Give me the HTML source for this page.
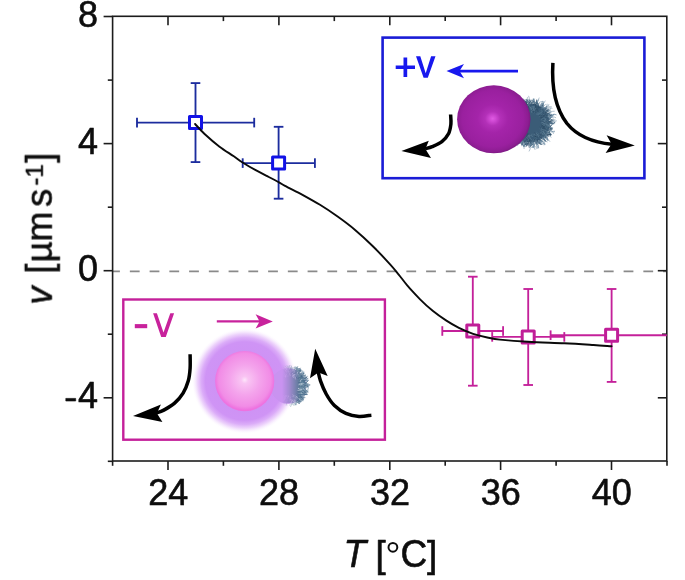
<!DOCTYPE html>
<html><head><meta charset="utf-8"><title>v vs T</title>
<style>html,body{margin:0;padding:0;background:#fff;}body{width:685px;height:580px;overflow:hidden;font-family:"Liberation Sans",sans-serif;}svg{display:block}</style>
</head><body>
<svg width="685" height="580" viewBox="0 0 685 580">
<defs>
<radialGradient id="gP" cx="0.485" cy="0.49" r="0.52">
<stop offset="0" stop-color="#de5ce2"/><stop offset="0.07" stop-color="#d24bd6"/><stop offset="0.2" stop-color="#b330b8"/><stop offset="0.4" stop-color="#a424a9"/><stop offset="0.8" stop-color="#9a209f"/><stop offset="0.93" stop-color="#8d1d92"/><stop offset="1" stop-color="#7a1880"/>
</radialGradient>
<radialGradient id="gGlow" cx="0.5" cy="0.5" r="0.5">
<stop offset="0" stop-color="#cc8ef4"/><stop offset="0.74" stop-color="#cf94f5"/><stop offset="0.82" stop-color="#d59ef7" stop-opacity="0.85"/><stop offset="0.89" stop-color="#dcaaf8" stop-opacity="0.52"/><stop offset="0.95" stop-color="#e8c4fb" stop-opacity="0.18"/><stop offset="1" stop-color="#ffffff" stop-opacity="0"/>
</radialGradient>
<radialGradient id="gPink" cx="0.5" cy="0.48" r="0.5">
<stop offset="0" stop-color="#fde6fb"/><stop offset="0.12" stop-color="#f9c4f3"/><stop offset="0.5" stop-color="#f4a4ec"/><stop offset="0.88" stop-color="#f18ce6"/><stop offset="1" stop-color="#ee72e0"/>
</radialGradient>
<filter id="blur1" x="-20%" y="-20%" width="140%" height="140%"><feGaussianBlur stdDeviation="0.5"/></filter>
<filter id="blur2" x="-20%" y="-20%" width="140%" height="140%"><feGaussianBlur stdDeviation="0.7"/></filter>
<linearGradient id="lgB" gradientUnits="userSpaceOnUse" x1="282" y1="0" x2="300" y2="0"><stop offset="0" stop-color="#000"/><stop offset="0.4" stop-color="#555"/><stop offset="1" stop-color="#fff"/></linearGradient>
<mask id="mB" maskUnits="userSpaceOnUse" x="260" y="350" width="70" height="70"><rect x="260" y="350" width="70" height="70" fill="url(#lgB)"/></mask>
<filter id="tb" x="-5%" y="-5%" width="110%" height="110%"><feGaussianBlur stdDeviation="0.35"/></filter>
</defs>
<rect width="685" height="580" fill="#ffffff"/>
<line x1="112.6" y1="271.3" x2="666.8" y2="271.3" stroke="#8a8a8a" stroke-width="1.7" stroke-dasharray="9.8 9.95" stroke-dashoffset="2.5"/>
<g stroke="#1c1c1c" stroke-width="1.6" fill="none">
<rect x="112.6" y="16.3" width="554.2" height="444.7"/>
<line x1="112.6" y1="461.0" x2="112.6" y2="465.8"/>
<line x1="168.0" y1="461.0" x2="168.0" y2="470.0"/>
<line x1="168.0" y1="16.3" x2="168.0" y2="25.3"/>
<line x1="223.4" y1="461.0" x2="223.4" y2="465.8"/>
<line x1="223.4" y1="16.3" x2="223.4" y2="21.1"/>
<line x1="278.9" y1="461.0" x2="278.9" y2="470.0"/>
<line x1="278.9" y1="16.3" x2="278.9" y2="25.3"/>
<line x1="334.3" y1="461.0" x2="334.3" y2="465.8"/>
<line x1="334.3" y1="16.3" x2="334.3" y2="21.1"/>
<line x1="389.8" y1="461.0" x2="389.8" y2="470.0"/>
<line x1="389.8" y1="16.3" x2="389.8" y2="25.3"/>
<line x1="445.2" y1="461.0" x2="445.2" y2="465.8"/>
<line x1="445.2" y1="16.3" x2="445.2" y2="21.1"/>
<line x1="500.6" y1="461.0" x2="500.6" y2="470.0"/>
<line x1="500.6" y1="16.3" x2="500.6" y2="25.3"/>
<line x1="556.1" y1="461.0" x2="556.1" y2="465.8"/>
<line x1="556.1" y1="16.3" x2="556.1" y2="21.1"/>
<line x1="611.5" y1="461.0" x2="611.5" y2="470.0"/>
<line x1="611.5" y1="16.3" x2="611.5" y2="25.3"/>
<line x1="667.0" y1="461.0" x2="667.0" y2="465.8"/>
<line x1="112.6" y1="461.3" x2="107.8" y2="461.3"/>
<line x1="112.6" y1="397.8" x2="103.6" y2="397.8"/>
<line x1="666.8" y1="397.8" x2="657.8" y2="397.8"/>
<line x1="112.6" y1="334.2" x2="107.8" y2="334.2"/>
<line x1="666.8" y1="334.2" x2="662.0" y2="334.2"/>
<line x1="112.6" y1="270.7" x2="103.6" y2="270.7"/>
<line x1="666.8" y1="270.7" x2="657.8" y2="270.7"/>
<line x1="112.6" y1="207.2" x2="107.8" y2="207.2"/>
<line x1="666.8" y1="207.2" x2="662.0" y2="207.2"/>
<line x1="112.6" y1="143.6" x2="103.6" y2="143.6"/>
<line x1="666.8" y1="143.6" x2="657.8" y2="143.6"/>
<line x1="112.6" y1="80.1" x2="107.8" y2="80.1"/>
<line x1="666.8" y1="80.1" x2="662.0" y2="80.1"/>
<line x1="112.6" y1="16.5" x2="103.6" y2="16.5"/>
</g>
<g font-family="Liberation Sans, sans-serif" font-size="36" fill="#111" stroke="#111" stroke-width="0.6" stroke-linejoin="round" filter="url(#tb)">
<text transform="translate(168.2,504.6) scale(1,1.04)" text-anchor="middle">24</text>
<text transform="translate(279.1,504.6) scale(1,1.04)" text-anchor="middle">28</text>
<text transform="translate(390.0,504.6) scale(1,1.04)" text-anchor="middle">32</text>
<text transform="translate(500.8,504.6) scale(1,1.04)" text-anchor="middle">36</text>
<text transform="translate(611.7,504.6) scale(1,1.04)" text-anchor="middle">40</text>
<text transform="translate(97.9,27.1) scale(1,1.04)" text-anchor="end">8</text>
<text transform="translate(97.9,154.2) scale(1,1.04)" text-anchor="end">4</text>
<text transform="translate(97.9,281.3) scale(1,1.04)" text-anchor="end">0</text>
<text transform="translate(97.9,408.4) scale(1,1.04)" text-anchor="end">4</text>
<rect x="65.8" y="398.4" width="9.9" height="2.6"/>
</g>
<g font-family="Liberation Sans, sans-serif" fill="#111" stroke="#111" stroke-width="0.6" stroke-linejoin="round" filter="url(#tb)">
<text transform="translate(343.6,567) scale(1,1.04)" font-size="37" font-style="italic">T</text>
<text x="375.6" y="566.5" font-size="37">[</text>
<text x="427.1" y="566.5" font-size="37">]</text>
<circle cx="392.9" cy="547.3" r="4.4" fill="none" stroke="#111" stroke-width="2"/>
<text transform="translate(400.4,567) scale(1,1.04)" font-size="37">C</text>
<text transform="translate(51.8,304.6) rotate(-90)" font-size="36"><tspan font-style="italic" x="0">v</tspan><tspan x="31">[</tspan><tspan x="42.2">&#181;m</tspan><tspan x="97.8">s</tspan><tspan font-size="24" x="119" dy="-9.4">-1</tspan><tspan x="141.8" dy="9.4">]</tspan></text>
</g>
<g stroke="#1c2c9e" stroke-width="1.85" fill="none">
<line x1="137" y1="122.6" x2="254.2" y2="122.6"/>
<line x1="195.5" y1="83.1" x2="195.5" y2="162.1"/>
<line x1="137" y1="117.8" x2="137" y2="127.39999999999999"/>
<line x1="254.2" y1="117.8" x2="254.2" y2="127.39999999999999"/>
<line x1="190.7" y1="83.1" x2="200.3" y2="83.1"/>
<line x1="190.7" y1="162.1" x2="200.3" y2="162.1"/>
</g>
<g stroke="#1c2c9e" stroke-width="1.85" fill="none">
<line x1="242.7" y1="163.1" x2="314.9" y2="163.1"/>
<line x1="278.6" y1="126.8" x2="278.6" y2="198.7"/>
<line x1="242.7" y1="158.29999999999998" x2="242.7" y2="167.9"/>
<line x1="314.9" y1="158.29999999999998" x2="314.9" y2="167.9"/>
<line x1="273.8" y1="126.8" x2="283.40000000000003" y2="126.8"/>
<line x1="273.8" y1="198.7" x2="283.40000000000003" y2="198.7"/>
</g>
<g stroke="#c4209a" stroke-width="1.85" fill="none">
<line x1="442.3" y1="331.0" x2="503.1" y2="331.0"/>
<line x1="472.8" y1="276.7" x2="472.8" y2="385.7"/>
<line x1="442.3" y1="326.2" x2="442.3" y2="335.8"/>
<line x1="503.1" y1="326.2" x2="503.1" y2="335.8"/>
<line x1="468.0" y1="276.7" x2="477.6" y2="276.7"/>
<line x1="468.0" y1="385.7" x2="477.6" y2="385.7"/>
</g>
<g stroke="#c4209a" stroke-width="1.85" fill="none">
<line x1="492.2" y1="336.9" x2="564.3" y2="336.9"/>
<line x1="528.2" y1="289" x2="528.2" y2="385"/>
<line x1="492.2" y1="332.09999999999997" x2="492.2" y2="341.7"/>
<line x1="564.3" y1="332.09999999999997" x2="564.3" y2="341.7"/>
<line x1="523.4000000000001" y1="289" x2="533.0" y2="289"/>
<line x1="523.4000000000001" y1="385" x2="533.0" y2="385"/>
</g>
<g stroke="#c4209a" stroke-width="1.85" fill="none">
<line x1="550.6" y1="335.2" x2="666.8" y2="335.2"/>
<line x1="611.6" y1="289" x2="611.6" y2="381.9"/>
<line x1="550.6" y1="330.4" x2="550.6" y2="340.0"/>
<line x1="606.8000000000001" y1="289" x2="616.4" y2="289"/>
<line x1="606.8000000000001" y1="381.9" x2="616.4" y2="381.9"/>
</g>
<rect x="189.5" y="116.6" width="12" height="12" fill="#ffffff" stroke="#1212e6" stroke-width="3" stroke-linejoin="round"/>
<rect x="272.6" y="157.1" width="12" height="12" fill="#ffffff" stroke="#1212e6" stroke-width="3" stroke-linejoin="round"/>
<rect x="466.8" y="325.0" width="12" height="12" fill="#ffffff" stroke="#c01e98" stroke-width="3" stroke-linejoin="round"/>
<rect x="522.2" y="330.9" width="12" height="12" fill="#ffffff" stroke="#c01e98" stroke-width="3" stroke-linejoin="round"/>
<rect x="605.6" y="329.2" width="12" height="12" fill="#ffffff" stroke="#c01e98" stroke-width="3" stroke-linejoin="round"/>
<path d="M195.1,124.0 C196.7,125.7 200.6,130.3 204.6,134.0 C208.6,137.7 214.3,142.7 219.2,146.4 C224.1,150.1 229.9,153.6 233.8,156.3 C237.7,159.0 238.9,160.2 242.6,162.5 C246.2,164.8 251.3,167.8 255.7,170.2 C260.1,172.6 264.9,175.0 268.8,177.0 C272.7,179.0 276.4,180.9 279.1,182.4 C281.8,183.9 281.1,183.8 285.0,185.9 C288.9,188.0 296.7,191.7 302.5,194.8 C308.3,198.0 314.1,201.2 320.0,204.8 C325.9,208.4 331.8,212.4 337.6,216.6 C343.5,220.8 349.3,225.1 355.1,230.0 C360.9,234.9 366.8,240.3 372.6,246.0 C378.4,251.7 385.7,259.5 390.1,264.3 C394.5,269.1 396.0,271.3 398.9,274.8 C401.8,278.3 403.7,281.2 407.2,285.3 C410.7,289.4 415.8,295.0 420.1,299.3 C424.4,303.6 428.7,307.6 433.0,311.1 C437.3,314.6 441.7,317.6 446.0,320.4 C450.3,323.2 454.4,325.6 458.9,327.9 C463.4,330.1 468.4,332.3 473.1,333.9 C477.8,335.5 482.8,336.6 487.3,337.5 C491.8,338.4 493.2,338.9 500.0,339.6 C506.8,340.3 517.4,341.2 528.1,341.8 C538.8,342.4 553.4,342.8 564.3,343.3 C575.2,343.8 585.6,344.5 593.5,345.0 C601.4,345.5 608.6,346.1 611.6,346.3" fill="none" stroke="#0a0a0a" stroke-width="1.9" stroke-linecap="round"/>
<rect x="382.6" y="37.6" width="261.8" height="140.6" fill="#ffffff" stroke="#1a1cd6" stroke-width="2.6"/>
<path d="M395.7,65.4H415V69.1H395.7Z M403.5,57.6H407.2V76.9H403.5Z" fill="#1818ee"/>
<path d="M416.0,56.3 L420.3,56.3 L425.7,73.2 L431.1,56.3 L435.5,56.3 L427.8,77.8 L423.6,77.8 Z" fill="#1818ee"/>
<line x1="518" y1="71.1" x2="458" y2="71.1" stroke="#1818ee" stroke-width="2.6"/>
<path d="M446.5,71.1 L464,64.0 L459.5,71.1 L464,78.2 Z" fill="#1818ee"/>
<g fill="none" stroke-linecap="round">
<circle cx="530.2" cy="123.1" r="19.5" fill="#3a5c77" stroke="none" filter="url(#blur2)"/>
<path d="M531.5,140.1Q530.9,141.4 531.2,143.0" stroke="#3a5b76" stroke-width="0.80"/>
<path d="M543.9,114.3Q545.3,113.3 545.4,111.2" stroke="#5d7d94" stroke-width="0.92"/>
<path d="M512.5,125.8Q511.8,124.8 510.1,125.5" stroke="#5d7d94" stroke-width="0.69"/>
<path d="M549.3,124.9Q550.5,124.7 550.7,126.8" stroke="#3a5b76" stroke-width="0.91"/>
<path d="M528.1,140.5Q526.8,142.3 528.4,144.9" stroke="#31506a" stroke-width="0.70"/>
<path d="M535.2,107.9Q535.3,105.7 539.0,105.5" stroke="#44667f" stroke-width="0.75"/>
<path d="M529.3,141.3Q528.3,143.1 526.7,144.4" stroke="#31506a" stroke-width="0.79"/>
<path d="M514.9,119.8Q514.1,118.7 512.3,120.0" stroke="#3a5b76" stroke-width="0.93"/>
<path d="M548.4,122.1Q548.2,123.3 550.4,123.4" stroke="#5d7d94" stroke-width="0.78"/>
<path d="M527.2,110.0Q526.0,108.3 526.8,105.9" stroke="#3a5b76" stroke-width="0.74"/>
<path d="M519.6,110.5Q518.9,109.3 516.7,110.3" stroke="#3a5b76" stroke-width="0.65"/>
<path d="M532.6,103.3Q531.8,102.5 533.2,101.3" stroke="#2c4962" stroke-width="0.79"/>
<path d="M510.9,116.7Q510.5,118.0 508.2,117.1" stroke="#3a5b76" stroke-width="0.54"/>
<path d="M521.3,116.7Q520.4,115.8 519.1,115.5" stroke="#44667f" stroke-width="0.84"/>
<path d="M545.0,121.2Q546.5,121.4 547.1,119.2" stroke="#31506a" stroke-width="0.73"/>
<path d="M512.4,120.8Q510.8,120.0 508.9,120.0" stroke="#5d7d94" stroke-width="0.64"/>
<path d="M517.8,109.2Q515.6,108.8 514.5,106.2" stroke="#4f7189" stroke-width="0.77"/>
<path d="M545.9,124.2Q547.4,123.4 548.4,121.7" stroke="#2c4962" stroke-width="0.57"/>
<path d="M520.3,112.1Q520.7,110.7 520.3,109.1" stroke="#4f7189" stroke-width="0.87"/>
<path d="M541.5,124.7Q543.3,125.4 543.6,127.8" stroke="#31506a" stroke-width="0.65"/>
<path d="M519.8,115.4Q520.2,114.2 518.6,113.2" stroke="#4f7189" stroke-width="0.65"/>
<path d="M516.5,136.4Q515.5,136.5 514.8,137.7" stroke="#4f7189" stroke-width="0.75"/>
<path d="M522.2,111.5Q522.3,110.1 521.4,108.7" stroke="#3a5b76" stroke-width="0.55"/>
<path d="M523.7,136.5Q521.8,137.2 522.3,140.4" stroke="#44667f" stroke-width="0.54"/>
<path d="M529.5,109.6Q529.9,107.9 528.0,106.5" stroke="#3a5b76" stroke-width="0.76"/>
<path d="M537.3,141.2Q539.3,141.4 540.6,143.7" stroke="#2c4962" stroke-width="0.54"/>
<path d="M517.4,111.2Q517.5,109.6 515.2,109.0" stroke="#31506a" stroke-width="0.67"/>
<path d="M516.5,131.0Q515.2,131.8 513.5,130.3" stroke="#3a5b76" stroke-width="0.74"/>
<path d="M539.0,107.7Q540.6,108.0 541.0,105.0" stroke="#2c4962" stroke-width="0.61"/>
<path d="M529.6,103.4Q528.8,101.8 529.7,99.7" stroke="#4f7189" stroke-width="0.94"/>
<path d="M543.0,107.9Q541.7,106.1 543.1,103.4" stroke="#3a5b76" stroke-width="0.95"/>
<path d="M523.1,104.0Q524.3,102.1 524.7,99.9" stroke="#3a5b76" stroke-width="0.74"/>
<path d="M542.3,134.5Q543.6,134.5 544.9,134.3" stroke="#3a5b76" stroke-width="0.97"/>
<path d="M518.8,113.4Q518.5,112.1 518.3,110.8" stroke="#3a5b76" stroke-width="0.68"/>
<path d="M535.7,139.1Q536.2,141.1 539.0,141.6" stroke="#44667f" stroke-width="0.91"/>
<path d="M548.0,123.9Q548.6,121.9 551.1,121.0" stroke="#4f7189" stroke-width="0.81"/>
<path d="M519.0,121.7Q519.0,120.3 516.8,119.9" stroke="#44667f" stroke-width="0.52"/>
<path d="M545.8,128.2Q546.6,128.9 547.4,129.5" stroke="#31506a" stroke-width="0.66"/>
<path d="M524.3,136.9Q523.8,138.7 522.3,140.0" stroke="#44667f" stroke-width="0.99"/>
<path d="M519.1,128.4Q518.3,127.8 517.1,128.5" stroke="#5d7d94" stroke-width="0.59"/>
<path d="M517.9,135.7Q515.9,136.3 515.7,139.1" stroke="#5d7d94" stroke-width="0.94"/>
<path d="M547.0,128.9Q548.0,130.7 551.0,128.9" stroke="#31506a" stroke-width="0.73"/>
<path d="M530.7,140.0Q532.3,141.1 533.5,142.7" stroke="#31506a" stroke-width="0.57"/>
<path d="M544.7,125.7Q545.6,127.8 549.1,127.0" stroke="#3a5b76" stroke-width="0.73"/>
<path d="M544.1,136.7Q543.1,138.2 544.5,140.4" stroke="#2c4962" stroke-width="0.55"/>
<path d="M523.2,138.5Q521.7,140.0 520.1,141.3" stroke="#44667f" stroke-width="0.89"/>
<path d="M541.6,126.4Q542.7,126.6 542.9,128.2" stroke="#3a5b76" stroke-width="0.67"/>
<path d="M536.7,114.4Q537.7,113.8 538.0,112.5" stroke="#4f7189" stroke-width="0.79"/>
<path d="M533.5,112.6Q535.0,111.2 534.8,108.8" stroke="#3a5b76" stroke-width="0.78"/>
<path d="M544.1,133.2Q545.5,134.0 545.0,136.5" stroke="#3a5b76" stroke-width="0.62"/>
<path d="M536.1,135.7Q536.6,137.4 536.1,139.3" stroke="#4f7189" stroke-width="0.80"/>
<path d="M546.1,116.7Q546.8,114.5 549.8,114.1" stroke="#31506a" stroke-width="0.92"/>
<path d="M545.6,119.9Q546.6,121.3 549.1,119.7" stroke="#2c4962" stroke-width="0.74"/>
<path d="M517.6,107.3Q516.8,106.5 515.3,106.9" stroke="#2c4962" stroke-width="0.76"/>
<path d="M512.7,129.6Q512.6,130.9 511.0,131.4" stroke="#5d7d94" stroke-width="0.76"/>
<path d="M548.4,115.2Q549.8,116.0 551.7,115.5" stroke="#31506a" stroke-width="0.80"/>
<path d="M512.2,112.5Q510.2,113.3 508.0,111.7" stroke="#31506a" stroke-width="0.60"/>
<path d="M517.7,117.3Q516.7,116.0 516.3,114.4" stroke="#2c4962" stroke-width="0.74"/>
<path d="M517.0,113.6Q516.5,111.6 515.5,109.7" stroke="#31506a" stroke-width="1.00"/>
<path d="M548.7,132.1Q550.7,132.2 550.4,135.8" stroke="#44667f" stroke-width="0.95"/>
<path d="M518.8,107.7Q517.7,107.9 516.8,106.8" stroke="#44667f" stroke-width="0.89"/>
<path d="M541.7,136.6Q542.6,138.3 545.5,136.7" stroke="#44667f" stroke-width="0.93"/>
<path d="M524.1,137.7Q526.0,138.2 525.4,141.3" stroke="#4f7189" stroke-width="0.52"/>
<path d="M512.2,128.6Q512.2,130.1 511.1,131.3" stroke="#31506a" stroke-width="0.74"/>
<path d="M534.5,140.0Q535.3,142.1 536.5,144.0" stroke="#3a5b76" stroke-width="0.94"/>
<path d="M544.3,130.4Q545.9,130.3 547.0,132.0" stroke="#5d7d94" stroke-width="0.97"/>
<path d="M516.7,136.7Q515.3,138.0 515.2,140.3" stroke="#2c4962" stroke-width="0.97"/>
<path d="M535.2,112.1Q535.8,110.0 535.7,107.7" stroke="#5d7d94" stroke-width="0.56"/>
<path d="M515.2,123.7Q513.4,122.9 511.4,122.6" stroke="#44667f" stroke-width="0.82"/>
<path d="M528.6,110.6Q529.4,109.3 530.4,108.2" stroke="#3a5b76" stroke-width="0.97"/>
<path d="M539.6,134.6Q540.3,136.4 541.4,138.0" stroke="#2c4962" stroke-width="0.59"/>
<path d="M511.1,125.2Q511.1,127.1 508.5,128.0" stroke="#5d7d94" stroke-width="0.77"/>
<path d="M529.2,108.0Q530.0,106.9 528.5,105.4" stroke="#3a5b76" stroke-width="0.74"/>
<path d="M527.7,141.4Q526.2,140.9 525.3,143.7" stroke="#31506a" stroke-width="0.77"/>
<path d="M532.2,108.2Q530.4,107.2 530.0,104.6" stroke="#3a5b76" stroke-width="0.84"/>
<path d="M511.6,115.1Q510.9,114.2 509.9,113.5" stroke="#2c4962" stroke-width="0.87"/>
<path d="M537.8,105.8Q537.0,104.2 537.0,102.3" stroke="#44667f" stroke-width="0.77"/>
<path d="M536.4,134.5Q538.5,135.2 539.3,137.7" stroke="#31506a" stroke-width="0.95"/>
<path d="M544.8,118.3Q546.5,118.5 548.2,117.7" stroke="#5d7d94" stroke-width="0.84"/>
<path d="M524.1,142.0Q522.7,142.8 522.6,144.9" stroke="#3a5b76" stroke-width="0.55"/>
<path d="M530.7,109.4Q530.2,108.3 531.3,107.0" stroke="#5d7d94" stroke-width="0.61"/>
<path d="M538.0,104.3Q536.4,102.7 536.7,100.0" stroke="#2c4962" stroke-width="0.95"/>
<path d="M542.9,137.6Q544.6,137.1 546.5,137.8" stroke="#44667f" stroke-width="0.75"/>
<path d="M519.4,123.2Q518.3,124.1 516.7,124.1" stroke="#2c4962" stroke-width="0.57"/>
<path d="M541.3,109.4Q543.5,109.6 545.1,107.3" stroke="#4f7189" stroke-width="1.00"/>
<path d="M533.4,134.1Q534.1,135.1 533.2,136.6" stroke="#4f7189" stroke-width="0.55"/>
<path d="M541.4,126.2Q542.6,125.8 543.8,125.3" stroke="#2c4962" stroke-width="0.53"/>
<path d="M538.2,112.4Q537.7,110.8 537.5,109.2" stroke="#2c4962" stroke-width="0.70"/>
<path d="M538.7,141.4Q540.3,142.5 541.2,144.4" stroke="#5d7d94" stroke-width="0.68"/>
<path d="M513.3,135.1Q512.8,137.1 511.2,138.7" stroke="#31506a" stroke-width="0.77"/>
<path d="M536.1,132.2Q536.5,133.9 537.9,135.2" stroke="#44667f" stroke-width="0.56"/>
<path d="M538.3,137.5Q539.4,137.6 540.4,137.9" stroke="#31506a" stroke-width="0.52"/>
<path d="M527.1,109.7Q527.8,108.9 526.6,107.6" stroke="#44667f" stroke-width="0.62"/>
<path d="M520.1,131.5Q518.8,132.1 519.6,134.4" stroke="#5d7d94" stroke-width="0.53"/>
<path d="M528.2,109.1Q529.7,107.7 527.4,105.1" stroke="#4f7189" stroke-width="0.74"/>
<path d="M520.0,119.0Q519.1,117.9 519.2,116.2" stroke="#3a5b76" stroke-width="0.84"/>
<path d="M547.4,119.7Q546.9,118.8 548.4,118.0" stroke="#44667f" stroke-width="0.75"/>
<path d="M517.1,124.6Q515.7,123.7 514.1,125.9" stroke="#31506a" stroke-width="0.67"/>
<path d="M515.3,125.1Q513.5,124.6 511.8,126.4" stroke="#2c4962" stroke-width="0.97"/>
<path d="M542.5,130.6Q544.4,129.8 546.6,130.0" stroke="#4f7189" stroke-width="0.77"/>
<path d="M533.0,107.7Q534.1,106.0 536.1,104.9" stroke="#5d7d94" stroke-width="0.68"/>
<path d="M538.0,140.8Q538.1,142.4 539.6,143.6" stroke="#4f7189" stroke-width="0.63"/>
<path d="M539.2,139.4Q539.9,141.1 539.7,143.0" stroke="#31506a" stroke-width="0.52"/>
<path d="M539.2,139.8Q540.6,141.3 543.0,141.2" stroke="#2c4962" stroke-width="0.55"/>
<path d="M531.8,142.8Q530.0,142.9 529.7,145.8" stroke="#31506a" stroke-width="0.73"/>
<path d="M542.4,109.9Q540.6,108.4 541.7,105.3" stroke="#3a5b76" stroke-width="0.67"/>
<path d="M524.1,138.0Q523.5,140.0 524.7,142.1" stroke="#44667f" stroke-width="0.97"/>
<path d="M543.2,139.4Q544.3,139.2 545.2,140.6" stroke="#5d7d94" stroke-width="0.76"/>
<path d="M510.0,122.5Q509.7,121.1 507.8,120.6" stroke="#31506a" stroke-width="0.59"/>
<path d="M547.4,132.4Q548.2,133.2 549.6,131.6" stroke="#44667f" stroke-width="0.97"/>
<path d="M529.8,135.2Q528.5,135.9 528.1,137.7" stroke="#3a5b76" stroke-width="0.82"/>
<path d="M531.6,103.2Q531.8,101.7 532.4,100.4" stroke="#3a5b76" stroke-width="0.65"/>
<path d="M545.3,117.7Q544.4,116.5 546.8,115.1" stroke="#4f7189" stroke-width="0.86"/>
<path d="M543.5,130.1Q545.1,129.8 546.6,129.2" stroke="#2c4962" stroke-width="0.68"/>
<path d="M532.6,111.9Q533.6,110.5 531.9,108.6" stroke="#3a5b76" stroke-width="0.67"/>
<path d="M519.5,128.0Q518.3,128.1 518.2,130.3" stroke="#2c4962" stroke-width="0.61"/>
<path d="M543.5,109.8Q545.0,110.5 546.5,108.6" stroke="#4f7189" stroke-width="0.97"/>
<path d="M547.1,111.3Q548.6,110.8 550.3,110.9" stroke="#5d7d94" stroke-width="0.96"/>
<path d="M524.9,142.9Q524.8,144.1 526.0,145.1" stroke="#4f7189" stroke-width="0.75"/>
<path d="M545.3,129.2Q546.6,129.0 547.8,128.9" stroke="#3a5b76" stroke-width="0.67"/>
<path d="M529.3,104.2Q528.0,103.8 527.4,102.2" stroke="#31506a" stroke-width="0.72"/>
<path d="M534.7,138.9Q536.4,140.1 537.3,142.2" stroke="#2c4962" stroke-width="0.69"/>
<path d="M537.9,135.5Q538.6,137.0 539.5,138.3" stroke="#4f7189" stroke-width="0.98"/>
<path d="M527.6,133.7Q526.5,134.8 527.6,136.7" stroke="#2c4962" stroke-width="0.62"/>
<path d="M533.9,113.1Q534.5,112.1 534.9,111.0" stroke="#44667f" stroke-width="0.98"/>
<path d="M551.1,123.4Q552.4,124.9 555.0,122.4" stroke="#4f7189" stroke-width="0.99"/>
<path d="M543.0,126.0Q544.0,125.7 545.0,126.2" stroke="#3a5b76" stroke-width="0.80"/>
<path d="M536.2,108.2Q537.1,107.1 538.0,106.1" stroke="#2c4962" stroke-width="0.63"/>
<path d="M545.5,127.4Q545.5,129.3 548.5,129.5" stroke="#5d7d94" stroke-width="0.62"/>
<path d="M542.7,137.4Q542.5,139.4 545.3,140.5" stroke="#5d7d94" stroke-width="0.57"/>
<path d="M541.3,124.3Q543.0,124.4 543.9,122.2" stroke="#31506a" stroke-width="0.73"/>
<path d="M519.9,105.5Q518.8,103.7 518.5,101.6" stroke="#5d7d94" stroke-width="0.82"/>
<path d="M527.1,134.3Q527.1,135.4 525.2,135.8" stroke="#4f7189" stroke-width="0.72"/>
<path d="M527.7,136.8Q527.2,138.1 527.1,139.5" stroke="#44667f" stroke-width="0.76"/>
<path d="M513.4,133.5Q511.5,132.5 509.3,132.6" stroke="#3a5b76" stroke-width="0.66"/>
<path d="M520.2,116.1Q520.4,114.9 519.2,114.0" stroke="#4f7189" stroke-width="0.55"/>
<path d="M522.7,109.8Q524.3,109.3 523.4,106.5" stroke="#2c4962" stroke-width="0.72"/>
<path d="M524.6,137.0Q523.1,138.1 521.1,138.4" stroke="#3a5b76" stroke-width="0.64"/>
<path d="M549.7,116.7Q550.5,115.5 552.2,115.4" stroke="#44667f" stroke-width="0.71"/>
<path d="M512.9,133.6Q511.8,132.3 509.8,132.7" stroke="#2c4962" stroke-width="0.76"/>
<path d="M529.3,103.4Q528.2,102.0 531.2,100.3" stroke="#4f7189" stroke-width="0.99"/>
<path d="M524.5,108.2Q522.7,106.9 522.6,104.1" stroke="#5d7d94" stroke-width="0.52"/>
<path d="M532.0,143.7Q532.2,144.9 530.6,145.6" stroke="#31506a" stroke-width="0.84"/>
<path d="M522.6,113.1Q521.8,112.5 522.2,111.0" stroke="#44667f" stroke-width="0.82"/>
<path d="M538.8,132.3Q540.3,131.5 542.1,133.0" stroke="#3a5b76" stroke-width="0.72"/>
<path d="M534.7,133.0Q535.9,133.0 536.8,134.0" stroke="#31506a" stroke-width="0.68"/>
<path d="M540.2,117.2Q540.4,118.4 542.6,117.8" stroke="#31506a" stroke-width="0.62"/>
<path d="M517.6,139.4Q516.7,140.8 514.9,141.1" stroke="#3a5b76" stroke-width="0.87"/>
<path d="M510.8,119.3Q509.2,119.1 507.6,119.2" stroke="#4f7189" stroke-width="0.72"/>
<path d="M511.0,118.9Q510.8,117.6 508.7,117.9" stroke="#2c4962" stroke-width="0.59"/>
<path d="M549.4,118.6Q549.6,117.4 551.3,117.1" stroke="#3a5b76" stroke-width="0.80"/>
<path d="M546.8,129.3Q547.9,128.9 549.0,130.5" stroke="#3a5b76" stroke-width="0.90"/>
<path d="M548.5,122.1Q550.0,121.2 551.6,123.5" stroke="#5d7d94" stroke-width="0.79"/>
<path d="M522.2,138.6Q521.5,139.7 521.2,141.0" stroke="#2c4962" stroke-width="0.66"/>
<path d="M519.1,136.8Q517.5,135.2 514.6,137.2" stroke="#4f7189" stroke-width="0.64"/>
<path d="M544.2,121.0Q545.2,121.5 546.5,120.7" stroke="#4f7189" stroke-width="0.86"/>
<path d="M530.3,139.0Q531.5,139.7 532.0,141.1" stroke="#44667f" stroke-width="0.99"/>
<path d="M514.4,120.3Q513.2,121.5 511.5,122.3" stroke="#5d7d94" stroke-width="0.89"/>
<path d="M548.7,130.3Q549.6,131.5 549.6,133.2" stroke="#44667f" stroke-width="0.53"/>
<path d="M518.0,123.6Q516.1,123.7 514.2,124.5" stroke="#3a5b76" stroke-width="0.65"/>
<path d="M514.6,122.6Q514.1,121.2 511.8,121.7" stroke="#5d7d94" stroke-width="0.75"/>
<path d="M525.5,132.5Q525.0,133.5 526.4,134.5" stroke="#44667f" stroke-width="0.66"/>
<path d="M527.9,133.8Q526.5,134.7 525.1,135.8" stroke="#2c4962" stroke-width="0.68"/>
<path d="M526.7,104.0Q526.4,102.8 525.5,101.8" stroke="#5d7d94" stroke-width="0.94"/>
<path d="M518.4,134.4Q519.1,136.5 516.6,138.4" stroke="#44667f" stroke-width="0.80"/>
<path d="M539.6,128.7Q540.9,129.3 542.3,127.6" stroke="#44667f" stroke-width="0.74"/>
<path d="M538.7,133.4Q537.8,134.9 540.6,136.5" stroke="#4f7189" stroke-width="0.72"/>
<path d="M547.3,135.0Q549.1,134.5 551.0,134.5" stroke="#2c4962" stroke-width="1.00"/>
<path d="M539.9,127.4Q540.5,128.9 543.1,128.3" stroke="#2c4962" stroke-width="0.67"/>
<path d="M515.0,131.6Q514.4,133.7 512.9,135.3" stroke="#3a5b76" stroke-width="0.53"/>
<path d="M510.1,120.8Q508.6,120.1 507.0,122.0" stroke="#44667f" stroke-width="0.62"/>
<path d="M510.7,127.0Q509.3,126.0 507.9,128.8" stroke="#2c4962" stroke-width="0.98"/>
<path d="M532.7,140.2Q532.4,141.6 532.7,143.1" stroke="#4f7189" stroke-width="0.81"/>
<path d="M518.5,138.2Q516.4,137.5 514.3,139.4" stroke="#44667f" stroke-width="0.72"/>
<path d="M526.6,103.6Q527.8,102.1 526.0,100.0" stroke="#44667f" stroke-width="0.91"/>
<path d="M541.5,118.4Q542.2,116.3 545.2,116.0" stroke="#44667f" stroke-width="0.88"/>
<path d="M523.8,135.4Q521.7,135.8 520.7,138.3" stroke="#44667f" stroke-width="0.70"/>
<path d="M520.2,131.4Q519.2,132.2 519.1,133.8" stroke="#4f7189" stroke-width="0.87"/>
<path d="M534.0,137.1Q535.0,137.9 535.9,138.7" stroke="#44667f" stroke-width="0.61"/>
<path d="M521.8,107.6Q521.4,106.4 521.7,105.1" stroke="#5d7d94" stroke-width="0.71"/>
<path d="M536.6,136.1Q537.9,136.7 539.4,137.1" stroke="#31506a" stroke-width="0.75"/>
<path d="M517.8,116.4Q515.7,116.0 514.9,113.2" stroke="#5d7d94" stroke-width="0.99"/>
<path d="M518.3,140.4Q517.5,141.8 518.2,143.6" stroke="#4f7189" stroke-width="0.93"/>
<path d="M539.3,134.7Q540.7,134.4 542.1,135.5" stroke="#2c4962" stroke-width="0.77"/>
<path d="M540.7,110.9Q542.3,111.0 543.2,108.8" stroke="#44667f" stroke-width="0.81"/>
<path d="M524.0,103.2Q524.5,101.5 523.5,99.7" stroke="#4f7189" stroke-width="0.77"/>
<path d="M549.8,121.7Q549.7,119.7 553.4,120.0" stroke="#2c4962" stroke-width="0.78"/>
<path d="M531.6,107.3Q530.4,106.5 530.2,104.7" stroke="#44667f" stroke-width="0.78"/>
<path d="M521.1,131.1Q519.6,131.9 519.4,134.0" stroke="#44667f" stroke-width="0.77"/>
<path d="M510.4,127.5Q508.7,127.3 507.3,129.0" stroke="#5d7d94" stroke-width="0.74"/>
<path d="M535.2,139.0Q536.2,139.7 537.3,140.3" stroke="#31506a" stroke-width="0.93"/>
<path d="M514.7,121.6Q513.9,122.3 512.7,122.2" stroke="#4f7189" stroke-width="0.56"/>
<path d="M545.7,117.8Q547.2,118.4 548.0,115.7" stroke="#44667f" stroke-width="0.63"/>
<path d="M534.1,102.9Q532.7,101.7 533.1,99.3" stroke="#4f7189" stroke-width="0.87"/>
<path d="M540.0,116.3Q541.3,114.9 543.8,115.6" stroke="#31506a" stroke-width="0.67"/>
<path d="M544.9,136.0Q546.1,135.9 547.3,135.8" stroke="#5d7d94" stroke-width="0.57"/>
<path d="M543.1,113.7Q544.6,113.2 545.9,112.2" stroke="#31506a" stroke-width="0.63"/>
<path d="M513.4,118.3Q513.1,119.8 510.8,119.9" stroke="#2c4962" stroke-width="0.50"/>
<path d="M533.4,111.1Q533.7,109.2 532.3,107.4" stroke="#2c4962" stroke-width="0.69"/>
<path d="M546.7,127.7Q548.6,128.3 548.7,131.1" stroke="#44667f" stroke-width="0.61"/>
<path d="M541.3,119.9Q541.3,118.3 543.8,118.0" stroke="#4f7189" stroke-width="0.83"/>
<path d="M520.0,115.3Q520.3,114.2 518.5,113.5" stroke="#44667f" stroke-width="0.55"/>
<path d="M524.5,106.2Q524.8,104.6 524.6,102.9" stroke="#2c4962" stroke-width="0.81"/>
<path d="M528.7,141.5Q528.5,142.5 529.3,143.4" stroke="#44667f" stroke-width="0.50"/>
<path d="M520.5,139.1Q522.0,140.6 519.3,143.1" stroke="#44667f" stroke-width="0.69"/>
<path d="M535.7,108.0Q534.6,106.5 535.8,104.3" stroke="#31506a" stroke-width="0.62"/>
<path d="M543.7,123.6Q544.8,123.1 546.0,123.2" stroke="#5d7d94" stroke-width="0.56"/>
<path d="M523.3,111.1Q522.8,110.1 521.8,109.4" stroke="#44667f" stroke-width="0.60"/>
<path d="M517.4,117.2Q516.4,115.5 514.2,114.9" stroke="#2c4962" stroke-width="0.60"/>
<path d="M514.9,113.9Q512.8,114.2 510.8,114.0" stroke="#5d7d94" stroke-width="0.55"/>
<path d="M545.8,115.4Q546.0,113.6 548.8,113.4" stroke="#5d7d94" stroke-width="0.58"/>
<path d="M516.2,138.7Q515.5,139.6 514.6,140.5" stroke="#44667f" stroke-width="0.87"/>
<path d="M531.6,112.4Q530.9,111.6 532.3,110.4" stroke="#5d7d94" stroke-width="0.93"/>
<path d="M539.5,116.8Q540.5,115.2 541.7,113.8" stroke="#4f7189" stroke-width="0.89"/>
<path d="M534.9,109.3Q535.7,107.8 535.4,105.9" stroke="#3a5b76" stroke-width="0.98"/>
<path d="M534.4,134.1Q533.8,135.9 535.6,137.8" stroke="#5d7d94" stroke-width="0.57"/>
<path d="M540.8,140.9Q540.6,142.3 540.5,143.7" stroke="#31506a" stroke-width="0.53"/>
<path d="M521.1,104.8Q521.2,103.3 520.8,101.8" stroke="#31506a" stroke-width="0.72"/>
<path d="M518.8,140.2Q517.8,141.1 517.4,142.6" stroke="#31506a" stroke-width="0.87"/>
<path d="M533.5,134.6Q534.1,135.7 534.3,137.1" stroke="#44667f" stroke-width="0.86"/>
<path d="M515.5,112.4Q513.4,113.4 511.0,113.3" stroke="#31506a" stroke-width="0.59"/>
<path d="M540.8,130.6Q541.6,132.1 544.1,131.2" stroke="#5d7d94" stroke-width="0.79"/>
<path d="M516.2,136.7Q514.9,137.4 513.3,137.3" stroke="#2c4962" stroke-width="0.70"/>
<path d="M517.9,121.1Q516.0,122.1 514.4,118.5" stroke="#31506a" stroke-width="0.86"/>
<path d="M545.4,134.7Q546.8,135.4 548.3,136.0" stroke="#31506a" stroke-width="0.81"/>
<path d="M519.0,124.9Q519.6,126.6 516.5,127.3" stroke="#5d7d94" stroke-width="0.95"/>
<path d="M536.0,105.4Q536.7,103.3 534.5,101.1" stroke="#3a5b76" stroke-width="0.56"/>
<path d="M513.2,111.6Q514.0,110.5 512.2,109.0" stroke="#31506a" stroke-width="1.00"/>
<path d="M540.3,138.5Q540.8,140.2 542.3,141.5" stroke="#5d7d94" stroke-width="0.96"/>
<path d="M529.9,133.9Q531.2,135.8 531.3,138.1" stroke="#3a5b76" stroke-width="0.64"/>
<path d="M547.5,133.4Q548.1,134.6 550.1,133.5" stroke="#44667f" stroke-width="0.87"/>
<path d="M544.6,132.5Q546.4,133.4 546.1,136.2" stroke="#2c4962" stroke-width="0.70"/>
<path d="M515.8,122.4Q515.5,120.4 512.9,119.3" stroke="#5d7d94" stroke-width="0.54"/>
<path d="M530.2,136.4Q529.0,136.1 528.4,138.0" stroke="#2c4962" stroke-width="0.78"/>
<path d="M542.0,133.7Q542.7,134.5 542.2,135.8" stroke="#4f7189" stroke-width="0.91"/>
<path d="M514.3,120.5Q513.7,121.6 511.8,120.8" stroke="#31506a" stroke-width="0.95"/>
<path d="M518.2,132.0Q517.3,133.6 514.9,133.7" stroke="#3a5b76" stroke-width="0.80"/>
<path d="M539.5,132.1Q540.9,132.5 541.2,134.4" stroke="#3a5b76" stroke-width="0.56"/>
<path d="M523.3,138.7Q523.8,140.1 522.9,141.7" stroke="#31506a" stroke-width="0.72"/>
<path d="M524.6,102.9Q524.0,101.8 522.4,101.9" stroke="#4f7189" stroke-width="0.92"/>
<path d="M514.9,125.1Q513.3,124.8 512.0,123.5" stroke="#4f7189" stroke-width="0.85"/>
<path d="M527.8,102.8Q528.0,101.3 527.9,99.9" stroke="#3a5b76" stroke-width="0.74"/>
<path d="M527.4,110.3Q527.3,108.0 523.8,107.5" stroke="#44667f" stroke-width="0.87"/>
<path d="M544.4,119.7Q544.1,118.2 545.7,117.0" stroke="#4f7189" stroke-width="0.94"/>
<path d="M541.4,121.7Q542.9,121.3 543.4,119.4" stroke="#31506a" stroke-width="0.67"/>
<path d="M519.6,124.1Q518.0,123.9 516.5,124.8" stroke="#2c4962" stroke-width="0.54"/>
<path d="M539.4,115.6Q540.3,115.0 541.6,115.4" stroke="#2c4962" stroke-width="0.67"/>
<path d="M533.6,112.4Q534.5,111.1 532.5,109.5" stroke="#2c4962" stroke-width="0.61"/>
<path d="M524.9,105.0Q526.0,103.6 525.6,101.4" stroke="#3a5b76" stroke-width="0.93"/>
<path d="M524.9,105.9Q524.9,104.9 525.2,103.9" stroke="#2c4962" stroke-width="0.92"/>
<path d="M514.4,128.8Q512.7,129.6 512.3,131.9" stroke="#4f7189" stroke-width="0.93"/>
<path d="M527.5,136.5Q526.7,137.4 525.6,138.0" stroke="#31506a" stroke-width="0.62"/>
<path d="M544.4,113.8Q545.7,113.4 546.2,111.7" stroke="#44667f" stroke-width="0.65"/>
<path d="M548.5,132.2Q550.3,133.0 551.6,134.5" stroke="#5d7d94" stroke-width="0.72"/>
<path d="M532.7,134.8Q533.2,136.2 532.8,137.7" stroke="#3a5b76" stroke-width="0.82"/>
<path d="M512.7,127.8Q510.9,127.9 509.1,128.0" stroke="#5d7d94" stroke-width="0.87"/>
<path d="M533.4,104.5Q533.6,102.4 537.1,102.5" stroke="#2c4962" stroke-width="0.54"/>
<path d="M514.2,124.6Q513.6,126.4 511.1,126.9" stroke="#44667f" stroke-width="0.98"/>
<path d="M541.9,115.4Q543.9,116.5 546.4,116.3" stroke="#44667f" stroke-width="0.73"/>
<path d="M517.0,117.4Q516.7,115.5 515.0,114.3" stroke="#3a5b76" stroke-width="0.66"/>
<path d="M524.6,139.7Q522.5,140.4 522.2,143.4" stroke="#44667f" stroke-width="0.81"/>
<path d="M515.9,114.7Q513.9,114.3 512.4,112.4" stroke="#3a5b76" stroke-width="0.60"/>
<path d="M549.7,127.5Q550.8,127.5 551.3,129.1" stroke="#31506a" stroke-width="0.58"/>
<path d="M546.6,134.1Q548.1,135.1 550.1,134.5" stroke="#2c4962" stroke-width="0.77"/>
<path d="M547.2,124.3Q549.1,124.2 550.8,123.4" stroke="#5d7d94" stroke-width="0.62"/>
<path d="M542.8,108.2Q542.7,106.5 543.1,104.7" stroke="#2c4962" stroke-width="0.70"/>
<path d="M515.0,126.6Q514.2,126.0 512.9,126.6" stroke="#3a5b76" stroke-width="0.99"/>
<path d="M528.7,137.6Q528.4,138.7 529.7,139.6" stroke="#3a5b76" stroke-width="0.70"/>
<path d="M547.9,128.1Q548.5,126.7 550.9,127.6" stroke="#31506a" stroke-width="0.52"/>
<path d="M528.7,138.3Q527.2,138.7 527.5,141.1" stroke="#2c4962" stroke-width="0.51"/>
<path d="M532.0,140.6Q530.9,142.5 534.4,144.3" stroke="#31506a" stroke-width="0.68"/>
<path d="M519.3,137.1Q519.1,138.3 516.8,137.6" stroke="#2c4962" stroke-width="0.58"/>
<path d="M529.2,135.5Q527.0,135.5 525.7,138.0" stroke="#5d7d94" stroke-width="0.79"/>
<path d="M544.1,108.6Q545.1,109.3 546.4,108.1" stroke="#31506a" stroke-width="0.88"/>
<path d="M519.8,131.5Q518.3,132.5 518.5,134.9" stroke="#5d7d94" stroke-width="0.68"/>
<path d="M533.9,109.6Q535.6,108.4 536.3,106.2" stroke="#2c4962" stroke-width="0.78"/>
<path d="M513.7,130.2Q512.1,129.6 511.3,132.6" stroke="#5d7d94" stroke-width="0.88"/>
<path d="M527.9,136.1Q526.1,136.9 525.2,138.9" stroke="#44667f" stroke-width="0.83"/>
<path d="M533.1,136.5Q535.1,137.2 535.6,139.9" stroke="#3a5b76" stroke-width="0.99"/>
<path d="M543.4,134.2Q544.3,136.3 545.9,137.9" stroke="#3a5b76" stroke-width="0.98"/>
<path d="M538.2,108.0Q537.8,105.9 538.9,103.6" stroke="#2c4962" stroke-width="0.76"/>
<path d="M529.2,143.5Q528.0,145.2 529.2,147.6" stroke="#31506a" stroke-width="0.63"/>
<path d="M531.3,141.3Q530.7,143.0 529.8,144.5" stroke="#44667f" stroke-width="0.91"/>
<path d="M547.4,124.4Q548.4,123.1 549.9,122.3" stroke="#3a5b76" stroke-width="0.81"/>
<path d="M522.5,141.0Q521.4,141.9 519.9,142.3" stroke="#3a5b76" stroke-width="0.73"/>
<path d="M536.5,140.3Q537.2,141.7 536.2,143.5" stroke="#3a5b76" stroke-width="0.93"/>
<path d="M517.5,115.1Q517.1,113.1 515.9,111.4" stroke="#2c4962" stroke-width="0.96"/>
<path d="M537.6,114.7Q537.6,113.6 539.3,113.2" stroke="#5d7d94" stroke-width="0.61"/>
<path d="M533.7,110.3Q533.7,109.1 535.4,108.5" stroke="#5d7d94" stroke-width="0.73"/>
<path d="M545.9,111.5Q547.1,111.1 548.4,111.2" stroke="#44667f" stroke-width="0.55"/>
<path d="M540.0,129.2Q539.7,131.1 542.5,132.1" stroke="#44667f" stroke-width="0.72"/>
<path d="M543.0,130.9Q545.1,130.3 546.7,133.2" stroke="#44667f" stroke-width="0.61"/>
<path d="M514.6,124.6Q512.8,124.7 511.5,122.5" stroke="#4f7189" stroke-width="0.91"/>
<path d="M523.2,132.3Q523.5,133.4 521.3,133.8" stroke="#3a5b76" stroke-width="0.88"/>
<path d="M531.2,135.1Q530.8,136.3 532.9,136.9" stroke="#4f7189" stroke-width="0.85"/>
<path d="M515.4,117.5Q514.8,118.4 513.5,118.3" stroke="#31506a" stroke-width="0.62"/>
<path d="M513.8,134.2Q513.1,135.9 510.4,135.6" stroke="#2c4962" stroke-width="0.94"/>
<path d="M543.8,119.4Q544.2,120.5 546.0,120.1" stroke="#31506a" stroke-width="0.51"/>
<path d="M515.4,136.0Q514.3,137.3 512.0,136.2" stroke="#3a5b76" stroke-width="0.96"/>
<path d="M550.6,127.0Q550.7,128.3 552.5,128.8" stroke="#4f7189" stroke-width="0.74"/>
<path d="M525.7,109.5Q525.4,107.4 522.1,107.3" stroke="#5d7d94" stroke-width="0.79"/>
<path d="M545.2,125.1Q545.4,124.0 547.1,124.2" stroke="#4f7189" stroke-width="0.84"/>
<path d="M518.4,111.9Q518.2,110.9 518.3,109.9" stroke="#31506a" stroke-width="0.53"/>
<path d="M519.3,139.5Q519.5,141.0 517.0,141.4" stroke="#5d7d94" stroke-width="0.65"/>
<path d="M529.9,107.8Q529.1,106.5 527.8,105.6" stroke="#31506a" stroke-width="0.84"/>
<path d="M545.3,119.7Q546.4,121.7 549.8,119.7" stroke="#5d7d94" stroke-width="0.77"/>
<path d="M524.7,135.8Q524.0,136.9 522.8,137.6" stroke="#2c4962" stroke-width="0.82"/>
<path d="M525.6,140.9Q525.4,143.2 527.2,145.1" stroke="#2c4962" stroke-width="0.97"/>
<path d="M543.1,123.3Q545.3,123.9 547.6,122.3" stroke="#5d7d94" stroke-width="0.90"/>
<path d="M529.4,106.4Q528.8,105.2 528.9,103.7" stroke="#4f7189" stroke-width="0.54"/>
<path d="M538.1,107.2Q539.0,106.2 537.4,104.5" stroke="#31506a" stroke-width="0.81"/>
<path d="M529.2,139.3Q528.8,140.4 530.1,141.4" stroke="#2c4962" stroke-width="0.81"/>
<path d="M510.4,125.2Q508.8,125.9 507.0,124.2" stroke="#31506a" stroke-width="0.65"/>
<path d="M528.8,105.7Q528.0,104.6 530.0,103.2" stroke="#5d7d94" stroke-width="0.94"/>
<path d="M528.3,112.1Q528.9,110.7 527.2,109.3" stroke="#31506a" stroke-width="0.89"/>
<path d="M536.2,131.8Q538.4,131.5 539.3,135.1" stroke="#44667f" stroke-width="0.92"/>
<path d="M522.9,106.7Q523.6,105.8 522.2,104.5" stroke="#2c4962" stroke-width="0.81"/>
<path d="M519.9,112.7Q519.4,111.0 518.1,109.6" stroke="#31506a" stroke-width="0.66"/>
<path d="M545.5,123.4Q545.4,125.3 548.4,126.0" stroke="#3a5b76" stroke-width="0.54"/>
<path d="M537.4,107.3Q536.8,106.3 538.7,105.5" stroke="#3a5b76" stroke-width="0.65"/>
<path d="M548.1,113.8Q548.2,112.6 550.0,112.4" stroke="#5d7d94" stroke-width="0.55"/>
<path d="M541.1,128.5Q543.0,127.7 545.3,128.6" stroke="#31506a" stroke-width="0.89"/>
<path d="M543.2,127.0Q544.3,127.0 545.2,126.1" stroke="#2c4962" stroke-width="0.62"/>
<path d="M539.2,140.6Q538.1,141.3 538.6,143.3" stroke="#4f7189" stroke-width="0.78"/>
<path d="M546.5,111.1Q547.5,110.4 547.0,108.7" stroke="#4f7189" stroke-width="0.61"/>
<path d="M538.9,114.3Q540.4,113.4 541.8,112.4" stroke="#5d7d94" stroke-width="0.55"/>
<path d="M541.2,128.0Q542.2,128.4 542.2,129.9" stroke="#4f7189" stroke-width="0.96"/>
<path d="M534.1,135.4Q533.2,137.0 533.0,138.9" stroke="#3a5b76" stroke-width="0.85"/>
<path d="M538.8,113.1Q540.6,112.8 540.2,109.7" stroke="#44667f" stroke-width="0.54"/>
<path d="M539.5,110.6Q540.3,111.2 541.4,109.8" stroke="#3a5b76" stroke-width="0.69"/>
<path d="M545.5,122.7Q547.1,122.5 548.7,121.6" stroke="#5d7d94" stroke-width="1.00"/>
<path d="M542.5,107.5Q543.5,105.9 542.9,103.7" stroke="#5d7d94" stroke-width="0.97"/>
<path d="M532.6,139.0Q530.8,139.5 531.9,142.8" stroke="#3a5b76" stroke-width="0.74"/>
<path d="M542.5,134.2Q543.7,134.1 543.8,136.3" stroke="#3a5b76" stroke-width="0.92"/>
<path d="M527.2,143.2Q527.0,144.6 525.0,145.0" stroke="#31506a" stroke-width="0.84"/>
<path d="M544.8,122.3Q547.1,122.7 549.4,122.9" stroke="#2c4962" stroke-width="0.66"/>
<path d="M521.4,141.3Q520.4,141.7 520.7,143.4" stroke="#5d7d94" stroke-width="0.56"/>
<path d="M512.8,115.0Q510.9,114.2 509.0,113.2" stroke="#4f7189" stroke-width="0.93"/>
<path d="M527.3,137.1Q529.3,136.8 529.5,140.6" stroke="#2c4962" stroke-width="0.71"/>
<path d="M535.1,103.1Q534.5,101.3 533.7,99.5" stroke="#44667f" stroke-width="0.64"/>
<path d="M517.0,110.2Q515.9,110.2 514.9,109.5" stroke="#5d7d94" stroke-width="0.78"/>
<path d="M526.0,143.3Q526.4,144.4 524.2,144.9" stroke="#2c4962" stroke-width="0.54"/>
<path d="M539.6,132.7Q541.5,133.8 543.1,135.3" stroke="#2c4962" stroke-width="0.98"/>
<path d="M531.6,109.4Q530.9,108.1 531.9,106.6" stroke="#4f7189" stroke-width="0.51"/>
<path d="M515.4,114.3Q514.2,112.7 512.3,111.7" stroke="#2c4962" stroke-width="0.81"/>
<path d="M525.9,113.1Q524.3,111.8 523.9,109.4" stroke="#4f7189" stroke-width="0.88"/>
<path d="M523.8,131.9Q523.4,133.4 522.2,134.6" stroke="#3a5b76" stroke-width="0.51"/>
<path d="M518.2,119.3Q516.3,120.4 514.2,121.1" stroke="#4f7189" stroke-width="0.72"/>
<path d="M542.5,130.3Q542.7,131.4 544.5,131.1" stroke="#2c4962" stroke-width="0.67"/>
<path d="M541.9,111.7Q540.4,111.0 542.0,108.3" stroke="#5d7d94" stroke-width="0.74"/>
<path d="M514.0,131.3Q512.1,132.1 510.7,133.8" stroke="#4f7189" stroke-width="0.68"/>
<path d="M525.9,106.2Q523.9,105.7 524.4,102.3" stroke="#5d7d94" stroke-width="0.62"/>
<path d="M537.0,109.7Q537.1,108.4 537.1,107.2" stroke="#31506a" stroke-width="0.63"/>
<path d="M547.9,117.5Q548.1,116.6 548.6,115.7" stroke="#4f7189" stroke-width="0.80"/>
<path d="M522.8,142.6Q522.4,144.8 524.1,146.8" stroke="#4f7189" stroke-width="0.91"/>
<path d="M535.8,134.1Q535.5,135.9 536.0,137.7" stroke="#44667f" stroke-width="0.78"/>
<path d="M522.1,107.0Q521.5,104.9 522.8,102.8" stroke="#44667f" stroke-width="0.83"/>
<path d="M524.2,136.4Q523.2,137.9 521.3,138.5" stroke="#5d7d94" stroke-width="0.77"/>
<path d="M525.7,110.7Q525.7,108.6 522.3,108.5" stroke="#2c4962" stroke-width="0.96"/>
<path d="M528.5,107.4Q529.2,106.1 530.1,105.0" stroke="#3a5b76" stroke-width="0.94"/>
<path d="M515.8,130.0Q514.0,130.7 512.0,131.0" stroke="#4f7189" stroke-width="0.96"/>
<path d="M518.2,137.7Q517.8,138.9 515.8,138.1" stroke="#3a5b76" stroke-width="0.92"/>
<path d="M518.3,135.1Q517.2,136.4 515.1,136.5" stroke="#3a5b76" stroke-width="0.93"/>
<path d="M535.1,139.8Q534.2,141.1 533.7,142.6" stroke="#44667f" stroke-width="0.80"/>
<path d="M521.8,140.8Q520.8,142.6 522.1,144.8" stroke="#2c4962" stroke-width="0.62"/>
<path d="M537.7,142.1Q538.5,144.2 541.6,144.4" stroke="#2c4962" stroke-width="0.63"/>
<path d="M533.0,108.9Q533.3,106.9 533.8,105.0" stroke="#3a5b76" stroke-width="0.71"/>
<path d="M518.5,134.4Q517.2,134.2 516.6,136.2" stroke="#3a5b76" stroke-width="1.00"/>
<path d="M529.4,103.0Q527.8,101.8 526.9,99.9" stroke="#2c4962" stroke-width="0.93"/>
<path d="M549.7,122.0Q550.0,123.9 553.2,123.6" stroke="#31506a" stroke-width="0.67"/>
<path d="M520.2,116.0Q518.6,115.2 517.8,113.4" stroke="#44667f" stroke-width="0.84"/>
<path d="M511.7,115.8Q512.4,114.0 509.7,112.5" stroke="#31506a" stroke-width="0.63"/>
<path d="M548.3,132.6Q548.4,134.4 550.9,135.1" stroke="#3a5b76" stroke-width="0.65"/>
<path d="M521.5,141.0Q521.8,142.4 519.8,143.3" stroke="#4f7189" stroke-width="0.64"/>
<path d="M530.2,141.8Q531.5,142.7 532.1,144.4" stroke="#5d7d94" stroke-width="0.62"/>
<path d="M535.5,112.6Q534.7,111.1 536.2,109.2" stroke="#2c4962" stroke-width="0.93"/>
<path d="M545.9,117.0Q546.8,116.5 546.8,115.1" stroke="#2c4962" stroke-width="0.86"/>
<path d="M513.2,122.3Q513.1,121.1 511.0,121.7" stroke="#44667f" stroke-width="0.78"/>
<path d="M514.5,123.8Q512.8,123.4 511.1,124.9" stroke="#5d7d94" stroke-width="0.70"/>
<path d="M529.6,103.7Q529.8,102.2 530.8,100.9" stroke="#44667f" stroke-width="0.88"/>
<path d="M519.6,134.1Q518.0,135.4 515.6,135.3" stroke="#3a5b76" stroke-width="0.60"/>
<path d="M528.7,110.0Q528.0,108.4 528.6,106.5" stroke="#31506a" stroke-width="0.83"/>
<path d="M544.8,113.3Q545.2,111.1 547.9,110.1" stroke="#2c4962" stroke-width="0.77"/>
<path d="M512.5,123.5Q511.4,124.4 510.5,125.5" stroke="#3a5b76" stroke-width="0.55"/>
<path d="M545.4,121.3Q547.6,120.9 549.7,122.9" stroke="#44667f" stroke-width="0.78"/>
<path d="M543.6,132.5Q544.4,134.4 547.0,134.7" stroke="#5d7d94" stroke-width="0.92"/>
<path d="M525.5,142.1Q527.1,143.7 523.9,146.3" stroke="#44667f" stroke-width="0.62"/>
<path d="M544.4,117.8Q546.2,117.3 547.7,116.2" stroke="#4f7189" stroke-width="0.76"/>
<path d="M525.2,103.4Q523.8,101.7 522.5,100.0" stroke="#3a5b76" stroke-width="0.92"/>
<path d="M518.1,113.5Q516.9,111.9 514.1,112.7" stroke="#31506a" stroke-width="0.90"/>
<path d="M548.0,127.7Q548.2,129.7 551.3,130.0" stroke="#3a5b76" stroke-width="0.81"/>
<path d="M541.5,110.4Q542.7,110.2 542.3,108.2" stroke="#4f7189" stroke-width="0.61"/>
<path d="M549.7,118.6Q550.9,118.5 551.8,119.7" stroke="#3a5b76" stroke-width="0.92"/>
<path d="M543.3,126.4Q543.8,128.1 546.8,126.7" stroke="#2c4962" stroke-width="0.55"/>
<path d="M522.0,130.3Q520.4,130.8 521.3,133.4" stroke="#4f7189" stroke-width="0.83"/>
<path d="M539.9,107.6Q541.4,107.9 542.5,105.8" stroke="#2c4962" stroke-width="0.68"/>
<path d="M517.3,131.7Q517.1,133.2 514.6,133.1" stroke="#5d7d94" stroke-width="0.68"/>
<path d="M540.0,133.3Q540.7,135.1 543.8,134.2" stroke="#4f7189" stroke-width="0.98"/>
<path d="M540.7,135.7Q541.3,137.9 543.0,139.7" stroke="#3a5b76" stroke-width="0.77"/>
<path d="M515.8,108.3Q514.5,107.9 513.1,107.7" stroke="#5d7d94" stroke-width="0.65"/>
<path d="M542.8,111.6Q543.6,110.3 542.7,108.6" stroke="#4f7189" stroke-width="0.73"/>
<path d="M515.6,127.6Q515.8,125.6 512.2,125.4" stroke="#44667f" stroke-width="0.86"/>
<path d="M540.3,132.2Q542.2,132.3 543.1,134.9" stroke="#5d7d94" stroke-width="0.80"/>
<path d="M542.1,116.9Q542.8,115.8 544.7,116.2" stroke="#5d7d94" stroke-width="0.58"/>
<path d="M542.9,129.5Q543.2,131.8 547.1,131.2" stroke="#3a5b76" stroke-width="0.59"/>
<path d="M526.6,102.9Q525.8,101.3 526.4,99.3" stroke="#5d7d94" stroke-width="0.65"/>
<path d="M513.2,121.8Q512.8,123.8 509.1,122.6" stroke="#31506a" stroke-width="0.91"/>
<path d="M541.4,129.4Q542.3,128.7 543.7,130.1" stroke="#3a5b76" stroke-width="0.59"/>
<path d="M532.2,143.9Q532.8,144.9 531.1,145.9" stroke="#44667f" stroke-width="0.88"/>
<path d="M530.8,105.6Q532.0,104.3 531.4,102.1" stroke="#2c4962" stroke-width="0.62"/>
<path d="M520.9,107.0Q519.8,105.9 520.8,103.8" stroke="#5d7d94" stroke-width="0.59"/>
<path d="M535.8,137.6Q535.7,139.2 535.7,140.8" stroke="#5d7d94" stroke-width="0.73"/>
<path d="M523.5,104.4Q523.9,102.2 520.1,101.3" stroke="#31506a" stroke-width="0.97"/>
<path d="M535.3,139.8Q536.3,140.5 536.5,142.0" stroke="#4f7189" stroke-width="0.62"/>
<path d="M526.7,137.0Q525.8,138.4 526.7,140.4" stroke="#31506a" stroke-width="0.69"/>
<path d="M522.5,106.0Q520.6,105.5 520.3,102.8" stroke="#2c4962" stroke-width="0.83"/>
<path d="M519.4,137.7Q518.4,137.2 517.4,138.6" stroke="#3a5b76" stroke-width="0.56"/>
<path d="M543.6,122.0Q545.3,122.8 547.0,120.7" stroke="#2c4962" stroke-width="0.51"/>
<path d="M526.4,142.5Q524.7,142.0 524.0,145.1" stroke="#44667f" stroke-width="0.52"/>
<path d="M541.1,106.7Q542.2,105.9 541.9,104.1" stroke="#4f7189" stroke-width="0.75"/>
<path d="M524.7,110.7Q524.7,109.5 522.5,109.6" stroke="#4f7189" stroke-width="0.86"/>
<path d="M521.1,107.6Q520.7,105.5 520.8,103.3" stroke="#2c4962" stroke-width="0.69"/>
<path d="M516.7,138.2Q515.7,138.3 515.4,139.9" stroke="#4f7189" stroke-width="0.69"/>
<path d="M524.8,111.4Q525.9,109.4 524.8,107.0" stroke="#5d7d94" stroke-width="0.53"/>
<path d="M542.8,120.3Q545.1,120.3 546.4,123.0" stroke="#4f7189" stroke-width="0.88"/>
<path d="M525.6,135.4Q525.2,137.1 525.8,138.9" stroke="#4f7189" stroke-width="0.53"/>
<path d="M539.9,140.0Q538.6,141.7 540.5,144.2" stroke="#4f7189" stroke-width="0.90"/>
<path d="M514.7,126.0Q513.0,125.5 511.4,126.9" stroke="#3a5b76" stroke-width="0.94"/>
<path d="M548.4,118.1Q549.8,116.4 551.3,114.7" stroke="#31506a" stroke-width="0.91"/>
<path d="M526.6,136.2Q526.6,137.9 527.3,139.5" stroke="#3a5b76" stroke-width="0.82"/>
<path d="M512.3,133.6Q510.2,133.6 508.0,133.9" stroke="#3a5b76" stroke-width="0.95"/>
<path d="M515.0,110.0Q513.3,109.8 512.3,107.8" stroke="#3a5b76" stroke-width="0.93"/>
<path d="M518.0,120.1Q516.9,121.9 513.7,119.5" stroke="#2c4962" stroke-width="0.87"/>
<path d="M529.4,137.4Q529.9,139.1 528.0,140.8" stroke="#44667f" stroke-width="0.75"/>
<path d="M514.5,129.7Q512.4,129.4 510.7,127.7" stroke="#2c4962" stroke-width="0.80"/>
<path d="M543.7,131.5Q544.7,133.3 547.3,133.4" stroke="#44667f" stroke-width="0.64"/>
<path d="M525.3,110.6Q524.3,111.1 523.4,109.3" stroke="#4f7189" stroke-width="0.72"/>
<path d="M536.3,135.5Q537.7,135.4 538.8,136.8" stroke="#5d7d94" stroke-width="0.60"/>
<path d="M518.9,116.3Q517.2,115.4 515.1,117.3" stroke="#31506a" stroke-width="0.83"/>
<path d="M531.4,143.5Q530.0,144.4 530.3,146.6" stroke="#44667f" stroke-width="0.88"/>
<path d="M509.7,118.5Q508.5,119.1 507.4,120.0" stroke="#3a5b76" stroke-width="0.90"/>
<path d="M525.0,108.7Q523.5,107.6 525.8,105.0" stroke="#2c4962" stroke-width="0.56"/>
<path d="M546.5,120.2Q547.9,121.6 549.9,122.3" stroke="#44667f" stroke-width="0.83"/>
<path d="M520.9,129.4Q519.7,129.1 519.1,131.1" stroke="#31506a" stroke-width="0.75"/>
<path d="M548.1,129.0Q547.8,130.3 550.3,130.5" stroke="#31506a" stroke-width="0.68"/>
<path d="M522.4,139.7Q520.8,139.6 519.5,141.0" stroke="#3a5b76" stroke-width="0.71"/>
<path d="M517.5,133.0Q515.3,132.3 513.0,132.4" stroke="#31506a" stroke-width="0.65"/>
<path d="M523.3,109.5Q523.4,108.3 521.3,108.3" stroke="#2c4962" stroke-width="0.89"/>
<path d="M515.5,116.8Q514.6,117.9 512.7,116.0" stroke="#44667f" stroke-width="0.69"/>
<path d="M526.3,108.2Q525.3,108.1 525.0,106.7" stroke="#3a5b76" stroke-width="0.61"/>
<path d="M544.4,121.4Q545.1,120.3 545.8,119.3" stroke="#5d7d94" stroke-width="0.94"/>
<path d="M530.5,135.2Q529.1,136.9 527.8,138.7" stroke="#5d7d94" stroke-width="0.62"/>
<path d="M538.3,138.6Q540.1,138.9 540.9,141.1" stroke="#3a5b76" stroke-width="0.97"/>
<path d="M527.6,111.5Q527.1,110.2 526.6,108.9" stroke="#4f7189" stroke-width="0.57"/>
<path d="M548.8,121.7Q550.2,123.0 552.3,120.2" stroke="#31506a" stroke-width="0.56"/>
<path d="M533.3,138.6Q534.1,139.2 535.0,139.8" stroke="#2c4962" stroke-width="0.56"/>
<path d="M543.0,111.9Q543.9,110.5 544.9,109.2" stroke="#31506a" stroke-width="0.54"/>
<path d="M535.0,133.0Q536.0,133.7 536.4,135.0" stroke="#2c4962" stroke-width="0.59"/>
<path d="M512.8,132.4Q512.1,133.7 510.1,133.5" stroke="#4f7189" stroke-width="0.67"/>
<path d="M517.6,138.0Q518.0,139.0 518.0,140.2" stroke="#31506a" stroke-width="0.72"/>
<path d="M523.1,112.7Q523.6,111.3 521.7,110.1" stroke="#3a5b76" stroke-width="0.73"/>
<path d="M542.9,116.3Q544.1,116.9 545.5,115.1" stroke="#2c4962" stroke-width="0.84"/>
<path d="M528.6,138.0Q530.2,137.9 530.0,140.8" stroke="#31506a" stroke-width="0.67"/>
<path d="M519.6,123.1Q518.4,122.5 517.2,124.4" stroke="#4f7189" stroke-width="0.88"/>
<path d="M529.2,135.0Q528.8,137.0 526.3,137.8" stroke="#5d7d94" stroke-width="0.64"/>
<path d="M542.3,125.0Q543.9,123.9 546.1,124.6" stroke="#2c4962" stroke-width="0.91"/>
<path d="M537.7,139.5Q538.0,140.7 537.7,142.0" stroke="#2c4962" stroke-width="0.52"/>
<path d="M522.7,110.3Q522.0,108.6 519.3,109.1" stroke="#4f7189" stroke-width="0.63"/>
<path d="M526.5,102.6Q527.8,101.7 528.0,99.8" stroke="#4f7189" stroke-width="0.74"/>
<path d="M535.9,136.5Q536.5,138.2 534.6,140.0" stroke="#31506a" stroke-width="0.73"/>
<path d="M513.1,120.9Q511.3,121.6 509.4,122.0" stroke="#31506a" stroke-width="0.73"/>
<path d="M543.4,138.1Q544.7,139.6 545.7,141.4" stroke="#31506a" stroke-width="0.80"/>
<path d="M518.9,136.6Q519.6,137.7 518.5,139.1" stroke="#31506a" stroke-width="0.50"/>
<path d="M519.8,136.8Q521.3,138.3 518.6,140.8" stroke="#3a5b76" stroke-width="0.51"/>
<path d="M515.6,131.3Q515.2,133.5 512.4,134.5" stroke="#4f7189" stroke-width="0.72"/>
<path d="M529.4,103.4Q530.2,102.5 530.5,101.3" stroke="#2c4962" stroke-width="0.51"/>
<path d="M520.4,110.6Q518.8,109.7 516.8,110.4" stroke="#31506a" stroke-width="0.73"/>
<path d="M544.3,116.6Q545.6,117.5 547.3,117.6" stroke="#3a5b76" stroke-width="0.73"/>
<path d="M513.8,125.1Q512.2,126.1 510.9,127.5" stroke="#3a5b76" stroke-width="0.95"/>
<path d="M521.5,132.8Q520.3,131.8 518.5,133.6" stroke="#5d7d94" stroke-width="0.80"/>
<path d="M534.7,136.1Q536.2,136.0 537.3,137.7" stroke="#2c4962" stroke-width="0.97"/>
<path d="M531.7,109.4Q531.8,107.6 529.3,106.7" stroke="#5d7d94" stroke-width="0.97"/>
<path d="M537.3,134.9Q536.0,136.5 539.1,138.6" stroke="#3a5b76" stroke-width="0.56"/>
<path d="M542.5,116.0Q542.8,115.0 544.5,115.2" stroke="#31506a" stroke-width="0.76"/>
<path d="M535.1,137.4Q535.9,136.7 537.1,138.1" stroke="#44667f" stroke-width="0.52"/>
<path d="M547.1,120.2Q548.3,119.9 549.0,121.7" stroke="#31506a" stroke-width="0.52"/>
<path d="M544.6,130.8Q544.9,132.6 547.5,133.0" stroke="#3a5b76" stroke-width="0.66"/>
<path d="M549.8,124.0Q550.8,122.4 552.8,121.8" stroke="#44667f" stroke-width="0.96"/>
<path d="M526.9,136.1Q526.4,137.5 524.8,138.3" stroke="#31506a" stroke-width="0.90"/>
<path d="M522.8,103.9Q521.8,103.2 522.8,101.4" stroke="#44667f" stroke-width="0.68"/>
<path d="M523.6,114.3Q521.6,114.8 519.9,112.8" stroke="#2c4962" stroke-width="0.88"/>
<path d="M526.3,111.4Q525.3,110.9 524.5,110.0" stroke="#3a5b76" stroke-width="0.69"/>
<path d="M519.2,132.9Q517.5,134.0 515.3,133.2" stroke="#3a5b76" stroke-width="0.73"/>
<path d="M546.3,114.8Q547.6,113.2 550.4,114.7" stroke="#3a5b76" stroke-width="0.98"/>
<path d="M521.6,114.7Q519.7,114.4 519.8,111.3" stroke="#4f7189" stroke-width="0.69"/>
<path d="M536.2,107.7Q536.5,105.8 535.7,104.0" stroke="#3a5b76" stroke-width="0.52"/>
<path d="M541.1,124.7Q542.0,123.1 544.7,123.9" stroke="#3a5b76" stroke-width="0.71"/>
<path d="M549.1,132.0Q550.0,133.1 550.4,134.5" stroke="#31506a" stroke-width="0.75"/>
<path d="M525.7,133.3Q527.1,134.0 525.5,136.5" stroke="#3a5b76" stroke-width="0.55"/>
<path d="M538.1,112.8Q538.7,111.5 540.2,110.8" stroke="#44667f" stroke-width="0.67"/>
<path d="M513.2,131.2Q511.8,132.2 510.0,131.9" stroke="#5d7d94" stroke-width="0.99"/>
<path d="M540.6,121.2Q541.3,122.6 543.1,123.3" stroke="#31506a" stroke-width="0.62"/>
<path d="M540.9,118.0Q542.3,118.0 543.3,116.6" stroke="#2c4962" stroke-width="0.97"/>
<path d="M536.5,103.1Q536.5,102.0 536.7,101.0" stroke="#3a5b76" stroke-width="0.50"/>
<path d="M541.7,129.4Q543.8,129.5 545.8,130.3" stroke="#5d7d94" stroke-width="0.55"/>
<path d="M545.5,135.9Q547.4,137.2 547.6,140.0" stroke="#2c4962" stroke-width="0.72"/>
<path d="M519.8,118.3Q518.6,117.4 517.1,119.3" stroke="#3a5b76" stroke-width="0.92"/>
<path d="M529.5,138.6Q528.1,138.8 527.9,140.9" stroke="#5d7d94" stroke-width="0.56"/>
<path d="M528.3,133.9Q527.5,135.2 526.1,136.0" stroke="#31506a" stroke-width="0.76"/>
<path d="M544.5,116.9Q545.2,118.4 547.6,118.2" stroke="#31506a" stroke-width="0.91"/>
<path d="M525.4,112.8Q525.2,111.8 526.0,110.9" stroke="#5d7d94" stroke-width="0.68"/>
<path d="M518.9,120.4Q517.7,119.8 517.7,118.0" stroke="#3a5b76" stroke-width="0.88"/>
<path d="M535.1,106.6Q534.2,104.9 536.4,103.1" stroke="#44667f" stroke-width="0.57"/>
<path d="M547.1,113.8Q545.8,112.8 548.1,110.6" stroke="#2c4962" stroke-width="0.86"/>
<path d="M546.6,113.4Q548.0,112.8 549.6,112.8" stroke="#5d7d94" stroke-width="0.81"/>
<path d="M517.4,130.7Q516.5,129.8 514.9,131.4" stroke="#44667f" stroke-width="0.77"/>
<path d="M514.7,129.5Q513.6,131.2 510.8,130.8" stroke="#31506a" stroke-width="0.56"/>
<path d="M546.6,133.6Q547.6,132.5 549.4,132.6" stroke="#5d7d94" stroke-width="0.61"/>
<path d="M520.1,104.9Q520.8,102.8 517.4,101.3" stroke="#44667f" stroke-width="0.63"/>
<path d="M547.7,125.5Q548.1,126.8 550.2,126.6" stroke="#4f7189" stroke-width="0.93"/>
<path d="M546.4,112.8Q546.2,111.5 547.5,110.4" stroke="#3a5b76" stroke-width="0.57"/>
<path d="M515.9,115.1Q517.0,113.4 515.2,111.0" stroke="#31506a" stroke-width="0.94"/>
<path d="M521.9,112.1Q520.4,110.8 520.1,108.6" stroke="#4f7189" stroke-width="0.66"/>
<path d="M537.1,131.9Q538.8,131.3 540.3,133.6" stroke="#3a5b76" stroke-width="0.50"/>
<path d="M536.4,104.2Q537.3,103.1 536.5,101.4" stroke="#44667f" stroke-width="0.97"/>
<path d="M516.1,109.3Q513.9,109.0 512.1,107.4" stroke="#4f7189" stroke-width="0.56"/>
<path d="M517.0,138.2Q516.2,138.8 515.0,138.5" stroke="#31506a" stroke-width="0.70"/>
<path d="M526.0,106.0Q527.7,104.7 526.1,101.8" stroke="#2c4962" stroke-width="0.93"/>
<path d="M517.8,113.7Q516.2,114.5 514.4,113.3" stroke="#5d7d94" stroke-width="0.81"/>
<path d="M523.6,140.8Q524.3,141.8 522.3,143.0" stroke="#4f7189" stroke-width="0.81"/>
<path d="M522.2,134.4Q523.2,135.3 521.6,137.0" stroke="#3a5b76" stroke-width="0.74"/>
<path d="M519.3,140.7Q518.6,141.6 519.2,143.1" stroke="#44667f" stroke-width="0.65"/>
<path d="M514.6,136.6Q512.7,137.1 511.0,138.0" stroke="#3a5b76" stroke-width="0.64"/>
<path d="M537.7,138.0Q537.7,139.3 540.0,139.3" stroke="#3a5b76" stroke-width="0.69"/>
<path d="M518.5,120.9Q518.2,119.9 516.5,120.5" stroke="#3a5b76" stroke-width="0.86"/>
<path d="M536.2,113.8Q536.8,112.8 538.2,112.7" stroke="#44667f" stroke-width="0.91"/>
<path d="M544.4,110.2Q545.5,109.9 546.4,109.2" stroke="#4f7189" stroke-width="0.60"/>
<path d="M536.6,139.0Q537.0,141.0 536.5,143.1" stroke="#3a5b76" stroke-width="0.57"/>
<path d="M524.3,108.2Q522.8,107.8 523.1,105.4" stroke="#44667f" stroke-width="0.81"/>
<path d="M540.9,133.2Q541.8,133.8 542.1,134.9" stroke="#2c4962" stroke-width="0.58"/>
<path d="M541.9,123.9Q542.7,125.8 546.2,124.0" stroke="#4f7189" stroke-width="0.94"/>
<path d="M518.0,112.3Q517.2,110.9 517.9,109.0" stroke="#44667f" stroke-width="0.59"/>
<path d="M538.2,114.3Q539.6,113.2 541.1,112.4" stroke="#4f7189" stroke-width="0.87"/>
<path d="M520.1,128.9Q518.1,129.3 518.8,132.7" stroke="#44667f" stroke-width="0.74"/>
<path d="M523.6,138.8Q524.5,140.5 524.4,142.5" stroke="#44667f" stroke-width="0.53"/>
<path d="M546.9,124.5Q547.6,125.6 549.1,125.9" stroke="#5d7d94" stroke-width="1.00"/>
<path d="M549.5,128.0Q550.2,129.3 552.1,129.0" stroke="#44667f" stroke-width="0.89"/>
<path d="M548.0,127.1Q549.2,128.9 551.8,129.2" stroke="#2c4962" stroke-width="0.62"/>
<path d="M535.7,106.8Q534.9,106.0 535.4,104.6" stroke="#2c4962" stroke-width="0.98"/>
<path d="M520.2,140.6Q520.7,142.7 521.6,144.7" stroke="#3a5b76" stroke-width="0.67"/>
<path d="M510.9,127.1Q510.9,125.2 507.6,125.4" stroke="#4f7189" stroke-width="0.77"/>
<path d="M539.4,132.2Q539.4,133.2 541.3,133.1" stroke="#44667f" stroke-width="0.66"/>
<path d="M516.8,131.3Q516.5,130.1 514.2,130.8" stroke="#31506a" stroke-width="0.92"/>
<path d="M518.1,107.4Q517.8,106.4 518.0,105.3" stroke="#3a5b76" stroke-width="0.79"/>
<path d="M519.8,136.4Q519.1,135.6 517.8,136.6" stroke="#2c4962" stroke-width="0.79"/>
<path d="M530.3,142.4Q529.9,143.9 532.5,144.7" stroke="#3a5b76" stroke-width="0.93"/>
<path d="M534.0,110.8Q534.1,109.4 533.8,108.0" stroke="#5d7d94" stroke-width="0.69"/>
<path d="M545.3,110.3Q546.6,111.5 548.7,109.2" stroke="#2c4962" stroke-width="0.83"/>
<path d="M548.7,120.1Q550.0,119.4 550.5,117.6" stroke="#4f7189" stroke-width="0.99"/>
<path d="M518.2,116.8Q518.2,117.9 516.2,117.6" stroke="#44667f" stroke-width="0.87"/>
<path d="M545.1,109.1Q544.7,107.5 547.0,106.3" stroke="#2c4962" stroke-width="0.89"/>
<path d="M526.8,140.6Q527.6,141.7 525.4,143.0" stroke="#4f7189" stroke-width="0.59"/>
<path d="M525.2,132.4Q525.0,134.3 521.9,134.4" stroke="#2c4962" stroke-width="0.73"/>
<path d="M546.7,126.8Q548.0,127.6 549.8,126.7" stroke="#4f7189" stroke-width="0.70"/>
<path d="M523.8,141.1Q522.6,142.7 522.4,144.8" stroke="#4f7189" stroke-width="0.76"/>
<path d="M517.4,112.6Q516.2,114.1 513.5,112.8" stroke="#5d7d94" stroke-width="0.66"/>
<path d="M518.6,107.5Q519.5,106.6 518.3,105.0" stroke="#3a5b76" stroke-width="0.70"/>
<path d="M536.1,133.5Q537.3,133.9 538.0,135.2" stroke="#5d7d94" stroke-width="0.91"/>
<path d="M536.3,140.7Q538.3,141.1 537.2,144.7" stroke="#5d7d94" stroke-width="0.89"/>
<path d="M519.7,137.7Q518.3,138.6 516.7,139.1" stroke="#44667f" stroke-width="0.93"/>
<path d="M513.9,120.1Q513.4,118.2 510.1,119.2" stroke="#3a5b76" stroke-width="0.75"/>
<path d="M525.6,112.0Q523.5,111.4 524.8,107.7" stroke="#3a5b76" stroke-width="0.94"/>
<path d="M516.3,134.7Q515.3,135.2 515.5,136.8" stroke="#44667f" stroke-width="0.95"/>
<path d="M522.6,114.9Q521.8,113.9 520.0,114.8" stroke="#44667f" stroke-width="0.96"/>
<path d="M516.9,129.3Q516.6,130.3 515.5,131.0" stroke="#31506a" stroke-width="0.52"/>
<path d="M543.1,125.1Q544.6,125.4 545.9,126.6" stroke="#4f7189" stroke-width="0.63"/>
<path d="M533.6,111.8Q534.6,111.3 535.7,110.9" stroke="#31506a" stroke-width="0.54"/>
<path d="M540.7,109.8Q542.0,110.6 543.6,109.1" stroke="#31506a" stroke-width="0.70"/>
<path d="M534.2,138.2Q533.4,140.1 532.3,141.9" stroke="#4f7189" stroke-width="0.64"/>
<path d="M530.6,105.7Q531.4,104.1 532.4,102.5" stroke="#3a5b76" stroke-width="0.58"/>
<path d="M523.2,107.7Q523.4,106.5 521.2,106.2" stroke="#2c4962" stroke-width="0.92"/>
<path d="M517.9,135.6Q517.2,137.2 515.1,137.7" stroke="#2c4962" stroke-width="0.92"/>
<path d="M533.8,104.9Q535.4,103.9 533.3,101.2" stroke="#2c4962" stroke-width="0.70"/>
<path d="M546.3,124.4Q546.2,126.5 549.8,126.7" stroke="#5d7d94" stroke-width="0.71"/>
<path d="M544.1,132.5Q543.1,133.8 545.5,135.7" stroke="#4f7189" stroke-width="0.83"/>
<path d="M513.5,135.0Q512.6,136.0 512.0,137.2" stroke="#4f7189" stroke-width="0.68"/>
<path d="M520.3,112.0Q521.4,110.4 520.8,108.1" stroke="#2c4962" stroke-width="0.91"/>
<path d="M529.7,136.3Q529.2,138.1 531.6,139.6" stroke="#5d7d94" stroke-width="0.65"/>
<path d="M543.7,133.8Q545.0,134.4 545.2,136.3" stroke="#44667f" stroke-width="0.98"/>
<path d="M541.6,122.2Q543.0,122.6 544.3,123.6" stroke="#5d7d94" stroke-width="0.93"/>
<path d="M522.3,133.2Q520.9,133.9 522.3,136.4" stroke="#44667f" stroke-width="0.78"/>
<path d="M530.4,103.0Q529.5,102.3 530.9,100.8" stroke="#5d7d94" stroke-width="0.64"/>
<path d="M515.3,118.4Q513.6,118.0 511.9,119.1" stroke="#44667f" stroke-width="0.77"/>
<path d="M523.5,140.3Q525.2,140.5 525.2,143.1" stroke="#31506a" stroke-width="0.82"/>
<path d="M548.7,127.0Q550.4,128.1 552.0,124.7" stroke="#44667f" stroke-width="0.93"/>
<path d="M517.3,109.6Q517.5,107.8 514.2,107.5" stroke="#3a5b76" stroke-width="0.94"/>
<path d="M549.6,121.8Q550.8,122.8 552.6,120.7" stroke="#31506a" stroke-width="0.65"/>
<path d="M533.5,108.5Q534.5,108.0 533.9,106.4" stroke="#5d7d94" stroke-width="0.78"/>
<path d="M520.0,134.8Q518.5,134.3 516.7,134.9" stroke="#4f7189" stroke-width="0.75"/>
<path d="M543.5,130.8Q542.1,132.5 545.5,134.6" stroke="#5d7d94" stroke-width="0.72"/>
<path d="M515.6,125.1Q514.9,124.0 513.1,124.6" stroke="#44667f" stroke-width="0.65"/>
<path d="M534.4,110.6Q532.2,110.2 532.8,106.4" stroke="#5d7d94" stroke-width="0.76"/>
<path d="M538.2,142.1Q539.0,143.4 537.1,145.0" stroke="#5d7d94" stroke-width="0.64"/>
<path d="M531.9,134.1Q531.6,135.4 532.0,136.7" stroke="#4f7189" stroke-width="0.77"/>
<path d="M522.4,132.1Q521.3,132.7 522.0,134.7" stroke="#31506a" stroke-width="0.79"/>
<path d="M516.6,107.3Q515.5,107.1 514.3,106.9" stroke="#2c4962" stroke-width="0.98"/>
<path d="M546.7,113.3Q547.5,114.2 548.9,113.6" stroke="#2c4962" stroke-width="0.83"/>
<path d="M546.7,133.9Q547.7,134.8 547.9,136.3" stroke="#2c4962" stroke-width="0.56"/>
<path d="M514.4,112.8Q513.5,111.4 511.3,111.8" stroke="#2c4962" stroke-width="0.97"/>
<path d="M523.3,133.7Q522.1,133.2 521.2,135.1" stroke="#5d7d94" stroke-width="0.56"/>
<path d="M518.4,118.7Q516.8,117.3 516.1,115.1" stroke="#31506a" stroke-width="0.93"/>
<path d="M520.2,108.1Q519.4,106.1 517.9,104.3" stroke="#44667f" stroke-width="0.58"/>
<path d="M513.8,129.5Q512.6,130.1 512.4,131.8" stroke="#3a5b76" stroke-width="0.65"/>
<path d="M530.9,136.5Q530.7,137.8 532.1,138.8" stroke="#3a5b76" stroke-width="0.88"/>
<path d="M512.2,119.2Q511.0,119.2 510.2,117.7" stroke="#5d7d94" stroke-width="0.68"/>
<path d="M529.1,142.8Q527.0,143.5 526.3,146.2" stroke="#31506a" stroke-width="0.95"/>
<path d="M519.5,108.5Q520.7,107.6 519.3,105.5" stroke="#4f7189" stroke-width="0.59"/>
<path d="M535.5,112.1Q535.1,111.0 534.8,109.8" stroke="#44667f" stroke-width="0.64"/>
<path d="M525.8,140.1Q525.4,141.4 525.0,142.7" stroke="#3a5b76" stroke-width="0.79"/>
<path d="M514.4,113.5Q512.4,113.8 510.5,112.5" stroke="#4f7189" stroke-width="0.71"/>
<path d="M519.1,107.8Q516.8,107.5 516.5,104.8" stroke="#6b8ba3" stroke-width="0.6" stroke-opacity="0.85"/>
<path d="M543.2,107.6Q541.8,103.7 545.1,100.9" stroke="#6b8ba3" stroke-width="0.6" stroke-opacity="0.85"/>
<path d="M534.1,142.9Q535.1,145.8 532.6,147.7" stroke="#6b8ba3" stroke-width="0.6" stroke-opacity="0.85"/>
<path d="M532.3,143.0Q534.8,144.2 534.0,147.3" stroke="#6b8ba3" stroke-width="0.6" stroke-opacity="0.85"/>
<path d="M549.0,129.7Q552.5,129.4 553.5,133.5" stroke="#6b8ba3" stroke-width="0.6" stroke-opacity="0.85"/>
<path d="M550.7,117.4Q553.0,117.4 553.6,114.9" stroke="#6b8ba3" stroke-width="0.6" stroke-opacity="0.85"/>
<path d="M510.2,125.9Q507.8,129.1 503.8,127.9" stroke="#6b8ba3" stroke-width="0.6" stroke-opacity="0.85"/>
<path d="M532.5,102.1Q534.6,101.3 533.5,98.4" stroke="#6b8ba3" stroke-width="0.6" stroke-opacity="0.85"/>
<path d="M548.8,129.9Q550.9,132.8 554.6,131.3" stroke="#6b8ba3" stroke-width="0.6" stroke-opacity="0.85"/>
<path d="M518.8,139.5Q516.5,138.3 515.0,141.4" stroke="#6b8ba3" stroke-width="0.6" stroke-opacity="0.85"/>
<path d="M519.6,140.8Q519.5,143.9 516.6,145.0" stroke="#6b8ba3" stroke-width="0.6" stroke-opacity="0.85"/>
<path d="M544.4,109.0Q547.4,107.6 547.2,104.2" stroke="#6b8ba3" stroke-width="0.6" stroke-opacity="0.85"/>
<path d="M534.8,103.1Q538.7,102.0 539.2,98.0" stroke="#6b8ba3" stroke-width="0.6" stroke-opacity="0.85"/>
<path d="M537.9,105.6Q537.6,101.8 542.6,101.3" stroke="#6b8ba3" stroke-width="0.6" stroke-opacity="0.85"/>
<path d="M546.6,109.8Q547.7,106.6 552.1,108.2" stroke="#6b8ba3" stroke-width="0.6" stroke-opacity="0.85"/>
<path d="M509.3,120.7Q508.2,116.8 503.1,118.1" stroke="#6b8ba3" stroke-width="0.6" stroke-opacity="0.85"/>
<path d="M511.7,117.9Q509.3,120.0 506.4,117.1" stroke="#6b8ba3" stroke-width="0.6" stroke-opacity="0.85"/>
<path d="M530.0,103.9Q526.1,102.6 527.4,97.5" stroke="#6b8ba3" stroke-width="0.6" stroke-opacity="0.85"/>
<path d="M511.1,120.3Q508.6,121.4 506.7,119.0" stroke="#6b8ba3" stroke-width="0.6" stroke-opacity="0.85"/>
<path d="M513.5,112.7Q510.3,111.4 510.2,108.1" stroke="#6b8ba3" stroke-width="0.6" stroke-opacity="0.85"/>
<path d="M546.5,135.9Q549.1,134.5 551.2,137.1" stroke="#6b8ba3" stroke-width="0.6" stroke-opacity="0.85"/>
<path d="M510.9,120.1Q508.7,117.4 505.0,120.3" stroke="#6b8ba3" stroke-width="0.6" stroke-opacity="0.85"/>
<path d="M549.3,126.3Q550.0,128.3 552.7,127.7" stroke="#6b8ba3" stroke-width="0.6" stroke-opacity="0.85"/>
<path d="M545.8,135.7Q545.3,137.8 547.9,138.7" stroke="#6b8ba3" stroke-width="0.6" stroke-opacity="0.85"/>
<path d="M519.1,105.4Q516.8,105.4 516.9,102.3" stroke="#6b8ba3" stroke-width="0.6" stroke-opacity="0.85"/>
<path d="M541.1,107.0Q544.0,107.6 545.5,104.4" stroke="#6b8ba3" stroke-width="0.6" stroke-opacity="0.85"/>
<path d="M541.2,141.2Q541.0,143.7 543.0,145.0" stroke="#6b8ba3" stroke-width="0.6" stroke-opacity="0.85"/>
<path d="M545.7,110.1Q545.9,106.1 551.4,106.7" stroke="#6b8ba3" stroke-width="0.6" stroke-opacity="0.85"/>
<path d="M544.3,136.2Q543.9,139.7 548.6,140.2" stroke="#6b8ba3" stroke-width="0.6" stroke-opacity="0.85"/>
<path d="M525.6,142.3Q523.3,143.7 525.2,146.8" stroke="#6b8ba3" stroke-width="0.6" stroke-opacity="0.85"/>
<path d="M545.9,135.9Q548.4,136.6 547.6,139.8" stroke="#6b8ba3" stroke-width="0.6" stroke-opacity="0.85"/>
<path d="M518.6,138.9Q515.1,140.6 515.0,144.4" stroke="#6b8ba3" stroke-width="0.6" stroke-opacity="0.85"/>
<path d="M526.2,141.8Q523.4,142.9 524.3,146.4" stroke="#6b8ba3" stroke-width="0.6" stroke-opacity="0.85"/>
<path d="M522.8,103.6Q525.3,101.9 523.1,98.5" stroke="#6b8ba3" stroke-width="0.6" stroke-opacity="0.85"/>
<path d="M516.7,139.0Q514.3,139.2 514.8,142.5" stroke="#6b8ba3" stroke-width="0.6" stroke-opacity="0.85"/>
<path d="M517.2,108.6Q515.8,105.3 511.8,106.0" stroke="#6b8ba3" stroke-width="0.6" stroke-opacity="0.85"/>
<path d="M546.8,132.7Q548.4,134.6 550.9,133.3" stroke="#6b8ba3" stroke-width="0.6" stroke-opacity="0.85"/>
<path d="M533.0,142.6Q532.1,145.6 535.7,147.1" stroke="#6b8ba3" stroke-width="0.6" stroke-opacity="0.85"/>
<path d="M550.6,122.9Q552.9,124.2 554.5,120.9" stroke="#6b8ba3" stroke-width="0.6" stroke-opacity="0.85"/>
<path d="M531.7,142.8Q534.2,144.0 532.5,147.4" stroke="#6b8ba3" stroke-width="0.6" stroke-opacity="0.85"/>
<path d="M549.8,116.5Q552.1,113.1 556.4,114.8" stroke="#6b8ba3" stroke-width="0.6" stroke-opacity="0.85"/>
<path d="M519.2,105.2Q521.2,102.1 517.7,99.4" stroke="#6b8ba3" stroke-width="0.6" stroke-opacity="0.85"/>
<path d="M531.9,103.6Q534.9,102.3 534.7,98.9" stroke="#6b8ba3" stroke-width="0.6" stroke-opacity="0.85"/>
<path d="M538.4,140.7Q540.8,141.2 540.8,144.0" stroke="#6b8ba3" stroke-width="0.6" stroke-opacity="0.85"/>
<path d="M510.7,114.6Q507.9,117.4 504.1,114.0" stroke="#6b8ba3" stroke-width="0.6" stroke-opacity="0.85"/>
<path d="M522.2,140.3Q521.9,142.4 519.5,142.7" stroke="#6b8ba3" stroke-width="0.6" stroke-opacity="0.85"/>
<path d="M510.5,125.0Q507.6,127.6 504.0,125.8" stroke="#6b8ba3" stroke-width="0.6" stroke-opacity="0.85"/>
<path d="M509.5,118.0Q506.3,117.6 505.3,114.5" stroke="#6b8ba3" stroke-width="0.6" stroke-opacity="0.85"/>
<path d="M547.8,112.1Q547.1,109.7 550.2,108.7" stroke="#6b8ba3" stroke-width="0.6" stroke-opacity="0.85"/>
<path d="M540.2,140.7Q543.8,139.8 544.8,144.7" stroke="#6b8ba3" stroke-width="0.6" stroke-opacity="0.85"/>
<path d="M510.7,123.7Q509.4,125.5 507.2,124.7" stroke="#6b8ba3" stroke-width="0.6" stroke-opacity="0.85"/>
<path d="M528.5,144.2Q532.1,146.4 529.2,151.1" stroke="#6b8ba3" stroke-width="0.6" stroke-opacity="0.85"/>
<path d="M520.1,106.2Q517.4,104.9 518.7,101.5" stroke="#6b8ba3" stroke-width="0.6" stroke-opacity="0.85"/>
<path d="M512.6,132.5Q511.2,135.7 507.9,136.0" stroke="#6b8ba3" stroke-width="0.6" stroke-opacity="0.85"/>
<path d="M548.6,114.5Q550.4,110.9 554.3,111.2" stroke="#6b8ba3" stroke-width="0.6" stroke-opacity="0.85"/>
<path d="M549.2,118.2Q551.1,116.4 553.5,118.0" stroke="#6b8ba3" stroke-width="0.6" stroke-opacity="0.85"/>
<path d="M527.7,142.2Q526.0,143.3 526.6,145.5" stroke="#6b8ba3" stroke-width="0.6" stroke-opacity="0.85"/>
<path d="M509.7,126.5Q506.8,124.4 503.7,126.5" stroke="#6b8ba3" stroke-width="0.6" stroke-opacity="0.85"/>
<path d="M550.4,119.7Q552.8,121.0 555.0,119.7" stroke="#6b8ba3" stroke-width="0.6" stroke-opacity="0.85"/>
<path d="M530.6,143.8Q529.1,145.7 531.7,147.7" stroke="#6b8ba3" stroke-width="0.6" stroke-opacity="0.85"/>
<path d="M515.5,135.3Q511.7,136.7 512.7,141.5" stroke="#6b8ba3" stroke-width="0.6" stroke-opacity="0.85"/>
<path d="M510.6,117.7Q509.2,115.7 506.6,117.6" stroke="#6b8ba3" stroke-width="0.6" stroke-opacity="0.85"/>
<path d="M510.0,116.0Q508.1,114.5 505.9,116.3" stroke="#6b8ba3" stroke-width="0.6" stroke-opacity="0.85"/>
<path d="M541.2,141.0Q544.1,141.3 544.3,144.7" stroke="#6b8ba3" stroke-width="0.6" stroke-opacity="0.85"/>
<path d="M539.9,105.8Q540.2,102.7 543.9,102.6" stroke="#6b8ba3" stroke-width="0.6" stroke-opacity="0.85"/>
<path d="M548.0,114.1Q550.5,114.7 551.1,111.3" stroke="#6b8ba3" stroke-width="0.6" stroke-opacity="0.85"/>
<path d="M527.3,102.7Q530.8,100.8 528.7,96.2" stroke="#6b8ba3" stroke-width="0.6" stroke-opacity="0.85"/>
<path d="M517.6,138.6Q518.5,140.9 516.5,142.6" stroke="#6b8ba3" stroke-width="0.6" stroke-opacity="0.85"/>
<path d="M510.4,123.4Q507.2,124.7 505.0,121.6" stroke="#6b8ba3" stroke-width="0.6" stroke-opacity="0.85"/>
<path d="M531.3,143.8Q531.1,146.2 533.1,147.3" stroke="#6b8ba3" stroke-width="0.6" stroke-opacity="0.85"/>
<path d="M543.8,108.3Q547.6,108.8 548.9,104.5" stroke="#6b8ba3" stroke-width="0.6" stroke-opacity="0.85"/>
<path d="M541.0,141.0Q541.5,144.1 545.3,144.1" stroke="#6b8ba3" stroke-width="0.6" stroke-opacity="0.85"/>
<path d="M518.5,139.4Q519.1,143.5 514.8,145.1" stroke="#6b8ba3" stroke-width="0.6" stroke-opacity="0.85"/>
<path d="M516.3,109.3Q515.7,107.2 513.1,107.5" stroke="#6b8ba3" stroke-width="0.6" stroke-opacity="0.85"/>
<path d="M548.1,114.9Q549.6,113.4 551.6,114.2" stroke="#6b8ba3" stroke-width="0.6" stroke-opacity="0.85"/>
<path d="M534.4,142.7Q532.4,146.2 534.7,149.4" stroke="#6b8ba3" stroke-width="0.6" stroke-opacity="0.85"/>
<path d="M511.1,116.8Q509.2,118.6 506.8,116.5" stroke="#6b8ba3" stroke-width="0.6" stroke-opacity="0.85"/>
<path d="M544.5,138.5Q548.0,137.6 549.9,141.4" stroke="#6b8ba3" stroke-width="0.6" stroke-opacity="0.85"/>
<path d="M550.3,118.3Q552.0,115.5 555.7,117.6" stroke="#6b8ba3" stroke-width="0.6" stroke-opacity="0.85"/>
<path d="M549.8,123.8Q552.3,125.5 554.8,123.6" stroke="#6b8ba3" stroke-width="0.6" stroke-opacity="0.85"/>
<path d="M535.3,143.7Q538.2,145.1 537.8,148.5" stroke="#6b8ba3" stroke-width="0.6" stroke-opacity="0.85"/>
<path d="M517.6,138.2Q514.1,137.8 513.5,142.6" stroke="#6b8ba3" stroke-width="0.6" stroke-opacity="0.85"/>
<path d="M525.2,142.9Q522.5,145.1 524.0,148.6" stroke="#6b8ba3" stroke-width="0.6" stroke-opacity="0.85"/>
<path d="M512.1,114.4Q508.7,116.7 505.7,111.7" stroke="#6b8ba3" stroke-width="0.6" stroke-opacity="0.85"/>
<path d="M513.8,135.8Q511.0,136.1 510.4,139.0" stroke="#6b8ba3" stroke-width="0.6" stroke-opacity="0.85"/>
<path d="M543.1,137.1Q542.7,140.8 547.2,141.9" stroke="#6b8ba3" stroke-width="0.6" stroke-opacity="0.85"/>
<path d="M510.9,126.9Q507.6,125.7 505.5,129.5" stroke="#6b8ba3" stroke-width="0.6" stroke-opacity="0.85"/>
<path d="M514.6,111.9Q514.2,109.4 511.9,108.6" stroke="#6b8ba3" stroke-width="0.6" stroke-opacity="0.85"/>
<path d="M548.3,117.2Q551.9,118.5 553.8,114.1" stroke="#6b8ba3" stroke-width="0.6" stroke-opacity="0.85"/>
<path d="M549.8,118.1Q550.7,114.2 555.4,114.5" stroke="#6b8ba3" stroke-width="0.6" stroke-opacity="0.85"/>
<path d="M538.7,140.7Q536.4,144.2 538.6,147.7" stroke="#6b8ba3" stroke-width="0.6" stroke-opacity="0.85"/>
<path d="M522.3,103.2Q520.6,101.9 522.3,99.6" stroke="#6b8ba3" stroke-width="0.6" stroke-opacity="0.85"/>
<path d="M548.9,117.2Q551.7,118.2 553.3,114.8" stroke="#6b8ba3" stroke-width="0.6" stroke-opacity="0.85"/>
<path d="M538.1,104.8Q536.3,102.4 538.5,99.8" stroke="#6b8ba3" stroke-width="0.6" stroke-opacity="0.85"/>
<path d="M549.4,129.5Q550.0,132.9 554.6,131.8" stroke="#6b8ba3" stroke-width="0.6" stroke-opacity="0.85"/>
<path d="M520.4,106.1Q520.0,103.9 517.7,103.6" stroke="#6b8ba3" stroke-width="0.6" stroke-opacity="0.85"/>
<path d="M532.2,142.1Q535.1,143.6 533.5,147.4" stroke="#6b8ba3" stroke-width="0.6" stroke-opacity="0.85"/>
<path d="M535.0,142.7Q538.3,144.7 536.1,149.0" stroke="#6b8ba3" stroke-width="0.6" stroke-opacity="0.85"/>
<path d="M510.9,131.4Q508.6,128.4 504.6,131.7" stroke="#6b8ba3" stroke-width="0.6" stroke-opacity="0.85"/>
<path d="M511.4,133.2Q511.8,136.3 508.0,137.1" stroke="#6b8ba3" stroke-width="0.6" stroke-opacity="0.85"/>
<path d="M539.6,106.6Q543.3,106.0 543.2,101.5" stroke="#6b8ba3" stroke-width="0.6" stroke-opacity="0.85"/>
<path d="M523.3,140.7Q520.8,142.8 521.6,145.8" stroke="#6b8ba3" stroke-width="0.6" stroke-opacity="0.85"/>
<path d="M551.1,119.3Q552.8,122.2 556.5,120.9" stroke="#6b8ba3" stroke-width="0.6" stroke-opacity="0.85"/>
<path d="M545.8,111.3Q548.9,112.7 550.7,108.6" stroke="#6b8ba3" stroke-width="0.6" stroke-opacity="0.85"/>
<path d="M533.2,144.0Q535.3,144.9 533.9,147.7" stroke="#6b8ba3" stroke-width="0.6" stroke-opacity="0.85"/>
<path d="M518.4,140.0Q520.8,142.6 517.4,145.8" stroke="#6b8ba3" stroke-width="0.6" stroke-opacity="0.85"/>
<path d="M542.8,138.3Q545.5,139.5 544.1,143.1" stroke="#6b8ba3" stroke-width="0.6" stroke-opacity="0.85"/>
<path d="M541.9,106.8Q539.6,104.5 542.9,101.4" stroke="#6b8ba3" stroke-width="0.6" stroke-opacity="0.85"/>
<path d="M536.6,142.6Q539.3,144.6 538.6,147.9" stroke="#6b8ba3" stroke-width="0.6" stroke-opacity="0.85"/>
<path d="M509.6,119.6Q506.1,117.7 502.9,119.9" stroke="#6b8ba3" stroke-width="0.6" stroke-opacity="0.85"/>
</g>
<ellipse cx="493.8" cy="119.3" rx="36.7" ry="34.0" fill="url(#gP)"/>
<path d="M552.9,62.8 C551.5,86 554.5,107 567,123.5 C578,137 593,142.5 612,144.2" fill="none" stroke="#000" stroke-width="3.5" stroke-linecap="butt"/>
<path d="M634.8,145.6 L606.6,135.2 L611.6,144.0 L605.6,153.0 Z" fill="#000"/>
<path d="M450.6,114.5 C450.7,116.1 451.2,120.9 450.9,124.1 C450.5,127.3 450.0,130.9 448.5,133.8 C447.0,136.7 444.6,139.5 441.9,141.6 C439.2,143.7 435.0,145.4 432.2,146.6 C429.4,147.8 426.2,148.4 425.0,148.8" fill="none" stroke="#000" stroke-width="3.5" stroke-linecap="butt"/>
<path d="M401.4,151.0 L428.8,140.8 L425.4,148.9 L431.0,158.0 Z" fill="#000"/>
<rect x="123.3" y="299.5" width="261.6" height="140.2" fill="#ffffff" stroke="#c4209a" stroke-width="2.4"/>
<rect x="134.8" y="324.1" width="12.4" height="4.1" fill="#c8229c"/>
<path d="M153.1,313.3 L156.9,313.3 L163.5,332.4 L170.3,313.3 L174.1,313.3 L165.8,337 L161.2,337 Z" fill="#c8229c"/>
<line x1="216.8" y1="321.4" x2="262" y2="321.4" stroke="#c8229c" stroke-width="2.4"/>
<path d="M272.8,321.4 L255.6,314.3 L259.6,321.4 L255.6,328.5 Z" fill="#c8229c"/>
<circle cx="244.6" cy="381.0" r="53" fill="url(#gGlow)"/>
<circle cx="288.2" cy="386" r="17.8" fill="#c993f0" filter="url(#blur2)"/>
<g mask="url(#mB)">
<g fill="none" stroke-linecap="round">
<circle cx="288.7" cy="386.0" r="17.3" fill="#587a95" stroke="none" filter="url(#blur2)"/>
<path d="M283.7,396.0Q284.0,397.3 284.4,398.4" stroke="#5f819b" stroke-width="0.79"/>
<path d="M298.8,379.6Q299.0,378.6 300.3,378.2" stroke="#c9d6e0" stroke-width="0.53"/>
<path d="M272.0,378.7Q270.9,379.3 269.9,377.4" stroke="#c9d6e0" stroke-width="0.52"/>
<path d="M291.4,400.9Q291.7,402.0 292.1,402.9" stroke="#54768f" stroke-width="0.78"/>
<path d="M284.3,376.3Q283.2,376.8 282.2,375.0" stroke="#5c7e98" stroke-width="0.78"/>
<path d="M277.9,376.0Q277.5,374.9 277.2,373.7" stroke="#8fa9bd" stroke-width="0.68"/>
<path d="M288.8,397.5Q290.1,398.0 290.6,399.4" stroke="#8fa9bd" stroke-width="0.94"/>
<path d="M287.1,373.4Q285.9,372.7 285.0,371.5" stroke="#5f819b" stroke-width="0.58"/>
<path d="M278.9,386.7Q277.8,386.0 276.6,385.7" stroke="#5f819b" stroke-width="0.67"/>
<path d="M280.1,397.9Q281.2,398.4 280.4,400.5" stroke="#54768f" stroke-width="0.74"/>
<path d="M283.5,377.3Q284.5,376.5 282.8,374.9" stroke="#8fa9bd" stroke-width="0.64"/>
<path d="M276.6,396.6Q276.6,397.6 275.1,398.0" stroke="#5c7e98" stroke-width="0.75"/>
<path d="M291.2,398.4Q290.5,399.5 292.2,400.8" stroke="#8fa9bd" stroke-width="0.54"/>
<path d="M274.3,390.8Q273.8,389.5 271.7,390.1" stroke="#54768f" stroke-width="0.85"/>
<path d="M304.9,384.6Q304.9,383.5 306.8,383.4" stroke="#6d8ca4" stroke-width="0.62"/>
<path d="M290.2,400.5Q291.4,400.3 291.5,402.6" stroke="#c9d6e0" stroke-width="0.77"/>
<path d="M278.7,377.7Q279.5,377.0 278.2,375.7" stroke="#4d6f8b" stroke-width="0.73"/>
<path d="M301.3,372.8Q302.0,371.7 303.2,371.1" stroke="#c9d6e0" stroke-width="0.55"/>
<path d="M282.0,378.4Q281.1,378.9 280.0,377.8" stroke="#5f819b" stroke-width="0.80"/>
<path d="M300.9,395.2Q300.7,396.4 301.2,397.6" stroke="#5c7e98" stroke-width="0.94"/>
<path d="M280.3,378.7Q279.2,378.5 278.3,377.7" stroke="#5c7e98" stroke-width="0.56"/>
<path d="M270.3,387.4Q270.0,388.5 268.1,388.3" stroke="#5f819b" stroke-width="0.87"/>
<path d="M272.5,388.2Q271.4,387.7 270.6,389.7" stroke="#5f819b" stroke-width="0.57"/>
<path d="M279.4,383.4Q279.9,382.3 278.4,381.2" stroke="#54768f" stroke-width="0.76"/>
<path d="M299.9,378.7Q300.9,378.2 301.8,377.7" stroke="#46688a" stroke-width="0.81"/>
<path d="M292.7,369.7Q292.2,368.7 292.2,367.6" stroke="#46688a" stroke-width="0.60"/>
<path d="M272.1,386.8Q270.8,386.2 269.6,385.5" stroke="#46688a" stroke-width="0.85"/>
<path d="M302.4,382.2Q302.2,383.5 304.7,383.7" stroke="#5f819b" stroke-width="0.54"/>
<path d="M300.3,394.6Q300.0,395.8 302.1,395.9" stroke="#4d6f8b" stroke-width="0.74"/>
<path d="M278.9,371.9Q279.5,371.1 278.2,370.0" stroke="#46688a" stroke-width="0.74"/>
<path d="M296.1,401.4Q295.0,401.8 295.9,403.6" stroke="#c9d6e0" stroke-width="0.73"/>
<path d="M288.3,375.6Q288.0,374.6 289.9,374.2" stroke="#8fa9bd" stroke-width="0.90"/>
<path d="M299.2,399.8Q300.2,400.8 300.2,402.4" stroke="#6d8ca4" stroke-width="0.51"/>
<path d="M293.8,370.2Q293.6,369.2 295.2,368.7" stroke="#46688a" stroke-width="0.91"/>
<path d="M291.7,398.0Q292.2,398.9 293.1,399.6" stroke="#54768f" stroke-width="0.77"/>
<path d="M293.8,377.3Q295.1,377.4 296.3,376.4" stroke="#c9d6e0" stroke-width="0.91"/>
<path d="M296.6,378.4Q297.7,378.6 298.2,377.0" stroke="#6d8ca4" stroke-width="0.80"/>
<path d="M290.5,375.0Q290.0,374.0 291.3,373.0" stroke="#4d6f8b" stroke-width="0.66"/>
<path d="M273.6,384.3Q272.4,384.8 271.4,385.7" stroke="#46688a" stroke-width="0.60"/>
<path d="M298.9,388.8Q300.0,389.2 300.9,387.5" stroke="#5c7e98" stroke-width="0.72"/>
<path d="M277.5,376.4Q276.8,375.4 276.3,374.3" stroke="#8fa9bd" stroke-width="0.75"/>
<path d="M288.9,400.9Q287.6,400.6 287.1,402.9" stroke="#46688a" stroke-width="0.92"/>
<path d="M295.8,394.2Q296.8,393.7 298.1,394.5" stroke="#5c7e98" stroke-width="0.61"/>
<path d="M285.2,396.3Q283.9,396.4 282.8,397.4" stroke="#5f819b" stroke-width="0.57"/>
<path d="M302.3,373.7Q303.4,373.5 304.5,373.8" stroke="#8fa9bd" stroke-width="0.58"/>
<path d="M282.8,375.5Q282.9,374.3 283.7,373.2" stroke="#c9d6e0" stroke-width="0.60"/>
<path d="M281.8,401.0Q281.4,402.0 280.8,402.8" stroke="#4d6f8b" stroke-width="0.69"/>
<path d="M276.0,384.6Q274.7,384.0 273.7,386.1" stroke="#46688a" stroke-width="0.99"/>
<path d="M298.6,393.6Q299.4,394.2 299.4,395.5" stroke="#6d8ca4" stroke-width="0.91"/>
<path d="M298.2,372.9Q298.9,371.7 299.4,370.4" stroke="#8fa9bd" stroke-width="0.85"/>
<path d="M297.2,391.4Q298.3,390.6 299.5,392.4" stroke="#4d6f8b" stroke-width="0.82"/>
<path d="M292.0,376.1Q292.6,374.9 290.8,373.7" stroke="#8fa9bd" stroke-width="0.51"/>
<path d="M302.7,385.5Q303.5,384.4 305.3,386.0" stroke="#46688a" stroke-width="0.97"/>
<path d="M300.9,383.6Q301.6,384.4 302.7,384.8" stroke="#46688a" stroke-width="0.64"/>
<path d="M277.2,386.0Q277.1,387.1 275.7,387.7" stroke="#4d6f8b" stroke-width="0.51"/>
<path d="M270.3,385.3Q269.2,386.0 268.1,386.3" stroke="#c9d6e0" stroke-width="0.83"/>
<path d="M271.6,380.9Q270.6,381.9 268.9,381.1" stroke="#46688a" stroke-width="0.67"/>
<path d="M296.8,371.7Q296.8,370.5 297.7,369.4" stroke="#4d6f8b" stroke-width="0.92"/>
<path d="M304.4,387.4Q305.0,386.2 307.1,387.3" stroke="#c9d6e0" stroke-width="0.94"/>
<path d="M282.7,374.9Q281.7,374.3 281.0,373.5" stroke="#6d8ca4" stroke-width="0.63"/>
<path d="M302.1,386.3Q303.2,386.8 303.6,388.1" stroke="#4d6f8b" stroke-width="0.98"/>
<path d="M283.8,398.5Q283.7,399.4 283.5,400.4" stroke="#46688a" stroke-width="0.62"/>
<path d="M290.4,375.7Q290.1,374.4 289.2,373.3" stroke="#c9d6e0" stroke-width="0.51"/>
<path d="M284.6,397.4Q283.6,398.1 283.7,399.7" stroke="#c9d6e0" stroke-width="0.88"/>
<path d="M286.0,371.6Q285.2,370.8 286.1,369.4" stroke="#c9d6e0" stroke-width="0.87"/>
<path d="M292.9,375.8Q294.0,375.3 293.9,373.5" stroke="#4d6f8b" stroke-width="0.91"/>
<path d="M273.3,377.0Q272.1,376.7 271.7,375.1" stroke="#4d6f8b" stroke-width="0.52"/>
<path d="M276.8,372.1Q275.7,372.4 275.1,370.5" stroke="#4d6f8b" stroke-width="0.81"/>
<path d="M282.5,372.8Q283.2,372.0 282.7,370.8" stroke="#5c7e98" stroke-width="0.83"/>
<path d="M303.9,392.7Q304.6,391.8 306.0,392.0" stroke="#46688a" stroke-width="0.62"/>
<path d="M280.3,374.4Q279.7,373.2 277.6,373.9" stroke="#54768f" stroke-width="0.88"/>
<path d="M276.9,375.3Q276.0,375.8 274.8,375.1" stroke="#54768f" stroke-width="0.81"/>
<path d="M298.4,396.8Q299.3,397.6 298.1,399.2" stroke="#46688a" stroke-width="0.84"/>
<path d="M284.9,400.4Q285.7,401.3 284.5,402.7" stroke="#46688a" stroke-width="0.66"/>
<path d="M301.1,393.4Q302.2,393.2 303.3,392.9" stroke="#8fa9bd" stroke-width="1.00"/>
<path d="M275.1,397.8Q276.1,398.6 274.8,400.5" stroke="#54768f" stroke-width="0.98"/>
<path d="M300.3,398.8Q299.8,399.9 300.4,401.2" stroke="#46688a" stroke-width="0.75"/>
<path d="M298.5,376.4Q299.4,376.8 300.6,376.4" stroke="#c9d6e0" stroke-width="0.65"/>
<path d="M297.1,396.3Q298.2,396.6 297.3,398.5" stroke="#5f819b" stroke-width="0.92"/>
<path d="M301.9,398.4Q302.6,399.4 302.1,400.9" stroke="#5f819b" stroke-width="0.53"/>
<path d="M275.1,397.2Q274.3,396.6 273.0,397.1" stroke="#4d6f8b" stroke-width="0.64"/>
<path d="M303.9,391.1Q304.8,392.0 306.3,390.4" stroke="#c9d6e0" stroke-width="0.76"/>
<path d="M293.7,398.6Q292.5,399.3 292.8,401.2" stroke="#c9d6e0" stroke-width="0.96"/>
<path d="M302.8,380.5Q303.8,379.7 303.8,378.1" stroke="#8fa9bd" stroke-width="0.81"/>
<path d="M300.1,399.5Q299.9,400.7 300.0,401.9" stroke="#6d8ca4" stroke-width="0.74"/>
<path d="M281.6,396.6Q280.6,397.5 279.0,397.0" stroke="#46688a" stroke-width="0.65"/>
<path d="M275.8,381.2Q275.2,382.0 273.8,381.7" stroke="#8fa9bd" stroke-width="0.78"/>
<path d="M276.1,389.8Q274.9,390.2 273.7,390.9" stroke="#46688a" stroke-width="0.55"/>
<path d="M283.0,394.8Q282.6,395.8 282.7,397.0" stroke="#4d6f8b" stroke-width="0.87"/>
<path d="M276.8,393.3Q276.3,394.4 275.1,394.9" stroke="#4d6f8b" stroke-width="0.75"/>
<path d="M276.7,380.0Q276.3,378.8 274.5,378.7" stroke="#46688a" stroke-width="0.55"/>
<path d="M299.6,377.8Q300.0,376.6 301.4,376.0" stroke="#4d6f8b" stroke-width="0.56"/>
<path d="M273.7,393.6Q272.4,393.2 271.2,392.7" stroke="#5c7e98" stroke-width="0.70"/>
<path d="M304.2,378.3Q305.6,378.0 306.7,379.3" stroke="#5c7e98" stroke-width="0.61"/>
<path d="M299.3,401.0Q298.9,402.0 299.4,403.1" stroke="#8fa9bd" stroke-width="0.54"/>
<path d="M290.3,376.8Q289.5,376.1 290.9,374.8" stroke="#54768f" stroke-width="0.98"/>
<path d="M278.2,375.3Q277.1,375.0 277.5,373.1" stroke="#54768f" stroke-width="0.76"/>
<path d="M276.8,379.2Q275.9,379.7 275.2,377.8" stroke="#54768f" stroke-width="1.00"/>
<path d="M286.4,398.8Q286.7,400.1 287.1,401.3" stroke="#46688a" stroke-width="0.51"/>
<path d="M275.1,394.4Q274.1,394.6 274.2,396.2" stroke="#c9d6e0" stroke-width="0.54"/>
<path d="M290.6,399.9Q290.3,401.0 291.0,402.2" stroke="#c9d6e0" stroke-width="0.68"/>
<path d="M281.2,391.7Q280.7,392.7 279.0,391.8" stroke="#8fa9bd" stroke-width="0.98"/>
<path d="M282.2,402.0Q281.6,403.0 282.4,404.2" stroke="#54768f" stroke-width="0.55"/>
<path d="M277.5,375.0Q277.8,373.7 275.6,373.2" stroke="#4d6f8b" stroke-width="0.97"/>
<path d="M297.0,396.9Q297.7,397.8 296.6,399.0" stroke="#4d6f8b" stroke-width="0.85"/>
<path d="M294.4,399.0Q295.7,398.9 296.2,400.9" stroke="#5c7e98" stroke-width="0.97"/>
<path d="M283.2,396.2Q283.4,397.5 280.9,397.8" stroke="#c9d6e0" stroke-width="0.92"/>
<path d="M302.8,384.7Q302.5,383.7 304.2,383.1" stroke="#c9d6e0" stroke-width="0.98"/>
<path d="M301.8,398.9Q302.1,399.9 303.7,399.9" stroke="#c9d6e0" stroke-width="0.54"/>
<path d="M285.4,374.7Q284.6,373.9 284.6,372.5" stroke="#8fa9bd" stroke-width="0.52"/>
<path d="M274.1,395.2Q275.1,395.9 273.6,397.7" stroke="#5c7e98" stroke-width="0.90"/>
<path d="M299.5,390.4Q300.5,390.7 301.2,391.6" stroke="#5f819b" stroke-width="0.98"/>
<path d="M279.5,377.7Q278.2,377.8 277.1,376.7" stroke="#4d6f8b" stroke-width="0.86"/>
<path d="M274.5,376.3Q273.4,375.5 271.8,376.8" stroke="#5c7e98" stroke-width="0.74"/>
<path d="M306.3,381.1Q307.0,380.2 308.0,379.6" stroke="#8fa9bd" stroke-width="0.57"/>
<path d="M279.3,386.2Q277.9,386.1 276.7,387.2" stroke="#6d8ca4" stroke-width="0.80"/>
<path d="M282.6,397.5Q282.6,398.6 280.7,398.7" stroke="#46688a" stroke-width="0.70"/>
<path d="M296.1,397.7Q296.7,398.8 297.6,399.8" stroke="#6d8ca4" stroke-width="0.99"/>
<path d="M302.5,373.6Q301.6,372.9 302.7,371.4" stroke="#8fa9bd" stroke-width="0.99"/>
<path d="M300.0,384.0Q300.8,384.7 302.0,383.5" stroke="#46688a" stroke-width="0.87"/>
<path d="M297.9,372.8Q298.6,372.0 299.9,372.1" stroke="#54768f" stroke-width="0.69"/>
<path d="M287.8,374.3Q286.7,374.1 286.7,372.4" stroke="#46688a" stroke-width="0.66"/>
<path d="M274.0,397.3Q272.9,397.7 273.0,399.5" stroke="#8fa9bd" stroke-width="1.00"/>
<path d="M300.3,394.7Q299.5,395.7 301.1,397.2" stroke="#4d6f8b" stroke-width="0.94"/>
<path d="M289.8,395.9Q290.1,397.1 288.6,398.1" stroke="#5c7e98" stroke-width="0.69"/>
<path d="M298.2,375.4Q299.0,376.1 300.3,374.6" stroke="#5c7e98" stroke-width="0.82"/>
<path d="M285.4,373.1Q284.4,373.2 284.3,371.4" stroke="#54768f" stroke-width="0.52"/>
<path d="M286.7,368.1Q287.0,366.8 287.9,365.7" stroke="#5f819b" stroke-width="0.59"/>
<path d="M284.2,396.9Q284.9,398.0 283.0,399.3" stroke="#5c7e98" stroke-width="0.90"/>
<path d="M282.9,376.4Q282.3,375.3 282.3,374.0" stroke="#54768f" stroke-width="0.70"/>
<path d="M286.0,398.6Q286.0,400.0 286.4,401.4" stroke="#5f819b" stroke-width="0.71"/>
<path d="M305.5,387.9Q306.8,388.1 307.9,388.9" stroke="#c9d6e0" stroke-width="0.60"/>
<path d="M306.6,386.7Q307.7,387.1 308.5,388.0" stroke="#5f819b" stroke-width="0.73"/>
<path d="M293.7,394.1Q292.9,395.0 294.4,396.4" stroke="#5c7e98" stroke-width="0.79"/>
<path d="M303.7,378.6Q303.7,377.6 305.2,377.2" stroke="#6d8ca4" stroke-width="0.96"/>
<path d="M300.0,395.2Q301.0,396.2 300.2,397.9" stroke="#6d8ca4" stroke-width="0.92"/>
<path d="M306.0,390.9Q306.8,391.7 308.0,391.9" stroke="#5c7e98" stroke-width="0.95"/>
<path d="M276.1,374.1Q275.2,373.5 275.5,372.1" stroke="#c9d6e0" stroke-width="0.81"/>
<path d="M293.5,399.6Q293.6,400.9 295.8,400.6" stroke="#6d8ca4" stroke-width="0.69"/>
<path d="M297.5,394.6Q298.7,395.1 297.7,397.1" stroke="#4d6f8b" stroke-width="0.83"/>
<path d="M282.5,398.2Q281.4,398.0 280.4,399.3" stroke="#c9d6e0" stroke-width="0.65"/>
<path d="M288.8,399.7Q289.6,400.5 288.8,402.0" stroke="#4d6f8b" stroke-width="0.81"/>
<path d="M276.6,386.8Q275.3,386.4 274.2,385.7" stroke="#6d8ca4" stroke-width="0.91"/>
<path d="M280.4,392.0Q279.3,392.1 279.0,393.7" stroke="#4d6f8b" stroke-width="0.52"/>
<path d="M301.0,399.2Q302.1,399.4 301.8,401.3" stroke="#c9d6e0" stroke-width="0.83"/>
<path d="M290.8,376.6Q291.6,375.9 291.6,374.7" stroke="#5c7e98" stroke-width="0.60"/>
<path d="M303.2,384.3Q304.6,384.1 305.5,386.0" stroke="#46688a" stroke-width="0.53"/>
<path d="M278.7,399.5Q278.0,400.3 276.7,400.0" stroke="#8fa9bd" stroke-width="0.57"/>
<path d="M270.7,385.7Q269.7,386.2 268.7,386.6" stroke="#5f819b" stroke-width="0.69"/>
<path d="M293.1,399.1Q294.2,399.7 294.7,401.0" stroke="#c9d6e0" stroke-width="0.58"/>
<path d="M291.0,375.5Q291.2,374.3 292.1,373.3" stroke="#8fa9bd" stroke-width="0.78"/>
<path d="M273.1,377.4Q273.3,376.4 272.8,375.4" stroke="#c9d6e0" stroke-width="0.87"/>
<path d="M279.3,395.8Q279.6,396.9 279.0,398.1" stroke="#5c7e98" stroke-width="0.72"/>
<path d="M296.1,401.0Q296.6,401.9 295.9,403.0" stroke="#5f819b" stroke-width="0.87"/>
<path d="M288.5,374.0Q288.5,372.9 288.9,371.8" stroke="#5f819b" stroke-width="0.95"/>
<path d="M296.8,394.9Q297.3,393.7 299.4,394.8" stroke="#5f819b" stroke-width="0.65"/>
<path d="M273.9,383.8Q273.3,384.9 271.6,384.3" stroke="#5f819b" stroke-width="0.81"/>
<path d="M277.8,387.7Q277.7,389.1 275.6,389.3" stroke="#5c7e98" stroke-width="0.53"/>
<path d="M298.6,398.7Q297.6,399.3 298.8,400.9" stroke="#4d6f8b" stroke-width="0.82"/>
<path d="M276.4,380.9Q276.1,379.7 274.0,380.2" stroke="#8fa9bd" stroke-width="0.62"/>
<path d="M296.8,380.4Q297.0,379.2 298.6,378.7" stroke="#4d6f8b" stroke-width="0.96"/>
<path d="M301.1,395.6Q302.3,395.5 303.6,395.9" stroke="#c9d6e0" stroke-width="0.91"/>
<path d="M294.6,397.5Q295.0,398.5 296.7,398.1" stroke="#8fa9bd" stroke-width="0.86"/>
<path d="M306.2,386.7Q307.3,387.4 308.8,386.6" stroke="#8fa9bd" stroke-width="0.59"/>
<path d="M301.1,385.7Q302.3,386.0 303.0,384.1" stroke="#54768f" stroke-width="0.86"/>
<path d="M287.2,401.1Q286.4,402.0 285.8,403.0" stroke="#54768f" stroke-width="0.65"/>
<path d="M304.8,378.3Q305.1,377.3 306.7,377.4" stroke="#46688a" stroke-width="0.92"/>
<path d="M292.0,396.8Q293.2,397.4 294.1,398.6" stroke="#46688a" stroke-width="0.69"/>
<path d="M299.5,371.5Q300.8,371.2 302.1,370.7" stroke="#8fa9bd" stroke-width="0.92"/>
<path d="M283.0,369.4Q283.3,368.2 283.2,367.0" stroke="#54768f" stroke-width="0.89"/>
<path d="M276.7,395.7Q277.6,396.6 276.0,398.1" stroke="#5c7e98" stroke-width="0.55"/>
<path d="M300.7,380.3Q299.9,379.6 301.2,378.2" stroke="#4d6f8b" stroke-width="0.85"/>
<path d="M287.9,375.9Q288.4,374.7 287.1,373.5" stroke="#5c7e98" stroke-width="0.94"/>
<path d="M289.3,369.5Q288.3,369.1 288.4,367.4" stroke="#4d6f8b" stroke-width="0.52"/>
<path d="M298.6,371.9Q299.9,371.8 301.0,371.0" stroke="#54768f" stroke-width="0.74"/>
<path d="M300.2,398.6Q301.4,398.7 302.4,399.8" stroke="#54768f" stroke-width="0.51"/>
<path d="M288.2,398.6Q288.9,399.7 288.7,401.2" stroke="#8fa9bd" stroke-width="0.93"/>
<path d="M281.5,379.4Q281.2,378.3 279.7,378.1" stroke="#5f819b" stroke-width="0.73"/>
<path d="M303.3,390.5Q303.9,391.7 304.9,392.6" stroke="#54768f" stroke-width="0.59"/>
<path d="M300.5,386.1Q301.7,385.7 302.2,388.1" stroke="#8fa9bd" stroke-width="0.55"/>
<path d="M282.8,369.7Q284.0,368.8 282.4,366.9" stroke="#54768f" stroke-width="0.79"/>
<path d="M298.1,400.5Q299.4,400.1 300.4,401.9" stroke="#5c7e98" stroke-width="0.75"/>
<path d="M303.9,385.1Q304.2,384.1 305.9,384.4" stroke="#c9d6e0" stroke-width="0.95"/>
<path d="M288.3,372.0Q287.4,371.1 287.6,369.6" stroke="#c9d6e0" stroke-width="0.95"/>
<path d="M275.1,385.9Q274.0,386.6 272.7,387.1" stroke="#4d6f8b" stroke-width="0.67"/>
<path d="M283.5,396.0Q282.2,396.3 281.6,397.9" stroke="#6d8ca4" stroke-width="0.73"/>
<path d="M284.1,374.5Q283.7,373.5 282.7,372.8" stroke="#46688a" stroke-width="0.75"/>
<path d="M286.9,402.7Q285.9,403.6 286.0,405.2" stroke="#46688a" stroke-width="0.86"/>
<path d="M278.1,378.0Q277.4,377.1 277.9,375.8" stroke="#5c7e98" stroke-width="0.58"/>
<path d="M282.3,376.2Q281.2,376.3 280.3,375.4" stroke="#54768f" stroke-width="0.72"/>
<path d="M294.0,401.0Q294.9,401.4 295.6,402.3" stroke="#4d6f8b" stroke-width="0.51"/>
<path d="M297.3,374.8Q298.2,374.2 299.5,374.7" stroke="#4d6f8b" stroke-width="0.57"/>
<path d="M277.7,377.6Q277.2,376.4 277.2,375.1" stroke="#c9d6e0" stroke-width="0.92"/>
<path d="M280.8,372.1Q280.7,370.7 280.1,369.5" stroke="#46688a" stroke-width="0.84"/>
<path d="M279.7,374.9Q278.6,374.7 278.7,372.9" stroke="#c9d6e0" stroke-width="0.62"/>
<path d="M275.4,395.7Q274.3,395.7 273.2,395.7" stroke="#4d6f8b" stroke-width="0.81"/>
<path d="M275.1,394.7Q274.1,395.7 273.9,397.2" stroke="#4d6f8b" stroke-width="0.69"/>
<path d="M270.3,387.2Q269.6,387.9 268.3,387.1" stroke="#46688a" stroke-width="0.76"/>
<path d="M301.1,395.1Q301.7,396.2 302.3,397.2" stroke="#5f819b" stroke-width="0.76"/>
<path d="M273.3,395.7Q272.3,396.2 271.2,396.2" stroke="#5c7e98" stroke-width="0.86"/>
<path d="M276.7,375.6Q275.8,376.2 274.8,374.5" stroke="#5c7e98" stroke-width="0.71"/>
<path d="M274.3,393.8Q274.4,395.0 273.0,395.7" stroke="#c9d6e0" stroke-width="0.97"/>
<path d="M276.9,384.0Q275.9,384.8 274.3,384.0" stroke="#6d8ca4" stroke-width="0.96"/>
<path d="M304.3,393.2Q304.6,394.2 305.9,394.6" stroke="#6d8ca4" stroke-width="0.68"/>
<path d="M277.6,372.8Q276.3,372.3 275.8,370.8" stroke="#6d8ca4" stroke-width="0.89"/>
<path d="M272.0,389.3Q271.1,388.6 269.8,388.9" stroke="#c9d6e0" stroke-width="0.84"/>
<path d="M271.6,388.0Q270.3,388.0 269.2,388.9" stroke="#5f819b" stroke-width="0.74"/>
<path d="M274.4,392.9Q273.2,392.5 272.5,394.5" stroke="#c9d6e0" stroke-width="0.53"/>
<path d="M297.1,370.2Q297.9,369.1 296.7,367.6" stroke="#4d6f8b" stroke-width="0.83"/>
<path d="M291.3,395.9Q291.1,397.0 291.4,398.2" stroke="#46688a" stroke-width="0.59"/>
<path d="M272.4,391.1Q271.4,391.5 270.5,392.1" stroke="#5c7e98" stroke-width="0.83"/>
<path d="M302.1,375.5Q303.1,374.5 303.0,373.0" stroke="#5c7e98" stroke-width="0.87"/>
<path d="M272.2,392.7Q272.1,393.9 270.6,394.5" stroke="#6d8ca4" stroke-width="0.74"/>
<path d="M275.1,380.9Q273.7,380.7 273.0,379.1" stroke="#6d8ca4" stroke-width="0.77"/>
<path d="M294.8,378.9Q295.8,377.9 296.4,376.7" stroke="#54768f" stroke-width="0.92"/>
<path d="M278.8,395.9Q278.4,397.2 278.8,398.6" stroke="#4d6f8b" stroke-width="0.51"/>
<path d="M304.7,390.7Q306.1,390.6 306.5,392.8" stroke="#8fa9bd" stroke-width="0.74"/>
<path d="M296.5,380.1Q297.4,379.2 298.9,379.1" stroke="#5f819b" stroke-width="0.67"/>
<path d="M291.4,371.1Q290.6,369.9 290.8,368.4" stroke="#54768f" stroke-width="0.78"/>
<path d="M294.6,374.7Q295.0,373.4 295.4,372.2" stroke="#54768f" stroke-width="0.94"/>
<path d="M282.1,395.8Q283.0,396.6 282.3,398.2" stroke="#54768f" stroke-width="0.56"/>
<path d="M299.0,384.2Q300.4,383.9 301.6,383.3" stroke="#c9d6e0" stroke-width="0.77"/>
<path d="M300.9,389.9Q301.6,390.6 302.8,389.5" stroke="#4d6f8b" stroke-width="0.89"/>
<path d="M301.9,377.6Q303.1,377.8 304.3,376.8" stroke="#5c7e98" stroke-width="0.61"/>
<path d="M281.6,373.6Q280.4,374.1 279.1,372.7" stroke="#4d6f8b" stroke-width="0.71"/>
<path d="M303.3,396.7Q304.2,397.1 303.8,398.6" stroke="#54768f" stroke-width="0.78"/>
<path d="M288.1,398.8Q288.6,399.9 288.7,401.1" stroke="#4d6f8b" stroke-width="0.75"/>
<path d="M271.5,383.6Q270.4,383.0 268.9,383.6" stroke="#c9d6e0" stroke-width="0.72"/>
<path d="M302.3,387.2Q301.8,388.3 303.9,389.1" stroke="#8fa9bd" stroke-width="0.88"/>
<path d="M278.8,382.9Q278.5,381.7 277.5,380.8" stroke="#c9d6e0" stroke-width="0.50"/>
<path d="M284.3,376.1Q283.9,374.7 281.8,374.9" stroke="#6d8ca4" stroke-width="0.74"/>
<path d="M286.3,401.1Q285.1,401.1 284.9,403.1" stroke="#5f819b" stroke-width="0.89"/>
<path d="M284.7,368.9Q283.9,367.9 282.6,367.5" stroke="#8fa9bd" stroke-width="0.73"/>
<path d="M299.9,380.9Q300.4,379.6 302.7,380.8" stroke="#4d6f8b" stroke-width="0.94"/>
<path d="M282.6,371.5Q282.1,370.5 281.1,369.8" stroke="#8fa9bd" stroke-width="0.80"/>
<path d="M281.3,402.7Q281.9,403.8 280.4,405.1" stroke="#5c7e98" stroke-width="0.68"/>
<path d="M279.0,373.5Q278.8,372.4 277.2,372.0" stroke="#54768f" stroke-width="0.89"/>
<path d="M277.1,380.8Q277.3,379.8 276.5,378.8" stroke="#5f819b" stroke-width="0.93"/>
<path d="M287.3,376.6Q287.9,375.8 288.2,374.7" stroke="#46688a" stroke-width="0.69"/>
<path d="M282.5,371.7Q282.0,370.4 282.9,369.0" stroke="#4d6f8b" stroke-width="0.66"/>
<path d="M287.4,397.2Q286.1,397.6 285.9,399.5" stroke="#54768f" stroke-width="0.92"/>
<path d="M295.4,369.7Q296.3,368.8 295.3,367.2" stroke="#8fa9bd" stroke-width="0.67"/>
<path d="M301.8,393.7Q302.8,394.5 304.4,393.7" stroke="#46688a" stroke-width="0.65"/>
<path d="M301.6,390.9Q301.9,392.1 302.7,393.2" stroke="#4d6f8b" stroke-width="0.90"/>
<path d="M278.6,388.6Q277.4,389.1 276.0,388.0" stroke="#54768f" stroke-width="0.94"/>
<path d="M274.3,384.0Q273.8,385.1 272.1,385.0" stroke="#6d8ca4" stroke-width="0.90"/>
<path d="M284.9,400.9Q283.8,400.9 283.3,402.6" stroke="#46688a" stroke-width="0.52"/>
<path d="M302.2,385.8Q302.9,386.6 304.3,386.2" stroke="#6d8ca4" stroke-width="0.66"/>
<path d="M301.1,388.4Q301.5,387.2 303.2,387.1" stroke="#8fa9bd" stroke-width="0.79"/>
<path d="M292.8,403.6Q293.8,404.1 294.6,404.9" stroke="#6d8ca4" stroke-width="0.63"/>
<path d="M300.1,388.8Q300.1,387.7 302.0,387.7" stroke="#5f819b" stroke-width="0.94"/>
<path d="M271.1,390.7Q270.2,391.7 269.7,393.1" stroke="#c9d6e0" stroke-width="0.96"/>
<path d="M285.9,375.9Q284.8,376.1 284.3,374.3" stroke="#c9d6e0" stroke-width="0.59"/>
<path d="M296.6,375.0Q296.9,374.0 298.5,373.9" stroke="#54768f" stroke-width="0.97"/>
<path d="M302.8,391.5Q303.7,392.0 303.7,393.3" stroke="#8fa9bd" stroke-width="0.53"/>
<path d="M299.0,399.3Q300.0,400.2 299.9,401.9" stroke="#8fa9bd" stroke-width="0.88"/>
<path d="M299.0,394.0Q300.1,394.0 301.2,394.0" stroke="#6d8ca4" stroke-width="0.72"/>
<path d="M295.1,369.2Q296.4,368.8 295.9,366.6" stroke="#4d6f8b" stroke-width="0.58"/>
<path d="M293.8,377.0Q294.8,376.3 294.6,374.7" stroke="#8fa9bd" stroke-width="0.98"/>
<path d="M300.9,379.9Q301.9,379.8 301.6,378.0" stroke="#5f819b" stroke-width="0.91"/>
<path d="M273.1,388.2Q273.2,389.3 271.4,389.5" stroke="#8fa9bd" stroke-width="0.78"/>
<path d="M299.6,399.9Q300.7,399.9 301.2,401.5" stroke="#54768f" stroke-width="0.79"/>
<path d="M283.7,402.5Q284.3,403.4 284.6,404.5" stroke="#8fa9bd" stroke-width="0.56"/>
<path d="M298.7,384.7Q299.8,384.0 301.3,385.1" stroke="#8fa9bd" stroke-width="0.92"/>
<path d="M301.0,397.4Q302.4,397.5 303.3,399.1" stroke="#46688a" stroke-width="0.96"/>
<path d="M299.1,393.3Q300.4,393.8 301.8,392.8" stroke="#54768f" stroke-width="0.57"/>
<path d="M279.6,375.1Q278.8,374.3 278.1,373.2" stroke="#54768f" stroke-width="0.59"/>
<path d="M272.2,393.1Q271.7,394.1 270.1,393.7" stroke="#6d8ca4" stroke-width="0.76"/>
<path d="M290.1,397.4Q288.9,397.6 289.0,399.6" stroke="#8fa9bd" stroke-width="0.88"/>
<path d="M293.7,395.9Q294.7,396.6 294.3,398.3" stroke="#54768f" stroke-width="0.60"/>
<path d="M303.9,392.7Q305.1,392.4 305.5,394.4" stroke="#5f819b" stroke-width="0.67"/>
<path d="M298.3,371.2Q299.1,370.3 297.6,368.9" stroke="#8fa9bd" stroke-width="0.57"/>
<path d="M282.5,375.4Q281.6,374.5 283.3,373.1" stroke="#5f819b" stroke-width="0.79"/>
<path d="M297.1,375.6Q297.8,374.4 299.8,375.5" stroke="#5f819b" stroke-width="0.86"/>
<path d="M295.9,369.9Q296.4,368.9 297.5,368.3" stroke="#4d6f8b" stroke-width="0.65"/>
<path d="M301.7,396.4Q302.7,397.0 304.0,396.0" stroke="#6d8ca4" stroke-width="0.51"/>
<path d="M300.5,383.6Q300.5,382.5 301.8,381.8" stroke="#4d6f8b" stroke-width="0.51"/>
<path d="M303.6,378.6Q304.6,379.1 305.8,378.9" stroke="#8fa9bd" stroke-width="0.76"/>
<path d="M285.6,375.8Q284.4,375.1 285.8,373.1" stroke="#5c7e98" stroke-width="0.73"/>
<path d="M274.2,377.3Q273.5,376.6 272.2,377.6" stroke="#46688a" stroke-width="0.93"/>
<path d="M297.9,398.2Q298.5,399.4 300.4,399.1" stroke="#c9d6e0" stroke-width="0.85"/>
<path d="M275.9,377.1Q275.0,376.7 275.7,375.1" stroke="#5f819b" stroke-width="0.67"/>
<path d="M289.5,399.1Q288.3,399.2 287.8,400.8" stroke="#5f819b" stroke-width="0.91"/>
<path d="M294.5,377.8Q295.2,378.8 296.9,377.5" stroke="#46688a" stroke-width="0.94"/>
<path d="M283.8,377.9Q282.7,377.9 281.9,377.0" stroke="#46688a" stroke-width="0.75"/>
<path d="M299.7,387.4Q299.5,388.8 301.9,389.1" stroke="#4d6f8b" stroke-width="0.90"/>
<path d="M302.0,374.2Q302.5,373.3 303.8,373.3" stroke="#54768f" stroke-width="0.81"/>
<path d="M292.1,376.8Q291.1,376.7 291.4,374.9" stroke="#46688a" stroke-width="0.98"/>
<path d="M285.7,398.5Q286.0,399.7 286.8,400.8" stroke="#54768f" stroke-width="0.54"/>
<path d="M273.4,376.3Q273.3,375.1 271.5,375.0" stroke="#c9d6e0" stroke-width="0.79"/>
<path d="M286.2,402.5Q286.6,403.7 286.8,405.0" stroke="#46688a" stroke-width="0.83"/>
<path d="M293.7,401.7Q293.6,402.9 294.2,404.0" stroke="#8fa9bd" stroke-width="0.91"/>
<path d="M301.6,388.5Q301.8,389.6 303.7,389.1" stroke="#c9d6e0" stroke-width="0.51"/>
<path d="M278.1,400.1Q277.4,400.9 276.6,401.7" stroke="#54768f" stroke-width="0.94"/>
<path d="M290.8,395.8Q290.7,396.8 291.1,397.8" stroke="#5f819b" stroke-width="0.72"/>
<path d="M301.4,391.2Q302.5,391.1 303.0,392.9" stroke="#46688a" stroke-width="0.99"/>
<path d="M280.7,369.7Q279.7,369.1 280.4,367.4" stroke="#46688a" stroke-width="0.81"/>
<path d="M298.9,372.0Q300.1,372.1 301.0,370.8" stroke="#8fa9bd" stroke-width="0.63"/>
<path d="M277.9,374.4Q276.7,374.8 275.9,372.8" stroke="#c9d6e0" stroke-width="0.88"/>
<path d="M276.1,378.5Q274.9,377.8 273.9,376.7" stroke="#54768f" stroke-width="0.94"/>
<path d="M278.1,377.5Q277.6,376.4 276.1,376.2" stroke="#54768f" stroke-width="0.68"/>
<path d="M273.4,383.5Q272.1,383.6 271.5,385.1" stroke="#8fa9bd" stroke-width="0.69"/>
<path d="M284.1,400.3Q284.2,401.6 283.5,402.9" stroke="#46688a" stroke-width="0.54"/>
<path d="M300.1,379.7Q300.6,381.0 302.8,380.0" stroke="#46688a" stroke-width="0.99"/>
<path d="M302.9,374.5Q303.9,374.3 303.8,372.6" stroke="#54768f" stroke-width="0.96"/>
<path d="M290.9,371.1Q291.2,369.8 291.4,368.4" stroke="#c9d6e0" stroke-width="0.69"/>
<path d="M279.0,398.1Q277.9,397.7 276.7,398.3" stroke="#46688a" stroke-width="0.55"/>
<path d="M279.0,395.8Q277.8,395.5 277.0,397.3" stroke="#c9d6e0" stroke-width="0.74"/>
<path d="M274.0,391.8Q272.9,392.6 271.8,393.5" stroke="#5c7e98" stroke-width="0.59"/>
<path d="M281.0,402.8Q281.7,404.0 279.9,405.2" stroke="#54768f" stroke-width="0.84"/>
<path d="M296.6,369.3Q296.0,368.1 297.5,366.7" stroke="#54768f" stroke-width="0.91"/>
<path d="M293.4,403.2Q294.3,403.9 295.4,404.4" stroke="#5c7e98" stroke-width="0.68"/>
<path d="M304.6,385.4Q305.4,385.9 306.5,385.0" stroke="#54768f" stroke-width="0.86"/>
<path d="M271.7,380.1Q271.7,381.3 269.5,381.0" stroke="#4d6f8b" stroke-width="0.60"/>
<path d="M273.5,386.2Q272.5,385.8 271.4,385.7" stroke="#6d8ca4" stroke-width="0.79"/>
<path d="M279.5,391.8Q278.9,392.7 277.4,392.0" stroke="#5c7e98" stroke-width="0.54"/>
<path d="M302.5,381.3Q303.7,381.6 304.7,380.3" stroke="#4d6f8b" stroke-width="0.84"/>
<path d="M278.9,380.7Q278.3,381.6 276.7,380.5" stroke="#5c7e98" stroke-width="0.93"/>
<path d="M298.3,382.7Q298.6,381.7 300.4,382.5" stroke="#46688a" stroke-width="0.95"/>
<path d="M272.8,376.9Q271.6,376.8 271.1,375.3" stroke="#4d6f8b" stroke-width="0.58"/>
<path d="M278.9,380.0Q278.4,379.1 278.2,378.2" stroke="#c9d6e0" stroke-width="0.80"/>
<path d="M302.9,382.4Q303.7,381.2 305.0,380.5" stroke="#46688a" stroke-width="0.71"/>
<path d="M275.5,395.8Q274.9,396.6 273.4,395.7" stroke="#6d8ca4" stroke-width="0.68"/>
<path d="M295.8,403.0Q296.9,403.3 296.5,405.1" stroke="#c9d6e0" stroke-width="0.67"/>
<path d="M278.0,371.1Q278.3,370.0 278.3,368.8" stroke="#c9d6e0" stroke-width="0.60"/>
<path d="M286.2,397.9Q286.0,398.9 285.2,399.7" stroke="#6d8ca4" stroke-width="0.62"/>
<path d="M296.7,394.5Q296.9,395.7 297.3,396.9" stroke="#8fa9bd" stroke-width="0.92"/>
<path d="M292.5,375.4Q293.0,374.3 294.1,373.7" stroke="#46688a" stroke-width="0.65"/>
<path d="M277.0,387.8Q276.6,386.5 274.4,387.3" stroke="#54768f" stroke-width="0.80"/>
<path d="M271.5,392.8Q270.4,393.4 269.4,394.0" stroke="#6d8ca4" stroke-width="0.94"/>
<path d="M299.3,396.3Q300.0,397.4 301.6,397.2" stroke="#c9d6e0" stroke-width="0.51"/>
<path d="M286.5,375.1Q287.1,374.3 286.9,373.1" stroke="#46688a" stroke-width="0.66"/>
<path d="M283.1,376.9Q282.2,376.0 281.4,375.1" stroke="#54768f" stroke-width="0.60"/>
<path d="M286.7,375.7Q286.8,374.6 287.5,373.7" stroke="#5f819b" stroke-width="0.70"/>
<path d="M303.0,376.8Q303.9,375.8 305.7,377.0" stroke="#54768f" stroke-width="0.59"/>
<path d="M277.2,398.7Q276.8,400.0 274.7,399.1" stroke="#8fa9bd" stroke-width="0.62"/>
<path d="M296.3,375.1Q295.3,374.3 296.4,372.5" stroke="#46688a" stroke-width="0.86"/>
<path d="M298.2,388.5Q299.0,387.7 300.3,387.9" stroke="#c9d6e0" stroke-width="0.87"/>
<path d="M273.7,380.9Q272.4,381.2 271.3,379.7" stroke="#8fa9bd" stroke-width="0.86"/>
<path d="M288.3,400.1Q289.5,400.3 288.9,402.6" stroke="#54768f" stroke-width="0.95"/>
<path d="M299.6,375.1Q300.7,375.7 302.2,375.3" stroke="#4d6f8b" stroke-width="0.90"/>
<path d="M293.2,403.4Q293.8,404.6 295.3,404.8" stroke="#c9d6e0" stroke-width="1.00"/>
<path d="M279.7,378.1Q279.7,376.8 277.5,377.0" stroke="#8fa9bd" stroke-width="0.97"/>
<path d="M282.7,370.4Q282.4,369.1 282.4,367.8" stroke="#4d6f8b" stroke-width="0.84"/>
<path d="M293.1,401.5Q292.8,402.9 292.5,404.2" stroke="#46688a" stroke-width="0.52"/>
<path d="M283.7,369.6Q284.5,368.9 283.2,367.4" stroke="#46688a" stroke-width="0.77"/>
<path d="M288.7,396.1Q289.6,396.8 289.1,398.4" stroke="#54768f" stroke-width="0.57"/>
<path d="M283.0,372.6Q281.9,372.2 282.9,370.2" stroke="#8fa9bd" stroke-width="0.57"/>
<path d="M278.3,373.3Q278.2,372.3 277.7,371.3" stroke="#46688a" stroke-width="0.67"/>
<path d="M294.7,372.1Q295.0,370.9 294.3,369.6" stroke="#8fa9bd" stroke-width="0.92"/>
<path d="M278.9,392.6Q278.8,393.9 278.6,395.1" stroke="#4d6f8b" stroke-width="0.53"/>
<path d="M286.4,397.5Q287.4,398.4 286.2,400.1" stroke="#5f819b" stroke-width="0.72"/>
<path d="M277.2,380.6Q276.1,381.2 274.9,381.6" stroke="#8fa9bd" stroke-width="0.54"/>
<path d="M284.9,367.9Q283.9,367.2 283.0,366.4" stroke="#c9d6e0" stroke-width="0.74"/>
<path d="M291.5,373.3Q290.5,372.7 290.3,371.3" stroke="#54768f" stroke-width="0.83"/>
<path d="M303.5,393.9Q304.3,393.4 305.4,394.5" stroke="#5f819b" stroke-width="0.59"/>
<path d="M277.4,372.7Q276.6,371.5 274.7,371.9" stroke="#54768f" stroke-width="0.87"/>
<path d="M283.3,396.3Q283.5,397.6 282.9,398.9" stroke="#5f819b" stroke-width="0.92"/>
<path d="M288.5,396.1Q287.4,396.1 287.4,397.8" stroke="#c9d6e0" stroke-width="0.95"/>
<path d="M302.5,381.0Q302.6,379.8 303.9,379.1" stroke="#5c7e98" stroke-width="0.57"/>
<path d="M290.3,397.0Q289.3,397.8 291.0,399.3" stroke="#8fa9bd" stroke-width="0.74"/>
<path d="M291.4,399.3Q290.7,400.0 291.4,401.3" stroke="#c9d6e0" stroke-width="0.57"/>
<path d="M297.7,390.4Q299.0,390.5 298.8,392.7" stroke="#4d6f8b" stroke-width="0.83"/>
<path d="M296.9,370.1Q296.9,369.0 297.2,368.0" stroke="#5f819b" stroke-width="0.78"/>
<path d="M273.9,388.9Q272.7,389.2 271.6,389.7" stroke="#6d8ca4" stroke-width="0.99"/>
<path d="M304.0,382.3Q305.1,381.5 305.3,380.0" stroke="#54768f" stroke-width="0.78"/>
<path d="M276.8,392.4Q275.6,392.8 275.8,394.7" stroke="#4d6f8b" stroke-width="0.92"/>
<path d="M291.6,402.4Q292.3,403.5 293.4,404.2" stroke="#c9d6e0" stroke-width="0.68"/>
<path d="M289.6,400.2Q289.0,401.1 290.7,402.0" stroke="#46688a" stroke-width="0.77"/>
<path d="M302.1,397.4Q303.2,397.5 304.3,397.4" stroke="#54768f" stroke-width="0.85"/>
<path d="M290.8,400.2Q289.9,401.1 290.3,402.6" stroke="#5c7e98" stroke-width="0.93"/>
<path d="M281.3,370.5Q280.9,369.5 280.5,368.6" stroke="#5c7e98" stroke-width="0.81"/>
<path d="M303.1,382.3Q304.2,382.6 305.4,382.5" stroke="#46688a" stroke-width="0.78"/>
<path d="M290.4,375.1Q289.2,374.7 288.9,373.0" stroke="#5f819b" stroke-width="0.52"/>
<path d="M283.3,368.5Q282.1,368.9 281.3,367.2" stroke="#5c7e98" stroke-width="0.81"/>
<path d="M299.3,375.0Q300.1,373.9 302.0,374.7" stroke="#5f819b" stroke-width="0.90"/>
<path d="M287.9,376.6Q287.3,375.6 286.7,374.7" stroke="#5f819b" stroke-width="0.86"/>
<path d="M303.7,390.2Q304.2,391.1 305.7,390.9" stroke="#5c7e98" stroke-width="0.52"/>
<path d="M299.0,379.5Q299.3,378.3 301.3,379.0" stroke="#8fa9bd" stroke-width="0.56"/>
<path d="M299.3,387.4Q300.6,387.0 301.7,386.3" stroke="#54768f" stroke-width="0.94"/>
<path d="M280.3,370.8Q280.6,369.6 278.2,369.3" stroke="#54768f" stroke-width="0.97"/>
<path d="M301.9,387.1Q302.5,388.0 304.0,387.3" stroke="#4d6f8b" stroke-width="0.54"/>
<path d="M277.1,375.1Q278.1,374.3 276.6,372.6" stroke="#8fa9bd" stroke-width="0.70"/>
<path d="M299.6,374.8Q299.4,373.8 300.6,373.0" stroke="#6d8ca4" stroke-width="0.79"/>
<path d="M299.7,389.1Q300.8,389.5 301.9,389.6" stroke="#c9d6e0" stroke-width="0.97"/>
<path d="M283.5,398.1Q284.3,399.0 283.7,400.5" stroke="#4d6f8b" stroke-width="0.82"/>
<path d="M287.1,375.0Q287.4,373.9 285.2,373.6" stroke="#5f819b" stroke-width="0.78"/>
<path d="M270.7,382.8Q269.5,383.5 268.5,384.5" stroke="#5c7e98" stroke-width="0.94"/>
<path d="M291.1,370.3Q290.4,369.3 290.9,367.9" stroke="#46688a" stroke-width="0.94"/>
<path d="M303.7,379.9Q304.6,380.6 306.0,380.1" stroke="#46688a" stroke-width="0.68"/>
<path d="M275.5,381.7Q274.6,382.1 273.5,381.6" stroke="#8fa9bd" stroke-width="0.75"/>
<path d="M302.3,375.4Q301.7,374.1 303.0,372.7" stroke="#8fa9bd" stroke-width="0.70"/>
<path d="M275.2,396.3Q274.9,397.6 272.8,397.6" stroke="#54768f" stroke-width="0.63"/>
<path d="M274.3,379.0Q273.6,380.2 271.6,379.9" stroke="#5c7e98" stroke-width="0.79"/>
<path d="M284.2,398.6Q283.1,398.5 282.0,399.5" stroke="#5c7e98" stroke-width="0.92"/>
<path d="M283.9,396.4Q282.6,397.0 282.5,398.8" stroke="#54768f" stroke-width="0.62"/>
<path d="M298.6,387.3Q299.7,387.6 300.2,389.0" stroke="#5c7e98" stroke-width="0.60"/>
<path d="M286.8,367.8Q286.7,366.5 285.0,366.1" stroke="#5f819b" stroke-width="0.86"/>
<path d="M301.2,386.4Q301.6,385.2 302.9,384.5" stroke="#4d6f8b" stroke-width="0.61"/>
<path d="M280.9,400.8Q280.1,401.8 280.2,403.2" stroke="#5f819b" stroke-width="0.59"/>
<path d="M299.9,373.0Q300.9,373.0 301.5,371.8" stroke="#c9d6e0" stroke-width="0.63"/>
<path d="M279.5,388.2Q278.8,387.0 276.7,388.5" stroke="#4d6f8b" stroke-width="0.71"/>
<path d="M284.4,369.1Q283.4,369.4 282.5,368.2" stroke="#5c7e98" stroke-width="0.68"/>
<path d="M280.1,396.1Q279.5,397.2 277.7,396.7" stroke="#5f819b" stroke-width="0.62"/>
<path d="M276.0,374.3Q274.9,374.0 273.7,374.5" stroke="#8fa9bd" stroke-width="0.78"/>
<path d="M279.1,397.4Q278.6,398.5 278.5,399.6" stroke="#5c7e98" stroke-width="0.83"/>
<path d="M290.7,372.7Q291.1,371.4 289.8,370.1" stroke="#5c7e98" stroke-width="0.97"/>
<path d="M281.0,378.3Q280.3,377.4 278.6,377.7" stroke="#54768f" stroke-width="0.97"/>
<path d="M281.3,394.4Q280.4,393.8 279.3,395.2" stroke="#6d8ca4" stroke-width="0.76"/>
<path d="M279.0,399.3Q278.3,400.2 276.7,399.9" stroke="#5f819b" stroke-width="0.95"/>
<path d="M279.6,393.6Q279.1,394.8 279.5,396.3" stroke="#4d6f8b" stroke-width="0.53"/>
<path d="M280.3,375.1Q279.0,374.7 277.6,374.7" stroke="#c9d6e0" stroke-width="0.95"/>
<path d="M277.3,397.3Q278.6,397.8 277.5,400.0" stroke="#c9d6e0" stroke-width="0.62"/>
<path d="M280.7,396.4Q279.7,396.8 280.1,398.6" stroke="#8fa9bd" stroke-width="0.61"/>
<path d="M278.5,381.2Q277.3,380.5 277.3,378.8" stroke="#6d8ca4" stroke-width="0.91"/>
<path d="M286.0,398.9Q285.9,400.0 284.1,400.3" stroke="#8fa9bd" stroke-width="0.61"/>
<path d="M304.8,391.5Q306.1,391.0 306.8,393.3" stroke="#8fa9bd" stroke-width="0.59"/>
<path d="M300.9,372.0Q299.9,371.5 300.6,369.8" stroke="#4d6f8b" stroke-width="0.57"/>
<path d="M283.9,399.9Q283.2,400.8 282.3,401.5" stroke="#c9d6e0" stroke-width="0.55"/>
<path d="M279.1,401.2Q278.2,400.3 276.6,402.1" stroke="#4d6f8b" stroke-width="0.79"/>
<path d="M293.4,401.1Q294.1,401.8 295.1,402.2" stroke="#c9d6e0" stroke-width="0.85"/>
<path d="M287.4,376.1Q286.1,376.5 285.2,374.5" stroke="#8fa9bd" stroke-width="0.99"/>
<path d="M279.5,384.5Q278.6,383.9 277.4,384.0" stroke="#5c7e98" stroke-width="0.76"/>
<path d="M298.5,370.5Q299.3,371.2 300.5,370.2" stroke="#46688a" stroke-width="0.87"/>
<path d="M287.0,397.4Q288.1,397.2 288.4,399.2" stroke="#4d6f8b" stroke-width="0.70"/>
<path d="M276.1,381.3Q275.6,380.4 274.6,380.0" stroke="#54768f" stroke-width="0.77"/>
<path d="M281.9,368.8Q281.6,367.5 282.0,366.1" stroke="#5f819b" stroke-width="0.77"/>
<path d="M280.4,393.5Q279.4,392.7 277.8,393.6" stroke="#4d6f8b" stroke-width="0.62"/>
<path d="M270.2,385.9Q270.2,384.6 267.8,384.8" stroke="#46688a" stroke-width="0.83"/>
<path d="M302.2,394.2Q302.9,394.8 303.4,395.8" stroke="#5f819b" stroke-width="0.84"/>
<path d="M273.6,391.7Q272.5,392.0 271.3,392.2" stroke="#8fa9bd" stroke-width="0.76"/>
<path d="M273.2,375.8Q273.0,374.8 271.7,374.2" stroke="#c9d6e0" stroke-width="0.68"/>
<path d="M305.7,393.2Q305.8,394.3 307.4,394.6" stroke="#5c7e98" stroke-width="0.81"/>
<path d="M277.1,382.8Q276.3,381.9 274.7,383.2" stroke="#8fa9bd" stroke-width="0.93"/>
<path d="M279.8,398.6Q279.2,399.7 277.3,398.8" stroke="#5f819b" stroke-width="0.76"/>
<path d="M271.7,383.0Q270.7,382.7 269.7,383.9" stroke="#8fa9bd" stroke-width="0.59"/>
<path d="M305.3,380.3Q306.6,380.3 307.6,381.3" stroke="#5f819b" stroke-width="0.92"/>
<path d="M293.2,376.1Q292.3,375.5 293.1,374.0" stroke="#5f819b" stroke-width="0.83"/>
<path d="M276.0,384.2Q275.1,385.1 273.5,384.8" stroke="#8fa9bd" stroke-width="0.85"/>
<path d="M274.9,390.5Q273.9,391.4 272.3,390.2" stroke="#6d8ca4" stroke-width="0.68"/>
<path d="M276.6,384.4Q275.6,384.9 274.4,384.8" stroke="#4d6f8b" stroke-width="0.78"/>
<path d="M301.1,386.1Q302.3,385.8 303.4,385.2" stroke="#5f819b" stroke-width="0.63"/>
<path d="M287.3,400.1Q288.3,400.8 287.1,402.5" stroke="#6d8ca4" stroke-width="0.71"/>
<path d="M292.8,370.8Q292.1,370.0 291.6,368.9" stroke="#5f819b" stroke-width="0.52"/>
<path d="M289.1,367.6Q288.6,366.5 289.6,365.3" stroke="#46688a" stroke-width="0.69"/>
<path d="M272.8,377.4Q273.1,376.4 272.3,375.3" stroke="#5f819b" stroke-width="0.53"/>
<path d="M293.8,402.8Q294.4,403.7 294.6,404.7" stroke="#c9d6e0" stroke-width="0.75"/>
<path d="M302.4,376.2Q303.3,375.7 304.2,375.3" stroke="#8fa9bd" stroke-width="0.85"/>
<path d="M271.6,393.3Q271.5,394.3 270.8,395.2" stroke="#6d8ca4" stroke-width="0.76"/>
<path d="M296.0,371.6Q295.1,370.7 296.7,369.1" stroke="#54768f" stroke-width="0.78"/>
<path d="M290.7,369.2Q289.7,369.0 290.0,367.3" stroke="#4d6f8b" stroke-width="0.55"/>
<path d="M303.0,394.8Q304.2,395.1 305.4,394.2" stroke="#5f819b" stroke-width="0.74"/>
<path d="M304.0,391.5Q303.9,392.7 306.1,392.6" stroke="#4d6f8b" stroke-width="0.94"/>
<path d="M296.7,396.4Q297.2,397.6 299.1,396.5" stroke="#54768f" stroke-width="0.76"/>
<path d="M300.4,393.1Q301.6,393.0 302.9,393.5" stroke="#c9d6e0" stroke-width="0.84"/>
<path d="M284.4,397.5Q284.0,398.6 283.9,399.7" stroke="#54768f" stroke-width="0.60"/>
<path d="M302.9,390.8Q304.0,391.1 305.1,391.4" stroke="#6d8ca4" stroke-width="0.68"/>
<path d="M292.4,374.8Q291.6,373.8 293.6,372.3" stroke="#5f819b" stroke-width="0.50"/>
<path d="M305.3,393.5Q306.0,392.4 307.8,392.5" stroke="#8fa9bd" stroke-width="0.65"/>
<path d="M284.5,369.4Q285.3,368.4 283.7,367.0" stroke="#8fa9bd" stroke-width="0.60"/>
<path d="M292.0,397.0Q293.3,396.7 294.3,398.6" stroke="#5c7e98" stroke-width="0.91"/>
<path d="M279.2,386.2Q278.0,386.7 276.8,385.1" stroke="#46688a" stroke-width="0.84"/>
<path d="M282.9,374.6Q282.2,373.8 283.2,372.5" stroke="#46688a" stroke-width="0.76"/>
<path d="M277.2,388.5Q277.3,389.6 276.1,390.3" stroke="#54768f" stroke-width="0.85"/>
<path d="M275.6,391.0Q274.4,391.6 273.1,389.9" stroke="#6d8ca4" stroke-width="0.92"/>
<path d="M285.4,397.7Q285.3,398.9 285.5,400.1" stroke="#6d8ca4" stroke-width="0.65"/>
<path d="M287.9,401.1Q286.9,401.5 286.3,402.5" stroke="#46688a" stroke-width="0.70"/>
<path d="M302.0,388.8Q303.2,388.6 304.4,388.1" stroke="#5c7e98" stroke-width="0.60"/>
<path d="M295.6,395.3Q296.6,394.9 297.2,396.9" stroke="#5f819b" stroke-width="0.56"/>
<path d="M305.2,377.4Q306.0,376.3 307.7,376.2" stroke="#5f819b" stroke-width="0.51"/>
<path d="M292.2,368.5Q291.2,367.7 291.3,366.0" stroke="#54768f" stroke-width="0.80"/>
<path d="M278.6,383.4Q277.8,382.6 276.5,383.7" stroke="#46688a" stroke-width="0.79"/>
<path d="M284.0,400.6Q285.0,400.9 285.1,402.4" stroke="#6d8ca4" stroke-width="0.83"/>
<path d="M301.2,390.1Q302.3,390.6 303.5,389.7" stroke="#6d8ca4" stroke-width="0.55"/>
<path d="M297.2,371.0Q298.3,370.4 298.3,368.7" stroke="#5c7e98" stroke-width="0.89"/>
<path d="M276.9,377.9Q275.9,378.2 275.2,376.7" stroke="#6d8ca4" stroke-width="0.71"/>
<path d="M294.1,377.2Q294.8,376.2 296.2,375.7" stroke="#5c7e98" stroke-width="0.67"/>
<path d="M298.4,371.2Q297.4,370.6 298.3,368.8" stroke="#46688a" stroke-width="0.56"/>
<path d="M273.7,386.4Q273.0,387.2 271.6,386.5" stroke="#4d6f8b" stroke-width="0.75"/>
<path d="M280.8,394.7Q281.6,395.6 280.4,397.0" stroke="#46688a" stroke-width="0.86"/>
<path d="M276.8,383.4Q276.8,384.4 275.0,384.3" stroke="#46688a" stroke-width="0.84"/>
<path d="M290.9,402.6Q291.9,402.5 292.0,404.4" stroke="#c9d6e0" stroke-width="0.81"/>
<path d="M300.5,395.7Q301.5,396.0 301.7,397.5" stroke="#46688a" stroke-width="0.80"/>
<path d="M292.2,369.9Q292.2,368.9 291.7,367.9" stroke="#5c7e98" stroke-width="0.52"/>
<path d="M276.7,375.0Q276.2,373.7 274.3,373.8" stroke="#8fa9bd" stroke-width="0.80"/>
<path d="M294.0,397.9Q295.2,398.6 293.8,400.6" stroke="#46688a" stroke-width="0.57"/>
<path d="M277.3,385.2Q276.0,385.4 275.1,383.8" stroke="#46688a" stroke-width="0.84"/>
<path d="M286.1,376.2Q285.4,375.4 286.9,374.3" stroke="#5f819b" stroke-width="0.95"/>
<path d="M288.8,370.1Q289.8,369.6 289.3,368.0" stroke="#c9d6e0" stroke-width="0.55"/>
<path d="M286.0,373.0Q286.9,372.4 287.3,371.3" stroke="#8fa9bd" stroke-width="0.57"/>
<path d="M297.3,370.0Q298.6,370.2 299.5,368.4" stroke="#6d8ca4" stroke-width="0.72"/>
<path d="M296.4,370.8Q297.7,370.4 296.7,368.2" stroke="#5c7e98" stroke-width="0.53"/>
<path d="M292.3,369.2Q292.5,367.9 294.2,367.5" stroke="#8fa9bd" stroke-width="0.78"/>
<path d="M299.7,375.3Q300.3,374.1 302.5,375.1" stroke="#c9d6e0" stroke-width="0.90"/>
<path d="M281.3,369.4Q279.9,369.4 279.8,367.2" stroke="#5f819b" stroke-width="0.83"/>
<path d="M300.3,378.0Q301.1,377.3 301.6,376.2" stroke="#5c7e98" stroke-width="0.94"/>
<path d="M275.0,388.1Q274.1,388.8 273.4,389.7" stroke="#5c7e98" stroke-width="0.68"/>
<path d="M297.5,373.0Q296.8,372.1 297.2,370.8" stroke="#8fa9bd" stroke-width="0.70"/>
<path d="M276.8,383.1Q275.8,382.9 274.9,382.1" stroke="#6d8ca4" stroke-width="0.69"/>
<path d="M283.1,395.7Q282.2,396.3 282.6,397.8" stroke="#c9d6e0" stroke-width="0.65"/>
<path d="M281.3,402.1Q280.0,402.2 279.8,404.2" stroke="#6d8ca4" stroke-width="0.70"/>
<path d="M306.2,387.0Q307.2,386.7 308.1,386.2" stroke="#54768f" stroke-width="0.87"/>
<path d="M280.4,369.5Q280.9,368.3 280.4,366.9" stroke="#6d8ca4" stroke-width="0.96"/>
<path d="M301.4,376.0Q302.2,375.5 303.2,375.1" stroke="#54768f" stroke-width="0.68"/>
<path d="M280.3,372.6Q280.2,371.4 279.2,370.6" stroke="#8fa9bd" stroke-width="0.75"/>
<path d="M285.3,377.1Q284.5,376.0 286.2,374.5" stroke="#c9d6e0" stroke-width="0.72"/>
<path d="M288.8,368.2Q288.0,367.2 290.0,365.9" stroke="#5f819b" stroke-width="0.74"/>
<path d="M306.8,386.8Q307.8,387.3 308.8,385.7" stroke="#4d6f8b" stroke-width="1.00"/>
<path d="M295.8,399.7Q296.9,400.6 296.5,402.4" stroke="#4d6f8b" stroke-width="0.71"/>
<path d="M304.5,383.8Q305.8,383.7 307.1,384.3" stroke="#5f819b" stroke-width="0.85"/>
<path d="M286.8,397.2Q285.5,397.3 285.1,399.0" stroke="#5f819b" stroke-width="0.95"/>
<path d="M293.9,402.4Q294.5,403.2 295.2,404.0" stroke="#54768f" stroke-width="0.95"/>
<path d="M273.0,376.4Q272.0,375.5 270.5,375.6" stroke="#54768f" stroke-width="0.65"/>
<path d="M299.7,381.9Q299.9,380.8 301.7,380.9" stroke="#54768f" stroke-width="0.68"/>
<path d="M281.5,401.5Q280.6,402.3 282.1,403.8" stroke="#8fa9bd" stroke-width="0.75"/>
<path d="M279.2,392.2Q279.7,393.4 278.7,394.8" stroke="#8fa9bd" stroke-width="0.83"/>
<path d="M296.7,374.7Q297.6,374.0 297.6,372.8" stroke="#c9d6e0" stroke-width="0.76"/>
<path d="M284.9,401.4Q285.3,402.4 283.5,403.0" stroke="#54768f" stroke-width="0.68"/>
<path d="M300.3,381.4Q300.8,380.5 301.2,379.4" stroke="#c9d6e0" stroke-width="0.92"/>
<path d="M284.4,368.4Q284.1,367.4 282.8,367.0" stroke="#5c7e98" stroke-width="0.89"/>
<path d="M274.4,397.2Q273.9,398.4 272.9,399.3" stroke="#5f819b" stroke-width="0.67"/>
<path d="M295.6,402.3Q295.6,403.5 296.5,404.5" stroke="#54768f" stroke-width="0.57"/>
<path d="M283.3,394.6Q282.2,394.8 282.1,396.6" stroke="#46688a" stroke-width="0.79"/>
<path d="M276.1,394.7Q275.2,394.0 273.9,394.7" stroke="#6d8ca4" stroke-width="0.58"/>
<path d="M280.8,371.2Q281.9,370.7 281.3,368.9" stroke="#c9d6e0" stroke-width="0.94"/>
<path d="M299.8,398.0Q301.0,398.6 301.2,400.2" stroke="#5c7e98" stroke-width="0.89"/>
<path d="M277.0,376.9Q276.3,376.0 276.6,374.5" stroke="#5f819b" stroke-width="0.84"/>
<path d="M305.7,383.3Q306.4,382.5 307.9,383.8" stroke="#5f819b" stroke-width="0.61"/>
<path d="M272.4,390.4Q271.7,389.5 270.1,391.0" stroke="#4d6f8b" stroke-width="0.52"/>
<path d="M293.7,376.5Q294.1,375.5 295.2,374.9" stroke="#5f819b" stroke-width="0.77"/>
<path d="M290.6,401.1Q289.8,402.2 291.9,403.4" stroke="#4d6f8b" stroke-width="0.61"/>
<path d="M296.7,401.3Q296.3,402.3 298.2,402.9" stroke="#54768f" stroke-width="0.86"/>
<path d="M276.8,379.0Q275.6,378.9 275.0,377.4" stroke="#4d6f8b" stroke-width="0.90"/>
<path d="M301.4,382.8Q302.1,381.6 302.9,380.5" stroke="#6d8ca4" stroke-width="0.72"/>
<path d="M306.1,382.6Q307.2,382.0 307.9,380.9" stroke="#5c7e98" stroke-width="0.70"/>
<path d="M286.3,397.5Q286.2,398.7 285.7,400.0" stroke="#46688a" stroke-width="0.90"/>
<path d="M288.0,369.1Q289.0,368.7 288.8,367.1" stroke="#54768f" stroke-width="0.87"/>
<path d="M305.8,380.2Q306.5,379.2 308.4,380.4" stroke="#46688a" stroke-width="0.71"/>
<path d="M296.8,372.3Q297.7,371.4 298.3,370.2" stroke="#6d8ca4" stroke-width="0.78"/>
<path d="M283.3,398.2Q282.3,398.5 281.8,399.6" stroke="#c9d6e0" stroke-width="0.95"/>
<path d="M293.5,372.5Q292.5,372.1 292.8,370.6" stroke="#8fa9bd" stroke-width="0.74"/>
<path d="M300.2,392.6Q299.3,393.3 300.9,394.7" stroke="#5c7e98" stroke-width="0.76"/>
<path d="M288.6,399.7Q287.5,400.0 287.9,401.9" stroke="#46688a" stroke-width="0.86"/>
<path d="M306.1,379.8Q307.2,379.5 308.4,380.0" stroke="#c9d6e0" stroke-width="0.57"/>
<path d="M300.6,387.0Q300.9,385.8 303.0,386.6" stroke="#5c7e98" stroke-width="0.73"/>
<path d="M305.9,390.8Q306.6,389.8 308.0,389.6" stroke="#8fa9bd" stroke-width="0.74"/>
<path d="M281.1,376.9Q280.9,375.8 281.2,374.7" stroke="#5c7e98" stroke-width="0.55"/>
<path d="M301.8,373.3Q302.9,373.8 303.7,371.9" stroke="#8fa9bd" stroke-width="0.88"/>
<path d="M273.8,378.9Q272.4,378.7 271.1,379.4" stroke="#46688a" stroke-width="0.86"/>
<path d="M271.3,389.4Q270.5,390.3 269.7,391.3" stroke="#c9d6e0" stroke-width="0.53"/>
<path d="M290.0,404.5Q289.6,405.5 290.6,406.6" stroke="#46688a" stroke-width="0.82"/>
<path d="M288.2,376.2Q289.2,376.2 289.7,374.8" stroke="#4d6f8b" stroke-width="0.73"/>
<path d="M273.9,396.5Q273.4,397.8 271.1,396.8" stroke="#c9d6e0" stroke-width="0.63"/>
<path d="M294.1,393.8Q294.4,395.1 296.7,394.5" stroke="#5c7e98" stroke-width="0.59"/>
<path d="M292.7,375.4Q293.1,374.2 291.9,373.1" stroke="#c9d6e0" stroke-width="0.96"/>
<path d="M306.2,386.2Q307.2,386.9 308.3,387.6" stroke="#5c7e98" stroke-width="0.85"/>
<path d="M280.4,372.7Q280.3,371.5 279.8,370.4" stroke="#46688a" stroke-width="0.51"/>
<path d="M297.0,370.9Q297.2,369.7 296.5,368.6" stroke="#46688a" stroke-width="0.84"/>
<path d="M304.3,384.4Q305.3,384.7 306.3,384.2" stroke="#5c7e98" stroke-width="0.87"/>
<path d="M299.0,371.8Q298.9,370.8 299.8,369.9" stroke="#54768f" stroke-width="0.57"/>
<path d="M274.2,374.6Q273.8,375.8 271.7,375.1" stroke="#5c7e98" stroke-width="0.84"/>
<path d="M290.0,374.2Q291.0,374.6 291.9,372.9" stroke="#46688a" stroke-width="0.96"/>
<path d="M286.8,369.0Q288.0,368.3 288.1,366.6" stroke="#4d6f8b" stroke-width="0.84"/>
<path d="M300.6,399.5Q301.8,399.9 303.2,399.6" stroke="#54768f" stroke-width="0.72"/>
<path d="M285.4,374.1Q284.4,373.5 284.2,372.2" stroke="#5c7e98" stroke-width="0.58"/>
<path d="M298.2,401.6Q298.6,402.8 299.6,403.7" stroke="#5f819b" stroke-width="0.64"/>
<path d="M288.7,399.9Q288.3,400.8 289.7,401.7" stroke="#5f819b" stroke-width="0.50"/>
<path d="M290.3,373.9Q289.2,373.8 289.0,372.1" stroke="#4d6f8b" stroke-width="0.91"/>
<path d="M282.6,400.5Q281.4,400.5 281.5,402.6" stroke="#6d8ca4" stroke-width="0.61"/>
<path d="M303.9,391.3Q303.3,392.2 304.9,393.2" stroke="#5c7e98" stroke-width="0.82"/>
<path d="M292.0,402.5Q292.0,403.8 291.6,405.1" stroke="#5c7e98" stroke-width="0.99"/>
<path d="M295.0,398.7Q294.4,399.8 295.3,401.2" stroke="#c9d6e0" stroke-width="0.62"/>
<path d="M288.3,395.7Q289.4,396.3 289.4,397.9" stroke="#6d8ca4" stroke-width="0.83"/>
<path d="M275.4,376.6Q275.0,377.6 273.1,377.0" stroke="#4d6f8b" stroke-width="0.54"/>
<path d="M302.3,392.9Q303.2,393.7 304.2,394.6" stroke="#54768f" stroke-width="0.96"/>
<path d="M271.7,391.5Q270.6,391.6 269.8,392.6" stroke="#6d8ca4" stroke-width="0.72"/>
<path d="M287.3,375.6Q287.8,374.3 286.1,373.1" stroke="#4d6f8b" stroke-width="0.69"/>
<path d="M291.0,375.6Q290.5,374.6 290.9,373.4" stroke="#4d6f8b" stroke-width="0.92"/>
<path d="M298.1,390.6Q299.4,391.0 300.0,392.4" stroke="#54768f" stroke-width="0.59"/>
<path d="M295.2,394.3Q295.9,395.5 297.4,396.1" stroke="#46688a" stroke-width="0.53"/>
<path d="M285.1,398.0Q284.2,399.0 282.7,399.3" stroke="#6d8ca4" stroke-width="0.57"/>
<path d="M291.6,374.0Q290.9,373.1 292.2,371.8" stroke="#46688a" stroke-width="0.95"/>
<path d="M297.2,400.5Q298.4,401.3 299.9,401.1" stroke="#46688a" stroke-width="0.88"/>
<path d="M296.1,376.3Q295.0,375.5 296.7,373.6" stroke="#5c7e98" stroke-width="0.83"/>
<path d="M295.0,375.6Q294.5,374.7 295.8,373.8" stroke="#8fa9bd" stroke-width="0.78"/>
<path d="M274.9,386.7Q275.0,385.5 273.1,385.1" stroke="#c9d6e0" stroke-width="0.72"/>
<path d="M296.2,392.9Q296.0,394.0 298.0,394.4" stroke="#4d6f8b" stroke-width="0.54"/>
<path d="M291.6,402.5Q290.4,402.4 290.4,404.6" stroke="#c9d6e0" stroke-width="0.56"/>
<path d="M302.7,380.8Q303.8,380.8 304.0,379.1" stroke="#46688a" stroke-width="0.55"/>
<path d="M274.4,388.0Q273.2,388.7 271.9,387.0" stroke="#8fa9bd" stroke-width="0.82"/>
<path d="M299.0,393.3Q300.3,393.7 301.6,392.9" stroke="#8fa9bd" stroke-width="0.74"/>
<path d="M292.7,394.6Q294.0,394.6 293.7,396.9" stroke="#8fa9bd" stroke-width="0.84"/>
<path d="M304.3,389.2Q305.6,388.7 306.6,390.5" stroke="#5f819b" stroke-width="0.57"/>
<path d="M294.7,368.8Q295.5,367.8 296.9,367.4" stroke="#6d8ca4" stroke-width="0.85"/>
<path d="M303.0,387.4Q303.8,388.4 305.5,387.4" stroke="#54768f" stroke-width="0.72"/>
<path d="M296.1,395.0Q295.5,396.1 297.4,397.2" stroke="#c9d6e0" stroke-width="0.51"/>
<path d="M295.5,397.6Q296.7,397.5 297.8,398.2" stroke="#8fa9bd" stroke-width="0.84"/>
<path d="M292.9,403.4Q293.6,404.2 293.5,405.5" stroke="#8fa9bd" stroke-width="0.64"/>
<path d="M305.3,383.4Q305.9,382.5 306.8,382.0" stroke="#4d6f8b" stroke-width="0.78"/>
<path d="M290.2,373.9Q290.6,372.6 289.0,371.6" stroke="#8fa9bd" stroke-width="0.74"/>
<path d="M275.6,382.0Q274.6,382.1 273.6,381.1" stroke="#c9d6e0" stroke-width="0.57"/>
<path d="M298.4,397.3Q299.5,397.9 298.4,399.8" stroke="#46688a" stroke-width="0.71"/>
<path d="M303.8,394.4Q305.1,394.7 306.5,394.5" stroke="#46688a" stroke-width="0.93"/>
<path d="M300.7,382.7Q300.8,381.3 303.2,381.5" stroke="#5c7e98" stroke-width="0.98"/>
<path d="M297.1,380.2Q296.5,379.0 298.1,377.8" stroke="#5c7e98" stroke-width="0.76"/>
<path d="M298.7,372.0Q298.4,370.8 300.2,370.0" stroke="#46688a" stroke-width="0.75"/>
<path d="M272.8,382.9Q271.7,382.5 270.5,382.4" stroke="#c9d6e0" stroke-width="0.54"/>
<path d="M300.9,376.8Q301.6,376.0 303.0,376.2" stroke="#46688a" stroke-width="0.71"/>
<path d="M300.6,382.6Q301.4,381.5 303.3,382.9" stroke="#8fa9bd" stroke-width="0.61"/>
<path d="M280.2,401.9Q279.3,402.7 279.7,404.2" stroke="#6d8ca4" stroke-width="0.73"/>
<path d="M280.4,402.4Q279.4,403.3 281.2,405.1" stroke="#c9d6e0" stroke-width="0.70"/>
<path d="M299.9,398.5Q300.5,399.4 300.7,400.6" stroke="#8fa9bd" stroke-width="0.88"/>
<path d="M297.1,394.6Q297.9,393.9 299.1,395.4" stroke="#6d8ca4" stroke-width="0.94"/>
<path d="M276.8,375.4Q275.7,375.1 274.9,374.0" stroke="#5f819b" stroke-width="0.67"/>
<path d="M289.4,373.1Q290.4,372.2 290.4,370.6" stroke="#6d8ca4" stroke-width="0.70"/>
<path d="M300.4,396.6Q301.5,396.7 301.9,398.3" stroke="#46688a" stroke-width="0.85"/>
<path d="M300.2,383.5Q300.7,382.3 302.4,382.1" stroke="#5c7e98" stroke-width="0.80"/>
<path d="M299.1,371.7Q298.0,371.1 299.3,369.2" stroke="#c9d6e0" stroke-width="0.86"/>
<path d="M287.3,396.1Q287.2,397.1 288.1,397.9" stroke="#4d6f8b" stroke-width="0.59"/>
<path d="M296.9,401.9Q298.0,401.3 299.0,403.5" stroke="#5c7e98" stroke-width="0.97"/>
<path d="M299.7,383.9Q300.6,383.3 301.9,383.6" stroke="#c9d6e0" stroke-width="0.87"/>
<path d="M298.0,376.7Q297.7,375.3 298.9,374.1" stroke="#5c7e98" stroke-width="0.81"/>
<path d="M284.6,374.3Q284.2,373.0 284.8,371.6" stroke="#8fa9bd" stroke-width="0.57"/>
<path d="M274.1,374.6Q274.5,373.4 272.9,372.3" stroke="#c9d6e0" stroke-width="0.69"/>
<path d="M286.2,374.2Q285.4,373.1 287.1,371.7" stroke="#6d8ca4" stroke-width="0.60"/>
<path d="M284.2,369.4Q282.9,369.6 282.4,367.5" stroke="#8fa9bd" stroke-width="0.78"/>
<path d="M296.2,394.9Q297.3,395.5 298.7,395.3" stroke="#46688a" stroke-width="0.88"/>
<path d="M273.8,385.9Q273.7,387.0 272.2,387.5" stroke="#4d6f8b" stroke-width="0.61"/>
<path d="M284.7,401.4Q283.4,401.6 283.5,403.7" stroke="#46688a" stroke-width="0.99"/>
<path d="M306.6,385.5Q307.2,384.6 308.0,383.9" stroke="#5f819b" stroke-width="0.91"/>
<path d="M284.8,368.1Q283.7,367.4 283.5,365.9" stroke="#54768f" stroke-width="0.53"/>
<path d="M280.6,379.4Q279.6,379.5 279.1,378.0" stroke="#46688a" stroke-width="0.73"/>
<path d="M292.2,396.3Q292.9,397.2 292.9,398.6" stroke="#8fa9bd" stroke-width="0.76"/>
<path d="M290.4,375.5Q290.3,374.4 290.3,373.4" stroke="#54768f" stroke-width="0.90"/>
<path d="M274.5,384.8Q273.5,383.9 272.8,382.7" stroke="#5f819b" stroke-width="0.77"/>
<path d="M291.8,369.7Q291.8,368.6 290.5,367.9" stroke="#5c7e98" stroke-width="0.82"/>
<path d="M286.9,395.6Q286.9,397.0 284.7,397.3" stroke="#8fa9bd" stroke-width="0.84"/>
<path d="M304.3,389.5Q305.7,389.7 306.7,390.8" stroke="#5c7e98" stroke-width="0.57"/>
<path d="M283.4,370.4Q283.1,369.1 281.0,369.4" stroke="#6d8ca4" stroke-width="0.77"/>
<path d="M284.7,373.7Q284.2,372.4 284.4,371.0" stroke="#46688a" stroke-width="0.59"/>
<path d="M290.0,372.0Q289.0,371.6 288.8,370.1" stroke="#5c7e98" stroke-width="0.55"/>
<path d="M305.7,379.6Q306.2,378.4 307.9,378.3" stroke="#6d8ca4" stroke-width="0.80"/>
<path d="M285.2,400.0Q285.5,401.2 283.6,402.0" stroke="#46688a" stroke-width="0.96"/>
<path d="M271.1,387.0Q270.1,387.7 268.9,385.9" stroke="#8fa9bd" stroke-width="0.91"/>
<path d="M282.5,368.6Q282.3,367.4 280.9,366.7" stroke="#5f819b" stroke-width="0.84"/>
<path d="M283.3,377.5Q282.3,377.4 281.6,376.5" stroke="#54768f" stroke-width="0.80"/>
<path d="M303.4,375.2Q304.3,376.0 305.7,375.2" stroke="#54768f" stroke-width="0.97"/>
<path d="M283.7,400.9Q282.7,401.5 283.8,403.2" stroke="#4d6f8b" stroke-width="0.95"/>
<path d="M275.3,394.4Q274.3,395.3 272.6,394.7" stroke="#4d6f8b" stroke-width="1.00"/>
<path d="M286.4,369.4Q286.1,368.1 284.9,367.1" stroke="#c9d6e0" stroke-width="0.72"/>
<path d="M284.4,397.4Q284.9,398.6 282.8,399.4" stroke="#6d8ca4" stroke-width="0.92"/>
<path d="M296.7,378.4Q298.1,378.5 299.3,377.5" stroke="#4d6f8b" stroke-width="0.90"/>
<path d="M298.8,370.6Q299.4,369.3 300.2,368.2" stroke="#46688a" stroke-width="0.86"/>
<path d="M282.2,393.8Q281.4,393.0 280.1,394.2" stroke="#4d6f8b" stroke-width="0.61"/>
<path d="M297.9,390.4Q299.2,390.1 300.5,390.1" stroke="#c9d6e0" stroke-width="0.66"/>
<path d="M275.3,388.0Q274.3,387.1 273.1,386.7" stroke="#5f819b" stroke-width="0.95"/>
<path d="M287.4,373.1Q286.3,372.3 287.5,370.4" stroke="#5c7e98" stroke-width="0.74"/>
<path d="M273.3,394.9Q273.1,396.1 272.1,397.1" stroke="#5f819b" stroke-width="0.96"/>
<path d="M279.1,371.2Q278.5,370.1 278.0,368.9" stroke="#c9d6e0" stroke-width="0.51"/>
<path d="M301.3,399.6Q302.3,400.1 303.3,400.6" stroke="#5f819b" stroke-width="0.55"/>
<path d="M292.9,371.0Q293.9,370.5 293.0,369.0" stroke="#c9d6e0" stroke-width="0.58"/>
<path d="M282.0,378.2Q282.2,377.0 280.0,377.0" stroke="#6d8ca4" stroke-width="0.75"/>
<path d="M288.8,376.6Q288.7,375.2 289.4,373.9" stroke="#6d8ca4" stroke-width="0.59"/>
<path d="M301.5,377.9Q302.8,377.6 304.1,378.2" stroke="#4d6f8b" stroke-width="0.60"/>
<path d="M303.3,388.2Q302.8,389.4 305.0,390.2" stroke="#8fa9bd" stroke-width="0.97"/>
<path d="M278.4,381.9Q277.4,381.1 276.8,379.9" stroke="#54768f" stroke-width="0.80"/>
<path d="M289.9,397.9Q290.2,399.1 291.9,399.4" stroke="#5f819b" stroke-width="0.95"/>
<path d="M297.3,400.7Q297.6,401.9 299.4,402.0" stroke="#46688a" stroke-width="0.80"/>
<path d="M298.4,379.3Q299.6,379.8 300.8,378.8" stroke="#46688a" stroke-width="0.64"/>
<path d="M298.2,370.6Q299.2,370.3 300.2,370.2" stroke="#5c7e98" stroke-width="0.93"/>
<path d="M300.9,376.9Q300.7,375.7 302.2,375.0" stroke="#46688a" stroke-width="1.00"/>
<path d="M280.0,400.5Q280.8,401.2 280.0,402.7" stroke="#c9d6e0" stroke-width="0.68"/>
<path d="M276.8,391.1Q276.5,392.3 274.6,392.3" stroke="#5f819b" stroke-width="0.56"/>
<path d="M284.7,399.4Q283.6,400.1 282.8,401.3" stroke="#8fa9bd" stroke-width="0.97"/>
<path d="M277.1,388.1Q277.2,389.3 275.5,389.9" stroke="#5c7e98" stroke-width="0.68"/>
<path d="M281.1,392.8Q280.3,393.5 279.1,393.5" stroke="#c9d6e0" stroke-width="0.82"/>
<path d="M271.7,389.8Q270.6,390.2 270.5,391.9" stroke="#8fa9bd" stroke-width="0.68"/>
<path d="M276.4,372.9Q275.2,372.6 274.6,371.4" stroke="#4d6f8b" stroke-width="0.97"/>
<path d="M296.9,396.7Q296.8,398.0 297.3,399.3" stroke="#46688a" stroke-width="0.67"/>
<path d="M302.9,380.9Q302.6,379.7 304.3,379.0" stroke="#4d6f8b" stroke-width="0.81"/>
<path d="M293.6,372.7Q292.9,371.9 294.5,370.7" stroke="#5f819b" stroke-width="0.82"/>
<path d="M275.7,387.9Q274.8,387.1 273.4,387.8" stroke="#54768f" stroke-width="0.51"/>
<path d="M291.9,376.3Q291.1,375.2 293.2,374.0" stroke="#5f819b" stroke-width="0.64"/>
<path d="M270.5,386.6Q270.4,387.7 268.9,388.2" stroke="#6d8ca4" stroke-width="0.57"/>
<path d="M290.1,396.0Q289.3,396.7 289.5,398.1" stroke="#5c7e98" stroke-width="0.97"/>
<path d="M271.6,380.3Q270.9,379.5 270.6,378.5" stroke="#46688a" stroke-width="0.52"/>
<path d="M272.1,386.3Q271.2,385.6 269.8,385.8" stroke="#6d8ca4" stroke-width="0.80"/>
<path d="M298.4,384.6Q298.0,383.6 299.8,383.1" stroke="#6d8ca4" stroke-width="0.56"/>
<path d="M294.8,395.8Q293.8,396.6 295.4,398.2" stroke="#5f819b" stroke-width="0.56"/>
<path d="M296.8,375.8Q297.4,374.8 298.1,373.8" stroke="#4d6f8b" stroke-width="1.00"/>
<path d="M285.6,375.0Q284.5,374.6 283.9,373.6" stroke="#4d6f8b" stroke-width="0.72"/>
<path d="M275.8,373.5Q276.1,372.3 274.1,371.6" stroke="#4d6f8b" stroke-width="0.73"/>
<path d="M300.1,375.4Q301.3,375.6 301.5,373.6" stroke="#4d6f8b" stroke-width="0.96"/>
<path d="M278.4,381.9Q277.5,381.2 276.3,381.5" stroke="#4d6f8b" stroke-width="0.75"/>
<path d="M303.2,378.4Q304.5,378.1 305.9,378.7" stroke="#46688a" stroke-width="0.78"/>
<path d="M286.8,372.3Q288.2,372.4 288.6,370.1" stroke="#6d8ca4" stroke-width="0.66"/>
<path d="M279.8,394.8Q278.5,394.2 277.1,395.4" stroke="#4d6f8b" stroke-width="1.00"/>
<path d="M283.8,374.0Q283.1,372.9 281.9,372.2" stroke="#6d8ca4" stroke-width="0.79"/>
<path d="M271.2,380.8Q270.6,379.6 270.1,378.3" stroke="#4d6f8b" stroke-width="0.57"/>
<path d="M289.8,370.7Q289.8,369.3 290.4,368.0" stroke="#4d6f8b" stroke-width="0.54"/>
<path d="M290.5,375.5Q290.9,374.5 289.4,373.6" stroke="#8fa9bd" stroke-width="0.94"/>
<path d="M292.5,376.3Q291.5,375.7 292.8,374.0" stroke="#54768f" stroke-width="0.61"/>
<path d="M281.6,375.6Q282.7,375.2 281.9,373.3" stroke="#c9d6e0" stroke-width="0.88"/>
<path d="M283.1,371.1Q282.5,370.1 282.8,368.9" stroke="#8fa9bd" stroke-width="0.98"/>
<path d="M305.4,391.0Q306.7,391.2 308.0,390.8" stroke="#6d8ca4" stroke-width="0.68"/>
<path d="M299.2,371.9Q299.7,370.9 300.5,370.1" stroke="#4d6f8b" stroke-width="0.54"/>
<path d="M299.3,371.7Q299.8,370.8 300.4,370.0" stroke="#5c7e98" stroke-width="0.86"/>
<path d="M278.7,401.1Q278.0,401.9 278.8,403.2" stroke="#5c7e98" stroke-width="0.82"/>
<path d="M295.2,375.5Q295.9,374.6 297.3,374.9" stroke="#46688a" stroke-width="0.63"/>
<path d="M298.9,379.7Q299.9,380.7 301.5,378.8" stroke="#5c7e98" stroke-width="0.82"/>
<path d="M271.5,382.4Q270.5,381.8 269.5,383.6" stroke="#5f819b" stroke-width="0.84"/>
<path d="M288.3,373.9Q289.5,374.0 289.5,371.9" stroke="#54768f" stroke-width="0.58"/>
<path d="M282.6,372.1Q281.5,372.5 280.6,370.9" stroke="#8fa9bd" stroke-width="0.73"/>
<path d="M302.6,379.8Q303.4,380.5 304.5,378.9" stroke="#5f819b" stroke-width="0.58"/>
<path d="M298.9,377.1Q299.9,376.2 301.6,377.6" stroke="#54768f" stroke-width="0.98"/>
<path d="M277.4,396.0Q278.1,396.8 277.4,398.2" stroke="#5c7e98" stroke-width="0.98"/>
<path d="M275.7,389.7Q275.0,388.7 273.4,388.5" stroke="#8fa9bd" stroke-width="0.97"/>
<path d="M278.7,374.7Q277.7,373.8 277.6,372.3" stroke="#46688a" stroke-width="0.65"/>
<path d="M300.7,383.6Q299.9,382.5 302.3,381.3" stroke="#5c7e98" stroke-width="0.60"/>
<path d="M277.9,385.5Q277.0,384.5 275.4,384.6" stroke="#5c7e98" stroke-width="1.00"/>
<path d="M281.5,371.2Q280.5,371.0 279.6,370.6" stroke="#54768f" stroke-width="0.66"/>
<path d="M280.1,382.1Q279.9,380.9 279.2,379.9" stroke="#6d8ca4" stroke-width="0.51"/>
<path d="M292.1,397.0Q292.0,398.4 294.3,398.4" stroke="#54768f" stroke-width="0.79"/>
<path d="M287.5,367.7Q288.5,367.0 286.8,365.3" stroke="#4d6f8b" stroke-width="0.53"/>
<path d="M297.6,369.8Q298.0,368.9 299.3,368.6" stroke="#6d8ca4" stroke-width="0.71"/>
<path d="M295.3,379.0Q295.1,378.0 295.2,377.0" stroke="#c9d6e0" stroke-width="0.58"/>
<path d="M286.4,371.0Q286.4,369.9 287.7,369.1" stroke="#6d8ca4" stroke-width="0.58"/>
<path d="M294.9,394.7Q296.2,394.5 297.5,395.5" stroke="#5c7e98" stroke-width="0.78"/>
<path d="M275.8,393.9Q275.8,394.9 275.4,395.8" stroke="#46688a" stroke-width="0.96"/>
<path d="M306.5,386.6Q306.8,387.8 308.5,387.8" stroke="#c9d6e0" stroke-width="0.71"/>
<path d="M278.9,387.5Q277.6,387.9 276.9,385.6" stroke="#46688a" stroke-width="0.96"/>
<path d="M279.5,379.0Q278.6,379.5 277.5,379.2" stroke="#5c7e98" stroke-width="0.67"/>
<path d="M303.5,394.0Q304.1,394.8 304.6,395.7" stroke="#6d8ca4" stroke-width="0.59"/>
<path d="M272.2,393.5Q271.4,392.9 270.3,394.3" stroke="#4d6f8b" stroke-width="0.75"/>
<path d="M305.3,384.9Q305.8,386.1 307.6,386.2" stroke="#54768f" stroke-width="0.75"/>
<path d="M283.3,395.1Q282.2,395.9 281.2,396.7" stroke="#6d8ca4" stroke-width="0.61"/>
<path d="M291.8,398.0Q292.7,398.8 293.4,399.8" stroke="#46688a" stroke-width="0.83"/>
<path d="M299.9,394.2Q301.1,394.1 302.2,394.8" stroke="#46688a" stroke-width="0.63"/>
<path d="M283.0,375.5Q282.6,374.4 282.6,373.2" stroke="#6d8ca4" stroke-width="0.54"/>
<path d="M299.6,390.1Q300.7,390.4 301.5,391.3" stroke="#8fa9bd" stroke-width="0.63"/>
<path d="M303.4,396.5Q304.4,395.9 305.5,397.8" stroke="#8fa9bd" stroke-width="0.56"/>
<path d="M301.6,391.8Q302.1,390.6 303.9,390.7" stroke="#4d6f8b" stroke-width="0.89"/>
<path d="M291.3,376.0Q290.3,375.2 290.7,373.5" stroke="#54768f" stroke-width="0.67"/>
<path d="M284.2,373.3Q284.7,372.1 282.4,371.4" stroke="#8fa9bd" stroke-width="0.59"/>
<path d="M298.9,397.1Q299.2,398.3 301.1,397.9" stroke="#54768f" stroke-width="0.86"/>
<path d="M298.9,395.0Q299.3,393.8 301.4,394.6" stroke="#5f819b" stroke-width="0.54"/>
<path d="M283.4,400.5Q282.3,401.3 281.4,402.4" stroke="#8fa9bd" stroke-width="0.98"/>
<path d="M277.4,371.7Q276.3,371.2 275.1,370.8" stroke="#8fa9bd" stroke-width="0.86"/>
<path d="M298.1,395.5Q297.6,396.7 297.8,398.0" stroke="#6d8ca4" stroke-width="0.75"/>
<path d="M274.7,393.9Q274.1,394.8 272.7,394.8" stroke="#8fa9bd" stroke-width="0.89"/>
<path d="M276.5,384.7Q275.1,384.9 273.8,384.3" stroke="#54768f" stroke-width="0.65"/>
<path d="M293.4,377.5Q294.0,376.6 293.8,375.3" stroke="#8fa9bd" stroke-width="0.93"/>
<path d="M285.1,372.2Q284.9,371.1 284.1,370.4" stroke="#46688a" stroke-width="0.99"/>
<path d="M273.5,392.9Q273.8,393.9 271.8,394.2" stroke="#4d6f8b" stroke-width="0.67"/>
<path d="M276.8,393.6Q276.1,392.5 274.3,393.3" stroke="#54768f" stroke-width="0.90"/>
<path d="M290.4,399.1Q289.5,399.7 289.6,401.0" stroke="#8fa9bd" stroke-width="0.55"/>
<path d="M294.5,402.9Q295.5,403.1 296.2,404.0" stroke="#c9d6e0" stroke-width="0.93"/>
<path d="M275.7,391.2Q274.6,391.5 273.7,390.2" stroke="#6d8ca4" stroke-width="0.68"/>
<path d="M303.7,392.0Q304.1,391.0 305.7,391.1" stroke="#4d6f8b" stroke-width="0.71"/>
<path d="M294.7,401.8Q294.8,403.0 296.7,403.0" stroke="#8fa9bd" stroke-width="0.76"/>
<path d="M307.2,385.4Q308.0,384.3 309.9,384.8" stroke="#4d6f8b" stroke-width="0.87"/>
<path d="M298.5,394.6Q299.5,395.0 300.6,394.3" stroke="#46688a" stroke-width="0.51"/>
<path d="M281.5,372.1Q281.4,371.0 279.6,370.9" stroke="#46688a" stroke-width="0.62"/>
<path d="M275.5,378.1Q274.7,378.8 273.4,378.8" stroke="#5c7e98" stroke-width="0.76"/>
<path d="M297.3,394.3Q298.3,394.6 299.1,395.6" stroke="#46688a" stroke-width="0.56"/>
<path d="M300.9,385.0Q302.1,384.5 303.1,383.6" stroke="#c9d6e0" stroke-width="0.82"/>
<path d="M273.7,384.1Q272.7,383.5 271.4,384.0" stroke="#8fa9bd" stroke-width="0.99"/>
<path d="M301.5,390.6Q301.9,391.6 303.4,391.7" stroke="#8fa9bd" stroke-width="0.77"/>
<path d="M275.7,397.2Q274.8,397.7 274.8,399.1" stroke="#8fa9bd" stroke-width="0.97"/>
<path d="M298.0,377.0Q298.2,375.7 300.5,375.9" stroke="#5c7e98" stroke-width="0.59"/>
<path d="M302.6,386.4Q303.7,386.9 304.3,388.1" stroke="#5f819b" stroke-width="0.99"/>
<path d="M295.9,398.9Q295.7,400.1 297.5,400.7" stroke="#46688a" stroke-width="0.61"/>
<path d="M275.4,397.4Q274.9,398.5 273.3,398.8" stroke="#5c7e98" stroke-width="0.81"/>
<path d="M285.1,368.9Q286.0,368.3 286.5,367.1" stroke="#6d8ca4" stroke-width="0.66"/>
<path d="M296.1,375.1Q297.2,374.5 298.4,374.7" stroke="#c9d6e0" stroke-width="0.50"/>
<path d="M300.4,385.9Q301.2,385.0 302.8,385.3" stroke="#6d8ca4" stroke-width="0.89"/>
<path d="M271.9,390.6Q271.3,391.6 269.7,390.3" stroke="#46688a" stroke-width="0.94"/>
<path d="M282.8,398.5Q281.8,398.8 281.7,400.2" stroke="#6d8ca4" stroke-width="0.53"/>
<path d="M294.0,396.3Q294.0,397.7 295.2,398.7" stroke="#6d8ca4" stroke-width="0.83"/>
<path d="M297.4,376.7Q298.6,376.9 299.6,375.7" stroke="#5c7e98" stroke-width="0.57"/>
<path d="M282.9,401.1Q281.7,401.5 281.5,403.2" stroke="#46688a" stroke-width="0.84"/>
<path d="M288.1,373.0Q288.7,372.1 289.3,371.3" stroke="#6d8ca4" stroke-width="0.91"/>
<path d="M282.6,377.2Q282.1,376.1 280.1,376.9" stroke="#6d8ca4" stroke-width="0.63"/>
<path d="M295.2,376.5Q294.6,375.4 296.8,374.4" stroke="#46688a" stroke-width="0.72"/>
<path d="M296.6,371.7Q297.1,370.6 298.8,370.8" stroke="#5f819b" stroke-width="0.80"/>
<path d="M297.9,396.0Q299.1,396.6 300.6,395.9" stroke="#4d6f8b" stroke-width="0.58"/>
<path d="M285.4,398.2Q284.1,397.7 283.1,399.6" stroke="#8fa9bd" stroke-width="0.80"/>
<path d="M303.6,383.2Q303.7,382.2 304.7,381.6" stroke="#54768f" stroke-width="0.55"/>
<path d="M302.2,379.1Q303.2,378.3 304.7,379.6" stroke="#8fa9bd" stroke-width="0.69"/>
<path d="M294.7,369.7Q293.8,368.7 294.3,367.0" stroke="#46688a" stroke-width="0.57"/>
<path d="M285.3,395.3Q284.5,395.9 284.8,397.3" stroke="#8fa9bd" stroke-width="0.75"/>
<path d="M279.0,385.9Q278.8,384.7 276.7,384.8" stroke="#5f819b" stroke-width="0.70"/>
<path d="M296.6,398.4Q297.3,399.5 296.0,401.1" stroke="#6d8ca4" stroke-width="0.71"/>
<path d="M296.1,402.9Q295.3,403.6 295.2,404.9" stroke="#46688a" stroke-width="0.68"/>
<path d="M292.7,376.3Q293.3,375.3 294.0,374.5" stroke="#c9d6e0" stroke-width="0.80"/>
<path d="M295.8,375.1Q296.7,374.2 298.3,374.3" stroke="#6d8ca4" stroke-width="0.78"/>
<path d="M276.0,376.6Q275.2,376.0 275.1,374.7" stroke="#5c7e98" stroke-width="0.89"/>
<path d="M281.2,370.5Q282.1,369.8 280.8,368.1" stroke="#46688a" stroke-width="0.92"/>
<path d="M295.1,395.5Q295.8,396.7 297.2,397.2" stroke="#c9d6e0" stroke-width="0.69"/>
<path d="M295.6,395.3Q296.7,395.7 297.9,396.2" stroke="#46688a" stroke-width="0.72"/>
</g>
</g>
<ellipse cx="244.7" cy="381.1" rx="29.6" ry="30.1" fill="url(#gPink)"/>
<path d="M190.1,354.3 C190.1,356.6 190.4,363.9 190.1,368.3 C189.8,372.7 189.5,376.6 188.3,380.7 C187.1,384.8 185.4,389.4 183.1,393.1 C180.8,396.8 177.8,400.3 174.6,403.1 C171.4,405.9 166.9,408.4 163.8,410.1 C160.7,411.8 157.3,412.6 156.0,413.1" fill="none" stroke="#000" stroke-width="3.5" stroke-linecap="butt"/>
<path d="M133.0,416.1 L160.9,404.4 L156.9,413.2 L162.4,422.0 Z" fill="#000"/>
<path d="M371.4,415.2 C369.3,415.4 363.2,416.8 359.0,416.5 C354.8,416.2 350.0,415.2 345.9,413.4 C341.8,411.6 337.7,408.7 334.4,405.5 C331.1,402.3 328.5,398.1 326.2,394.0 C323.9,389.9 321.8,384.6 320.5,380.9 C319.2,377.2 318.6,373.5 318.2,372.0" fill="none" stroke="#000" stroke-width="3.5" stroke-linecap="butt"/>
<path d="M315.2,348.8 L310.0,378.2 L318.4,372.4 L327.7,375.9 Z" fill="#000"/>
</svg>
</body></html>
